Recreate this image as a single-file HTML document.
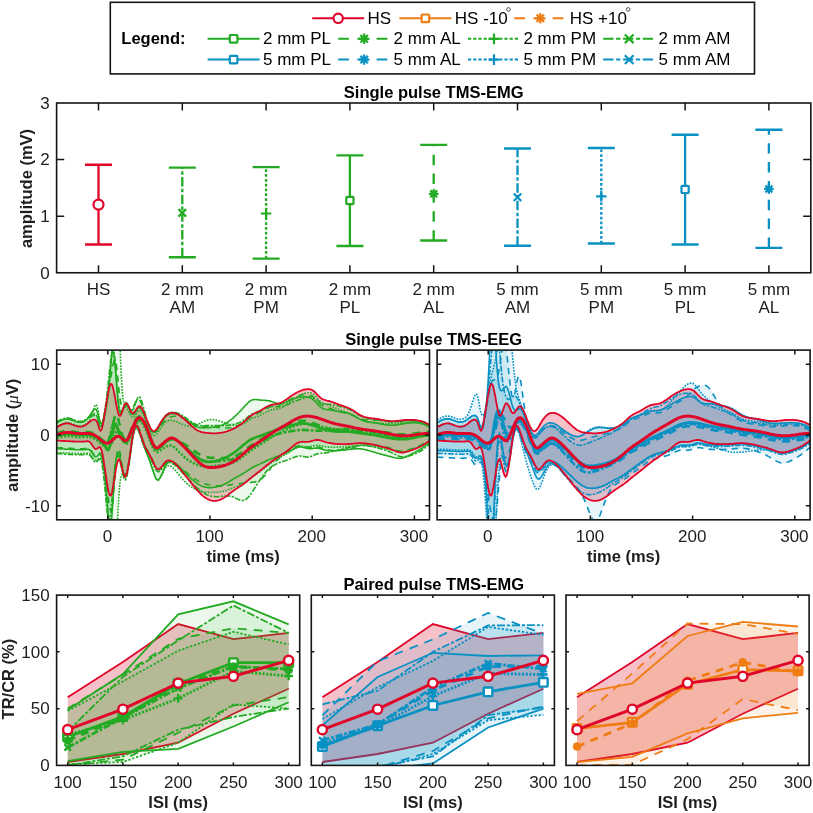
<!DOCTYPE html>
<html><head><meta charset="utf-8"><style>
html,body{margin:0;padding:0;background:#fff;}
svg{display:block;will-change:transform;}
text{font-family:"Liberation Sans",sans-serif;}
</style></head><body>
<svg width="813" height="813" viewBox="0 0 813 813">
<rect width="813" height="813" fill="#fff"/>
<rect x="110.3" y="2.3" width="644.2" height="71.6" fill="#fff" stroke="#151515" stroke-width="1.6"/>
<text x="121.3" y="43.8" font-size="16.5" font-weight="bold" fill="#000">Legend:</text>
<line x1="312.2" y1="18.3" x2="364.2" y2="18.3" stroke="rgb(224,6,42)" stroke-width="2"/>
<circle cx="338.2" cy="18.3" r="4.7" fill="#fff" stroke="rgb(224,6,42)" stroke-width="2.2"/>
<text x="367.6" y="23.9" font-size="17" fill="#000">HS</text>
<line x1="399.4" y1="18.3" x2="451.4" y2="18.3" stroke="rgb(240,125,20)" stroke-width="2"/>
<rect x="421.6" y="14.5" width="7.6" height="7.6" rx="0.8" fill="#fff" stroke="rgb(240,125,20)" stroke-width="2.2" stroke-linejoin="round"/>
<text x="454.8" y="23.9" font-size="17" fill="#000">HS -10</text>
<circle cx="508.4" cy="9.4" r="1.8" fill="none" stroke="#333" stroke-width="0.85"/>
<line x1="514.3" y1="18.3" x2="566.3" y2="18.3" stroke="rgb(240,125,20)" stroke-width="2" stroke-dasharray="10.7 8.5"/>
<path d="M535.1 18.3H545.5M540.3 13.1V23.5M536.56 14.56L544.04 22.04M536.56 22.04L544.04 14.56" stroke="rgb(240,125,20)" stroke-width="2.2" fill="none"/>
<text x="569.7" y="23.9" font-size="17" fill="#000">HS +10</text>
<circle cx="628.2" cy="9.4" r="1.8" fill="none" stroke="#333" stroke-width="0.85"/>
<line x1="207.6" y1="38.8" x2="259.6" y2="38.8" stroke="rgb(35,170,35)" stroke-width="2"/>
<rect x="229.8" y="35" width="7.6" height="7.6" rx="0.8" fill="#fff" stroke="rgb(35,170,35)" stroke-width="2.2" stroke-linejoin="round"/>
<text x="263" y="44.4" font-size="17" fill="#000">2 mm PL</text>
<line x1="338.2" y1="38.8" x2="390.2" y2="38.8" stroke="rgb(35,170,35)" stroke-width="2" stroke-dasharray="10.7 8.5"/>
<path d="M359 38.8H369.4M364.2 33.6V44M360.46 35.06L367.94 42.54M360.46 42.54L367.94 35.06" stroke="rgb(35,170,35)" stroke-width="2.2" fill="none"/>
<text x="393.6" y="44.4" font-size="17" fill="#000">2 mm AL</text>
<line x1="468" y1="38.8" x2="520" y2="38.8" stroke="rgb(35,170,35)" stroke-width="2" stroke-dasharray="3.2 2"/>
<path d="M488.6 38.8H499.4M494 33.4V44.2" stroke="rgb(35,170,35)" stroke-width="2.2" fill="none"/>
<text x="523.4" y="44.4" font-size="17" fill="#000">2 mm PM</text>
<line x1="603.2" y1="38.8" x2="655.2" y2="38.8" stroke="rgb(35,170,35)" stroke-width="2" stroke-dasharray="10.3 2.6 4.3 2.6"/>
<path d="M624.85 34.45L633.55 43.15M624.85 43.15L633.55 34.45" stroke="rgb(35,170,35)" stroke-width="2.2" fill="none"/>
<text x="658.6" y="44.4" font-size="17" fill="#000">2 mm AM</text>
<line x1="207.6" y1="59.6" x2="259.6" y2="59.6" stroke="rgb(10,145,195)" stroke-width="2"/>
<rect x="229.8" y="55.8" width="7.6" height="7.6" rx="0.8" fill="#fff" stroke="rgb(10,145,195)" stroke-width="2.2" stroke-linejoin="round"/>
<text x="263" y="65.2" font-size="17" fill="#000">5 mm PL</text>
<line x1="338.2" y1="59.6" x2="390.2" y2="59.6" stroke="rgb(10,145,195)" stroke-width="2" stroke-dasharray="10.7 8.5"/>
<path d="M359 59.6H369.4M364.2 54.4V64.8M360.46 55.86L367.94 63.34M360.46 63.34L367.94 55.86" stroke="rgb(10,145,195)" stroke-width="2.2" fill="none"/>
<text x="393.6" y="65.2" font-size="17" fill="#000">5 mm AL</text>
<line x1="468" y1="59.6" x2="520" y2="59.6" stroke="rgb(10,145,195)" stroke-width="2" stroke-dasharray="3.2 2"/>
<path d="M488.6 59.6H499.4M494 54.2V65" stroke="rgb(10,145,195)" stroke-width="2.2" fill="none"/>
<text x="523.4" y="65.2" font-size="17" fill="#000">5 mm PM</text>
<line x1="603.2" y1="59.6" x2="655.2" y2="59.6" stroke="rgb(10,145,195)" stroke-width="2" stroke-dasharray="10.3 2.6 4.3 2.6"/>
<path d="M624.85 55.25L633.55 63.95M624.85 63.95L633.55 55.25" stroke="rgb(10,145,195)" stroke-width="2.2" fill="none"/>
<text x="658.6" y="65.2" font-size="17" fill="#000">5 mm AM</text>
<rect x="56.6" y="103" width="754.2" height="169.75" fill="none" stroke="#151515" stroke-width="1.6"/>
<path d="M98.5 272.75v-7.6M98.5 103v7.6M182.3 272.75v-7.6M182.3 103v7.6M266.1 272.75v-7.6M266.1 103v7.6M349.9 272.75v-7.6M349.9 103v7.6M433.7 272.75v-7.6M433.7 103v7.6M517.5 272.75v-7.6M517.5 103v7.6M601.3 272.75v-7.6M601.3 103v7.6M685.1 272.75v-7.6M685.1 103v7.6M768.9 272.75v-7.6M768.9 103v7.6" stroke="#151515" stroke-width="1.5" fill="none"/>
<path d="M56.6 216.17h7.6M810.8 216.17h-7.6M56.6 159.58h7.6M810.8 159.58h-7.6" stroke="#151515" stroke-width="1.5" fill="none"/>
<text x="49.6" y="278.55" font-size="17" text-anchor="end" fill="#1e1e1e">0</text>
<text x="49.6" y="221.97" font-size="17" text-anchor="end" fill="#1e1e1e">1</text>
<text x="49.6" y="165.38" font-size="17" text-anchor="end" fill="#1e1e1e">2</text>
<text x="49.6" y="108.8" font-size="17" text-anchor="end" fill="#1e1e1e">3</text>
<text x="98.5" y="294.8" font-size="17" text-anchor="middle" fill="#1e1e1e">HS</text>
<text x="182.3" y="294.8" font-size="17" text-anchor="middle" fill="#1e1e1e">2 mm</text>
<text x="182.3" y="313.2" font-size="17" text-anchor="middle" fill="#1e1e1e">AM</text>
<text x="266.1" y="294.8" font-size="17" text-anchor="middle" fill="#1e1e1e">2 mm</text>
<text x="266.1" y="313.2" font-size="17" text-anchor="middle" fill="#1e1e1e">PM</text>
<text x="349.9" y="294.8" font-size="17" text-anchor="middle" fill="#1e1e1e">2 mm</text>
<text x="349.9" y="313.2" font-size="17" text-anchor="middle" fill="#1e1e1e">PL</text>
<text x="433.7" y="294.8" font-size="17" text-anchor="middle" fill="#1e1e1e">2 mm</text>
<text x="433.7" y="313.2" font-size="17" text-anchor="middle" fill="#1e1e1e">AL</text>
<text x="517.5" y="294.8" font-size="17" text-anchor="middle" fill="#1e1e1e">5 mm</text>
<text x="517.5" y="313.2" font-size="17" text-anchor="middle" fill="#1e1e1e">AM</text>
<text x="601.3" y="294.8" font-size="17" text-anchor="middle" fill="#1e1e1e">5 mm</text>
<text x="601.3" y="313.2" font-size="17" text-anchor="middle" fill="#1e1e1e">PM</text>
<text x="685.1" y="294.8" font-size="17" text-anchor="middle" fill="#1e1e1e">5 mm</text>
<text x="685.1" y="313.2" font-size="17" text-anchor="middle" fill="#1e1e1e">PL</text>
<text x="768.9" y="294.8" font-size="17" text-anchor="middle" fill="#1e1e1e">5 mm</text>
<text x="768.9" y="313.2" font-size="17" text-anchor="middle" fill="#1e1e1e">AL</text>
<text x="433.7" y="98.1" font-size="16.5" text-anchor="middle" font-weight="bold" fill="#000">Single pulse TMS-EMG</text>
<text x="0" y="0" font-size="16.5" text-anchor="middle" font-weight="bold" fill="#1e1e1e" transform="translate(32.4 188.5) rotate(-90)">amplitude (mV)</text>
<line x1="98.5" y1="244.51" x2="98.5" y2="164.79" stroke="rgb(224,6,42)" stroke-width="2.3"/>
<path d="M85 244.51H112M85 164.79H112" stroke="rgb(224,6,42)" stroke-width="2.4" fill="none"/>
<circle cx="98.5" cy="204.62" r="5" fill="#fff" stroke="rgb(224,6,42)" stroke-width="2.2"/>
<line x1="182.3" y1="257.19" x2="182.3" y2="167.67" stroke="rgb(35,170,35)" stroke-width="2.3" stroke-dasharray="9.49 2.34 3.51 2.34"/>
<path d="M168.8 257.19H195.8M168.8 167.67H195.8" stroke="rgb(35,170,35)" stroke-width="2.4" fill="none"/>
<path d="M178.55 209.13L186.05 216.63M178.55 216.63L186.05 209.13" stroke="rgb(35,170,35)" stroke-width="2.2" fill="none"/>
<line x1="266.1" y1="258.6" x2="266.1" y2="167.11" stroke="rgb(35,170,35)" stroke-width="2.3" stroke-dasharray="2.73 2.08"/>
<path d="M252.6 258.6H279.6M252.6 167.11H279.6" stroke="rgb(35,170,35)" stroke-width="2.4" fill="none"/>
<path d="M260.9 213.51H271.3M266.1 208.31V218.71" stroke="rgb(35,170,35)" stroke-width="2.2" fill="none"/>
<line x1="349.9" y1="245.93" x2="349.9" y2="155.4" stroke="rgb(35,170,35)" stroke-width="2.3"/>
<path d="M336.4 245.93H363.4M336.4 155.4H363.4" stroke="rgb(35,170,35)" stroke-width="2.4" fill="none"/>
<rect x="346.3" y="196.89" width="7.2" height="7.2" rx="0.8" fill="#fff" stroke="rgb(35,170,35)" stroke-width="2.2" stroke-linejoin="round"/>
<line x1="433.7" y1="240.55" x2="433.7" y2="144.87" stroke="rgb(35,170,35)" stroke-width="2.3" stroke-dasharray="10.4 8.45"/>
<path d="M420.2 240.55H447.2M420.2 144.87H447.2" stroke="rgb(35,170,35)" stroke-width="2.4" fill="none"/>
<path d="M428.9 193.82H438.5M433.7 189.02V198.62M430.24 190.36L437.16 197.27M430.24 197.27L437.16 190.36" stroke="rgb(35,170,35)" stroke-width="2.2" fill="none"/>
<line x1="517.5" y1="245.7" x2="517.5" y2="148.49" stroke="rgb(10,145,195)" stroke-width="2.3" stroke-dasharray="9.49 2.34 3.51 2.34"/>
<path d="M504 245.7H531M504 148.49H531" stroke="rgb(10,145,195)" stroke-width="2.4" fill="none"/>
<path d="M513.75 193.46L521.25 200.96M513.75 200.96L521.25 193.46" stroke="rgb(10,145,195)" stroke-width="2.2" fill="none"/>
<line x1="601.3" y1="243.5" x2="601.3" y2="147.98" stroke="rgb(10,145,195)" stroke-width="2.3" stroke-dasharray="2.73 2.08"/>
<path d="M587.8 243.5H614.8M587.8 147.98H614.8" stroke="rgb(10,145,195)" stroke-width="2.4" fill="none"/>
<path d="M596.1 196.31H606.5M601.3 191.11V201.51" stroke="rgb(10,145,195)" stroke-width="2.2" fill="none"/>
<line x1="685.1" y1="244.51" x2="685.1" y2="134.8" stroke="rgb(10,145,195)" stroke-width="2.3"/>
<path d="M671.6 244.51H698.6M671.6 134.8H698.6" stroke="rgb(10,145,195)" stroke-width="2.4" fill="none"/>
<rect x="681.5" y="185.8" width="7.2" height="7.2" rx="0.8" fill="#fff" stroke="rgb(10,145,195)" stroke-width="2.2" stroke-linejoin="round"/>
<line x1="768.9" y1="247.85" x2="768.9" y2="129.82" stroke="rgb(10,145,195)" stroke-width="2.3" stroke-dasharray="10.4 8.45"/>
<path d="M755.4 247.85H782.4M755.4 129.82H782.4" stroke="rgb(10,145,195)" stroke-width="2.4" fill="none"/>
<path d="M764.1 188.89H773.7M768.9 184.09V193.69M765.44 185.44L772.36 192.35M765.44 192.35L772.36 185.44" stroke="rgb(10,145,195)" stroke-width="2.2" fill="none"/>
<defs><clipPath id="cl1"><rect x="56.7" y="350.1" width="372.8" height="169.7"/></clipPath><clipPath id="cl2"><rect x="437.1" y="350.1" width="373" height="169.7"/></clipPath></defs>
<g clip-path="url(#cl1)">
<path d="M56.7 427.3 57.7 426.7 58.7 426.1 59.8 425.6 60.8 425.1 61.8 424.6 62.8 424.2 63.9 423.8 64.9 423.6 65.9 423.4 66.9 423.3 67.9 423.4 69.0 423.5 70.0 423.8 71.0 424.1 72.0 424.5 73.1 424.9 74.1 425.3 75.1 425.6 76.1 426.0 77.1 426.3 78.2 426.5 79.2 426.7 80.2 426.7 81.2 426.6 82.2 426.4 83.3 426.1 84.3 425.7 85.3 425.1 86.3 424.5 87.4 423.7 88.4 422.8 89.4 422.0 90.4 421.2 91.4 420.5 92.5 420.0 93.5 419.6 94.5 419.6 95.5 420.0 96.6 421.2 97.6 423.3 98.6 426.5 99.6 429.5 100.6 430.8 101.7 429.2 102.7 425.3 103.7 419.9 104.7 413.6 105.8 406.9 106.8 400.4 107.8 394.3 108.8 389.2 109.8 385.6 110.9 383.8 111.9 384.3 112.9 387.1 113.9 391.6 115.0 397.0 116.0 402.8 117.0 408.2 118.0 412.6 119.0 415.3 120.1 415.8 121.1 414.4 122.1 411.8 123.1 408.6 124.2 405.7 125.2 403.7 126.2 403.2 127.2 404.0 128.2 405.8 129.3 407.9 130.3 410.2 131.3 412.0 132.3 413.1 133.4 413.1 134.4 412.2 135.4 410.8 136.4 409.2 137.4 407.7 138.5 406.6 139.5 406.2 140.5 406.6 141.5 407.8 142.5 409.5 143.6 411.6 144.6 414.1 145.6 416.8 146.6 419.4 147.7 422.0 148.7 424.4 149.7 426.6 150.7 428.4 151.7 429.8 152.8 430.8 153.8 431.1 154.8 430.9 155.8 430.1 156.9 429.0 157.9 427.5 158.9 425.8 159.9 424.0 160.9 422.3 162.0 420.6 163.0 419.1 164.0 417.7 165.0 416.5 166.1 415.4 167.1 414.6 168.1 413.9 169.1 413.4 170.1 413.1 171.2 412.9 172.2 412.8 173.2 412.9 174.2 413.0 175.3 413.3 176.3 413.7 177.3 414.1 178.3 414.7 179.3 415.3 180.4 415.9 181.4 416.7 182.4 417.5 183.4 418.3 184.4 419.2 185.5 420.1 186.5 421.1 187.5 422.0 188.5 423.0 189.6 424.0 190.6 424.9 191.6 425.9 192.6 426.8 193.6 427.6 194.7 428.4 195.7 429.2 196.7 429.9 197.7 430.5 198.8 431.0 199.8 431.4 200.8 431.8 201.8 432.1 202.8 432.3 203.9 432.5 204.9 432.7 205.9 432.8 206.9 432.9 208.0 433.0 209.0 433.1 210.0 433.2 211.0 433.2 212.0 433.3 213.1 433.3 214.1 433.3 215.1 433.3 216.1 433.3 217.2 433.2 218.2 433.1 219.2 433.0 220.2 432.9 221.2 432.7 222.3 432.6 223.3 432.3 224.3 432.1 225.3 431.8 226.4 431.5 227.4 431.2 228.4 430.8 229.4 430.4 230.4 430.0 231.5 429.6 232.5 429.1 233.5 428.6 234.5 428.1 235.6 427.6 236.6 427.0 237.6 426.4 238.6 425.8 239.6 425.1 240.7 424.5 241.7 423.7 242.7 422.9 243.7 422.1 244.7 421.2 245.8 420.2 246.8 419.2 247.8 418.2 248.8 417.3 249.9 416.4 250.9 415.6 251.9 414.9 252.9 414.2 253.9 413.7 255.0 413.2 256.0 412.7 257.0 412.2 258.0 411.8 259.1 411.3 260.1 410.8 261.1 410.2 262.1 409.6 263.1 409.0 264.2 408.3 265.2 407.7 266.2 407.1 267.2 406.5 268.3 406.0 269.3 405.6 270.3 405.2 271.3 404.9 272.3 404.7 273.4 404.5 274.4 404.4 275.4 404.2 276.4 404.1 277.5 403.9 278.5 403.6 279.5 403.3 280.5 402.9 281.5 402.5 282.6 401.9 283.6 401.3 284.6 400.6 285.6 399.9 286.7 399.2 287.7 398.5 288.7 397.7 289.7 397.0 290.7 396.3 291.8 395.6 292.8 395.0 293.8 394.3 294.8 393.7 295.8 393.1 296.9 392.5 297.9 392.0 298.9 391.5 299.9 391.1 301.0 390.6 302.0 390.3 303.0 389.9 304.0 389.7 305.0 389.5 306.1 389.3 307.1 389.2 308.1 389.2 309.1 389.2 310.2 389.4 311.2 389.7 312.2 390.1 313.2 390.7 314.2 391.5 315.3 392.5 316.3 393.5 317.3 394.6 318.3 395.7 319.4 396.7 320.4 397.6 321.4 398.4 322.4 399.0 323.4 399.5 324.5 399.9 325.5 400.2 326.5 400.5 327.5 400.8 328.6 401.0 329.6 401.2 330.6 401.5 331.6 401.8 332.6 402.1 333.7 402.5 334.7 402.9 335.7 403.3 336.7 403.7 337.8 404.1 338.8 404.5 339.8 404.9 340.8 405.2 341.8 405.6 342.9 405.9 343.9 406.3 344.9 406.6 345.9 407.0 346.9 407.4 348.0 407.8 349.0 408.2 350.0 408.7 351.0 409.3 352.1 409.8 353.1 410.5 354.1 411.1 355.1 411.8 356.1 412.5 357.2 413.2 358.2 413.9 359.2 414.5 360.2 415.1 361.3 415.7 362.3 416.1 363.3 416.5 364.3 416.9 365.3 417.2 366.4 417.4 367.4 417.6 368.4 417.8 369.4 418.0 370.5 418.1 371.5 418.3 372.5 418.4 373.5 418.5 374.5 418.6 375.6 418.7 376.6 418.9 377.6 419.0 378.6 419.2 379.7 419.4 380.7 419.6 381.7 419.8 382.7 420.0 383.7 420.2 384.8 420.4 385.8 420.6 386.8 420.7 387.8 420.9 388.9 421.0 389.9 421.1 390.9 421.2 391.9 421.2 392.9 421.2 394.0 421.1 395.0 421.1 396.0 421.0 397.0 420.9 398.0 420.8 399.1 420.7 400.1 420.6 401.1 420.5 402.1 420.3 403.2 420.2 404.2 420.1 405.2 420.0 406.2 420.0 407.2 419.9 408.3 419.9 409.3 419.8 410.3 419.8 411.3 419.8 412.4 419.9 413.4 419.9 414.4 420.0 415.4 420.1 416.4 420.2 417.5 420.4 418.5 420.6 419.5 420.8 420.5 421.0 421.6 421.3 422.6 421.6 423.6 422.0 424.6 422.4 425.6 422.9 426.7 423.4 427.7 423.9 428.7 424.5 429.7 425.0 L429.7 440.5 428.7 441.2 427.7 442.0 426.7 442.7 425.6 443.4 424.6 444.1 423.6 444.7 422.6 445.4 421.6 446.0 420.5 446.5 419.5 447.0 418.5 447.5 417.5 447.9 416.4 448.4 415.4 448.8 414.4 449.1 413.4 449.5 412.4 449.9 411.3 450.3 410.3 450.6 409.3 451.0 408.3 451.3 407.2 451.7 406.2 451.9 405.2 452.2 404.2 452.4 403.2 452.5 402.1 452.5 401.1 452.5 400.1 452.4 399.1 452.2 398.0 452.0 397.0 451.7 396.0 451.3 395.0 450.9 394.0 450.5 392.9 450.1 391.9 449.7 390.9 449.3 389.9 449.0 388.9 448.6 387.8 448.3 386.8 447.9 385.8 447.6 384.8 447.3 383.7 447.1 382.7 446.8 381.7 446.6 380.7 446.3 379.7 446.1 378.6 445.8 377.6 445.6 376.6 445.4 375.6 445.1 374.5 444.9 373.5 444.7 372.5 444.5 371.5 444.3 370.5 444.1 369.4 443.9 368.4 443.8 367.4 443.6 366.4 443.5 365.3 443.4 364.3 443.3 363.3 443.2 362.3 443.2 361.3 443.1 360.2 443.1 359.2 443.2 358.2 443.2 357.2 443.3 356.1 443.4 355.1 443.5 354.1 443.6 353.1 443.7 352.1 443.8 351.0 443.9 350.0 443.9 349.0 444.0 348.0 444.1 346.9 444.1 345.9 444.1 344.9 444.2 343.9 444.2 342.9 444.2 341.8 444.2 340.8 444.1 339.8 444.1 338.8 444.1 337.8 444.0 336.7 443.9 335.7 443.9 334.7 443.8 333.7 443.6 332.6 443.5 331.6 443.4 330.6 443.2 329.6 443.0 328.6 442.8 327.5 442.6 326.5 442.3 325.5 442.1 324.5 441.7 323.4 441.4 322.4 441.1 321.4 440.7 320.4 440.4 319.4 440.2 318.3 440.0 317.3 439.9 316.3 440.0 315.3 440.2 314.2 440.4 313.2 440.7 312.2 441.0 311.2 441.2 310.2 441.5 309.1 441.7 308.1 441.8 307.1 441.8 306.1 441.8 305.0 441.8 304.0 441.8 303.0 441.7 302.0 441.8 301.0 441.9 299.9 442.1 298.9 442.4 297.9 442.9 296.9 443.4 295.8 444.1 294.8 444.8 293.8 445.6 292.8 446.4 291.8 447.3 290.7 448.1 289.7 449.0 288.7 449.8 287.7 450.6 286.7 451.3 285.6 452.0 284.6 452.7 283.6 453.4 282.6 454.1 281.5 454.8 280.5 455.5 279.5 456.1 278.5 456.8 277.5 457.5 276.4 458.2 275.4 458.9 274.4 459.6 273.4 460.3 272.3 461.1 271.3 461.8 270.3 462.6 269.3 463.4 268.3 464.2 267.2 465.0 266.2 465.8 265.2 466.7 264.2 467.5 263.1 468.4 262.1 469.2 261.1 470.0 260.1 470.8 259.1 471.6 258.0 472.4 257.0 473.2 256.0 474.0 255.0 474.8 253.9 475.6 252.9 476.4 251.9 477.2 250.9 478.0 249.9 478.9 248.8 479.7 247.8 480.6 246.8 481.5 245.8 482.3 244.7 483.1 243.7 483.9 242.7 484.6 241.7 485.3 240.7 485.9 239.6 486.6 238.6 487.2 237.6 487.9 236.6 488.5 235.6 489.2 234.5 489.9 233.5 490.7 232.5 491.4 231.5 492.2 230.4 493.0 229.4 493.8 228.4 494.7 227.4 495.5 226.4 496.2 225.3 497.0 224.3 497.6 223.3 498.3 222.3 498.8 221.2 499.3 220.2 499.7 219.2 500.1 218.2 500.4 217.2 500.6 216.1 500.8 215.1 500.8 214.1 500.8 213.1 500.8 212.0 500.6 211.0 500.4 210.0 500.1 209.0 499.7 208.0 499.3 206.9 498.7 205.9 498.1 204.9 497.5 203.9 496.7 202.8 495.9 201.8 495.0 200.8 494.0 199.8 493.0 198.8 491.9 197.7 490.8 196.7 489.6 195.7 488.4 194.7 487.2 193.6 485.9 192.6 484.7 191.6 483.4 190.6 482.1 189.6 480.8 188.5 479.5 187.5 478.2 186.5 476.9 185.5 475.6 184.4 474.3 183.4 473.0 182.4 471.8 181.4 470.5 180.4 469.3 179.3 468.1 178.3 466.9 177.3 465.8 176.3 464.7 175.3 463.8 174.2 462.9 173.2 462.1 172.2 461.5 171.2 461.0 170.1 460.6 169.1 460.5 168.1 460.5 167.1 460.8 166.1 461.4 165.0 462.3 164.0 463.5 163.0 464.9 162.0 466.3 160.9 467.6 159.9 468.6 158.9 469.2 157.9 469.3 156.9 468.7 155.8 467.3 154.8 465.5 153.8 463.3 152.8 461.1 151.7 458.9 150.7 457.0 149.7 455.2 148.7 453.5 147.7 451.8 146.6 450.0 145.6 447.9 144.6 445.6 143.6 443.0 142.5 440.1 141.5 437.1 140.5 434.1 139.5 431.2 138.5 428.6 137.4 426.5 136.4 425.4 135.4 425.7 134.4 428.0 133.4 432.4 132.3 438.3 131.3 445.3 130.3 452.7 129.3 459.9 128.2 466.5 127.2 471.9 126.2 475.5 125.2 476.8 124.2 475.6 123.1 472.6 122.1 468.6 121.1 464.5 120.1 461.1 119.0 459.4 118.0 460.2 117.0 463.6 116.0 468.9 115.0 475.2 113.9 481.9 112.9 488.0 111.9 492.8 110.9 495.5 109.8 495.4 108.8 492.7 107.8 488.0 106.8 481.8 105.8 474.9 104.7 467.7 103.7 461.0 102.7 455.2 101.7 450.8 100.6 448.0 99.6 447.0 98.6 447.3 97.6 448.2 96.6 449.0 95.5 449.1 94.5 448.4 93.5 447.1 92.5 445.5 91.4 443.9 90.4 442.6 89.4 441.8 88.4 441.3 87.4 441.2 86.3 441.3 85.3 441.4 84.3 441.5 83.3 441.6 82.2 441.6 81.2 441.7 80.2 441.7 79.2 441.7 78.2 441.7 77.1 441.6 76.1 441.6 75.1 441.6 74.1 441.5 73.1 441.5 72.0 441.4 71.0 441.4 70.0 441.3 69.0 441.2 67.9 441.2 66.9 441.1 65.9 441.1 64.9 441.0 63.9 441.0 62.8 440.9 61.8 440.9 60.8 440.8 59.8 440.7 58.7 440.7 57.7 440.6 56.7 440.6Z" fill="rgb(224,6,42)" fill-opacity="0.25" stroke="none"/>
<path d="M56.7 423.1 57.7 422.5 58.7 421.9 59.8 421.3 60.8 420.8 61.8 420.3 62.8 419.9 63.9 419.6 64.9 419.3 65.9 419.2 66.9 419.1 67.9 419.1 69.0 419.3 70.0 419.5 71.0 419.9 72.0 420.2 73.1 420.6 74.1 421.0 75.1 421.4 76.1 421.8 77.1 422.1 78.2 422.3 79.2 422.4 80.2 422.5 81.2 422.4 82.2 422.2 83.3 421.9 84.3 421.4 85.3 420.7 86.3 419.9 87.4 418.9 88.4 417.6 89.4 416.2 90.4 414.6 91.4 413.0 92.5 411.5 93.5 410.1 94.5 409.2 95.5 409.0 96.6 410.0 97.6 412.5 98.6 416.5 99.6 420.6 100.6 423.3 101.7 423.4 102.7 421.3 103.7 417.9 104.7 413.7 105.8 409.0 106.8 403.6 107.8 396.7 108.8 387.4 109.8 375.9 110.9 363.8 111.9 354.4 112.9 350.8 113.9 354.4 115.0 364.2 116.0 377.2 117.0 390.5 118.0 401.6 119.0 409.4 120.1 413.2 121.1 413.7 122.1 412.2 123.1 409.6 124.2 407.0 125.2 405.1 126.2 404.6 127.2 405.5 128.2 407.2 129.3 409.4 130.3 411.6 131.3 413.4 132.3 414.5 133.4 414.5 134.4 413.6 135.4 412.2 136.4 410.6 137.4 409.1 138.5 408.0 139.5 407.6 140.5 408.0 141.5 409.2 142.5 410.9 143.6 413.1 144.6 415.5 145.6 418.2 146.6 420.8 147.7 423.4 148.7 425.8 149.7 428.0 150.7 429.8 151.7 431.2 152.8 432.1 153.8 432.5 154.8 432.2 155.8 431.5 156.9 430.3 157.9 428.8 158.9 427.1 159.9 425.3 160.9 423.5 162.0 421.8 163.0 420.3 164.0 418.8 165.0 417.6 166.1 416.5 167.1 415.6 168.1 414.9 169.1 414.4 170.1 414.0 171.2 413.7 172.2 413.6 173.2 413.5 174.2 413.6 175.3 413.8 176.3 414.0 177.3 414.4 178.3 414.8 179.3 415.2 180.4 415.8 181.4 416.4 182.4 417.0 183.4 417.7 184.4 418.4 185.5 419.2 186.5 419.9 187.5 420.7 188.5 421.5 189.6 422.2 190.6 423.0 191.6 423.7 192.6 424.4 193.6 425.1 194.7 425.7 195.7 426.2 196.7 426.7 197.7 427.0 198.8 427.3 199.8 427.6 200.8 427.7 201.8 427.8 202.8 427.9 203.9 427.9 204.9 427.8 205.9 427.8 206.9 427.7 208.0 427.7 209.0 427.6 210.0 427.5 211.0 427.4 212.0 427.3 213.1 427.2 214.1 427.1 215.1 426.9 216.1 426.7 217.2 426.5 218.2 426.2 219.2 426.0 220.2 425.6 221.2 425.3 222.3 424.9 223.3 424.5 224.3 424.0 225.3 423.5 226.4 422.9 227.4 422.3 228.4 421.6 229.4 420.9 230.4 420.1 231.5 419.3 232.5 418.5 233.5 417.6 234.5 416.7 235.6 415.7 236.6 414.7 237.6 413.7 238.6 412.7 239.6 411.7 240.7 410.6 241.7 409.5 242.7 408.5 243.7 407.3 244.7 406.2 245.8 405.1 246.8 404.0 247.8 403.0 248.8 402.0 249.9 401.2 250.9 400.6 251.9 400.1 252.9 399.8 253.9 399.6 255.0 399.5 256.0 399.5 257.0 399.6 258.0 399.7 259.1 399.9 260.1 400.0 261.1 400.1 262.1 400.2 263.1 400.3 264.2 400.3 265.2 400.4 266.2 400.5 267.2 400.6 268.3 400.7 269.3 400.9 270.3 401.1 271.3 401.4 272.3 401.8 273.4 402.1 274.4 402.5 275.4 402.8 276.4 403.1 277.5 403.3 278.5 403.5 279.5 403.6 280.5 403.6 281.5 403.4 282.6 403.2 283.6 402.9 284.6 402.6 285.6 402.2 286.7 401.7 287.7 401.3 288.7 400.8 289.7 400.4 290.7 400.0 291.8 399.5 292.8 399.1 293.8 398.8 294.8 398.4 295.8 398.1 296.9 397.8 297.9 397.5 298.9 397.3 299.9 397.1 301.0 397.0 302.0 396.9 303.0 396.8 304.0 396.8 305.0 396.8 306.1 396.8 307.1 397.0 308.1 397.2 309.1 397.4 310.2 397.8 311.2 398.2 312.2 398.8 313.2 399.6 314.2 400.5 315.3 401.5 316.3 402.7 317.3 403.8 318.3 404.9 319.4 406.0 320.4 406.9 321.4 407.7 322.4 408.3 323.4 408.7 324.5 409.1 325.5 409.3 326.5 409.5 327.5 409.7 328.6 409.8 329.6 409.9 330.6 410.0 331.6 410.1 332.6 410.3 333.7 410.5 334.7 410.7 335.7 410.9 336.7 411.1 337.8 411.3 338.8 411.5 339.8 411.7 340.8 411.9 341.8 412.0 342.9 412.2 343.9 412.3 344.9 412.5 345.9 412.7 346.9 412.9 348.0 413.2 349.0 413.5 350.0 413.8 351.0 414.2 352.1 414.7 353.1 415.2 354.1 415.8 355.1 416.4 356.1 417.0 357.2 417.7 358.2 418.3 359.2 418.9 360.2 419.4 361.3 419.9 362.3 420.3 363.3 420.7 364.3 421.0 365.3 421.3 366.4 421.6 367.4 421.8 368.4 422.0 369.4 422.2 370.5 422.3 371.5 422.5 372.5 422.6 373.5 422.7 374.5 422.9 375.6 423.0 376.6 423.1 377.6 423.3 378.6 423.5 379.7 423.7 380.7 423.9 381.7 424.1 382.7 424.3 383.7 424.5 384.8 424.7 385.8 424.8 386.8 425.0 387.8 425.1 388.9 425.2 389.9 425.3 390.9 425.3 391.9 425.3 392.9 425.3 394.0 425.2 395.0 425.1 396.0 424.9 397.0 424.8 398.0 424.6 399.1 424.5 400.1 424.3 401.1 424.1 402.1 423.9 403.2 423.8 404.2 423.6 405.2 423.4 406.2 423.3 407.2 423.2 408.3 423.1 409.3 423.0 410.3 422.9 411.3 422.8 412.4 422.8 413.4 422.8 414.4 422.8 415.4 422.8 416.4 422.9 417.5 423.0 418.5 423.1 419.5 423.2 420.5 423.4 421.6 423.7 422.6 423.9 423.6 424.3 424.6 424.6 425.6 425.0 426.7 425.5 427.7 426.0 428.7 426.5 429.7 427.0 L429.7 442.5 428.7 443.2 427.7 444.0 426.7 444.8 425.6 445.6 424.6 446.3 423.6 447.1 422.6 447.8 421.6 448.5 420.5 449.2 419.5 449.8 418.5 450.4 417.5 451.0 416.4 451.5 415.4 452.1 414.4 452.6 413.4 453.1 412.4 453.7 411.3 454.2 410.3 454.8 409.3 455.3 408.3 455.8 407.2 456.3 406.2 456.8 405.2 457.2 404.2 457.6 403.2 457.9 402.1 458.1 401.1 458.3 400.1 458.4 399.1 458.3 398.0 458.3 397.0 458.2 396.0 458.0 395.0 457.8 394.0 457.5 392.9 457.3 391.9 457.0 390.9 456.7 389.9 456.4 388.9 456.2 387.8 455.9 386.8 455.6 385.8 455.4 384.8 455.1 383.7 454.9 382.7 454.6 381.7 454.3 380.7 454.1 379.7 453.8 378.6 453.5 377.6 453.2 376.6 452.9 375.6 452.6 374.5 452.3 373.5 452.0 372.5 451.7 371.5 451.4 370.5 451.0 369.4 450.7 368.4 450.5 367.4 450.2 366.4 449.9 365.3 449.7 364.3 449.5 363.3 449.3 362.3 449.1 361.3 449.0 360.2 448.9 359.2 448.8 358.2 448.8 357.2 448.8 356.1 448.8 355.1 448.9 354.1 448.9 353.1 449.0 352.1 449.1 351.0 449.2 350.0 449.3 349.0 449.4 348.0 449.5 346.9 449.6 345.9 449.7 344.9 449.8 343.9 449.9 342.9 450.1 341.8 450.2 340.8 450.3 339.8 450.4 338.8 450.5 337.8 450.6 336.7 450.7 335.7 450.7 334.7 450.8 333.7 450.8 332.6 450.9 331.6 450.8 330.6 450.8 329.6 450.8 328.6 450.7 327.5 450.5 326.5 450.4 325.5 450.2 324.5 449.9 323.4 449.6 322.4 449.3 321.4 449.0 320.4 448.7 319.4 448.4 318.3 448.2 317.3 448.1 316.3 448.1 315.3 448.1 314.2 448.2 313.2 448.3 312.2 448.5 311.2 448.6 310.2 448.6 309.1 448.6 308.1 448.5 307.1 448.3 306.1 448.1 305.0 447.8 304.0 447.6 303.0 447.3 302.0 447.1 301.0 447.0 299.9 446.9 298.9 447.0 297.9 447.2 296.9 447.5 295.8 447.9 294.8 448.3 293.8 448.8 292.8 449.4 291.8 449.9 290.7 450.5 289.7 451.1 288.7 451.6 287.7 452.1 286.7 452.6 285.6 453.0 284.6 453.5 283.6 453.9 282.6 454.3 281.5 454.7 280.5 455.1 279.5 455.5 278.5 455.9 277.5 456.2 276.4 456.6 275.4 457.0 274.4 457.4 273.4 457.9 272.3 458.3 271.3 458.7 270.3 459.1 269.3 459.6 268.3 460.1 267.2 460.5 266.2 461.0 265.2 461.5 264.2 462.0 263.1 462.5 262.1 463.0 261.1 463.4 260.1 463.9 259.1 464.4 258.0 464.9 257.0 465.3 256.0 465.8 255.0 466.3 253.9 466.8 252.9 467.3 251.9 467.9 250.9 468.5 249.9 469.2 248.8 469.8 247.8 470.5 246.8 471.2 245.8 471.9 244.7 472.6 243.7 473.2 242.7 473.8 241.7 474.4 240.7 475.0 239.6 475.5 238.6 476.1 237.6 476.6 236.6 477.2 235.6 477.7 234.5 478.3 233.5 478.9 232.5 479.5 231.5 480.2 230.4 480.8 229.4 481.4 228.4 482.1 227.4 482.7 226.4 483.3 225.3 483.8 224.3 484.3 223.3 484.8 222.3 485.2 221.2 485.6 220.2 486.0 219.2 486.3 218.2 486.5 217.2 486.8 216.1 487.0 215.1 487.2 214.1 487.3 213.1 487.5 212.0 487.6 211.0 487.6 210.0 487.6 209.0 487.6 208.0 487.6 206.9 487.5 205.9 487.3 204.9 487.1 203.9 486.8 202.8 486.5 201.8 486.1 200.8 485.6 199.8 485.1 198.8 484.5 197.7 483.8 196.7 483.1 195.7 482.4 194.7 481.5 193.6 480.7 192.6 479.8 191.6 478.9 190.6 478.0 189.6 477.0 188.5 476.0 187.5 475.0 186.5 474.0 185.5 473.0 184.4 471.9 183.4 470.9 182.4 469.8 181.4 468.8 180.4 467.7 179.3 466.7 178.3 465.7 177.3 464.8 176.3 463.9 175.3 463.1 174.2 462.4 173.2 461.9 172.2 461.5 171.2 461.3 170.1 461.4 169.1 461.7 168.1 462.4 167.1 463.5 166.1 464.9 165.0 466.8 164.0 469.0 163.0 471.5 162.0 473.9 160.9 476.2 159.9 478.1 158.9 479.4 157.9 480.0 156.9 479.6 155.8 478.1 154.8 475.9 153.8 473.1 152.8 470.0 151.7 466.9 150.7 463.9 149.7 461.0 148.7 458.3 147.7 455.6 146.6 452.9 145.6 450.2 144.6 447.3 143.6 444.3 142.5 441.2 141.5 438.0 140.5 435.0 139.5 432.1 138.5 429.6 137.4 427.6 136.4 426.5 135.4 426.9 134.4 429.2 133.4 433.5 132.3 439.3 131.3 446.0 130.3 453.1 129.3 460.1 128.2 466.5 127.2 471.7 126.2 475.1 125.2 476.4 124.2 475.1 123.1 471.9 122.1 467.6 121.1 462.6 120.1 457.9 119.0 454.1 118.0 452.5 117.0 454.2 116.0 459.8 115.0 469.9 113.9 484.3 112.9 500.8 111.9 516.0 110.9 525.6 109.8 526.9 108.8 520.4 107.8 509.1 106.8 496.2 105.8 484.2 104.7 474.3 103.7 466.6 102.7 460.9 101.7 457.1 100.6 454.8 99.6 454.3 98.6 454.8 97.6 455.8 96.6 456.6 95.5 456.8 94.5 456.1 93.5 454.9 92.5 453.4 91.4 451.9 90.4 450.6 89.4 449.8 88.4 449.4 87.4 449.3 86.3 449.4 85.3 449.5 84.3 449.6 83.3 449.7 82.2 449.7 81.2 449.7 80.2 449.8 79.2 449.8 78.2 449.7 77.1 449.7 76.1 449.7 75.1 449.6 74.1 449.6 73.1 449.5 72.0 449.5 71.0 449.4 70.0 449.4 69.0 449.3 67.9 449.2 66.9 449.2 65.9 449.1 64.9 449.1 63.9 449.0 62.8 449.0 61.8 449.0 60.8 448.9 59.8 448.9 58.7 448.8 57.7 448.8 56.7 448.8Z" fill="rgb(35,170,35)" fill-opacity="0.085" stroke="none"/>
<path d="M56.7 422.4 57.7 421.8 58.7 421.3 59.8 420.7 60.8 420.2 61.8 419.8 62.8 419.4 63.9 419.1 64.9 418.8 65.9 418.7 66.9 418.6 67.9 418.6 69.0 418.8 70.0 419.0 71.0 419.3 72.0 419.6 73.1 420.0 74.1 420.4 75.1 420.8 76.1 421.1 77.1 421.4 78.2 421.6 79.2 421.7 80.2 421.7 81.2 421.7 82.2 421.5 83.3 421.2 84.3 420.8 85.3 420.3 86.3 419.7 87.4 419.0 88.4 418.2 89.4 417.5 90.4 416.8 91.4 416.2 92.5 415.8 93.5 415.5 94.5 415.5 95.5 416.0 96.6 417.2 97.6 419.3 98.6 422.3 99.6 425.3 100.6 426.8 101.7 425.9 102.7 422.9 103.7 418.6 104.7 413.4 105.8 407.8 106.8 402.0 107.8 396.1 108.8 390.1 109.8 383.9 110.9 377.5 111.9 371.0 112.9 365.2 113.9 360.9 115.0 359.6 116.0 362.4 117.0 369.5 118.0 379.6 119.0 390.3 120.1 399.1 121.1 404.7 122.1 407.3 123.1 407.5 124.2 406.5 125.2 405.4 126.2 405.0 127.2 405.5 128.2 406.4 129.3 407.5 130.3 408.3 131.3 408.6 132.3 408.0 133.4 406.5 134.4 404.4 135.4 402.3 136.4 400.4 137.4 399.2 138.5 398.8 139.5 399.6 140.5 401.3 141.5 403.6 142.5 406.5 143.6 409.5 144.6 412.7 145.6 415.8 146.6 418.8 147.7 421.6 148.7 424.3 149.7 426.6 150.7 428.7 151.7 430.3 152.8 431.6 153.8 432.2 154.8 432.3 155.8 431.9 156.9 431.1 157.9 429.9 158.9 428.5 159.9 427.0 160.9 425.5 162.0 424.1 163.0 422.8 164.0 421.6 165.0 420.5 166.1 419.6 167.1 418.7 168.1 418.1 169.1 417.5 170.1 417.1 171.2 416.7 172.2 416.5 173.2 416.3 174.2 416.3 175.3 416.3 176.3 416.3 177.3 416.5 178.3 416.7 179.3 416.9 180.4 417.2 181.4 417.5 182.4 417.9 183.4 418.4 184.4 418.9 185.5 419.4 186.5 419.9 187.5 420.5 188.5 421.1 189.6 421.7 190.6 422.3 191.6 422.9 192.6 423.4 193.6 423.9 194.7 424.4 195.7 424.9 196.7 425.3 197.7 425.6 198.8 425.9 199.8 426.1 200.8 426.2 201.8 426.3 202.8 426.4 203.9 426.5 204.9 426.5 205.9 426.5 206.9 426.6 208.0 426.6 209.0 426.7 210.0 426.7 211.0 426.8 212.0 426.9 213.1 427.0 214.1 427.1 215.1 427.2 216.1 427.3 217.2 427.4 218.2 427.5 219.2 427.6 220.2 427.7 221.2 427.8 222.3 427.9 223.3 428.0 224.3 428.0 225.3 428.0 226.4 428.0 227.4 428.0 228.4 427.9 229.4 427.8 230.4 427.7 231.5 427.5 232.5 427.3 233.5 427.1 234.5 426.8 235.6 426.5 236.6 426.2 237.6 425.8 238.6 425.4 239.6 424.9 240.7 424.4 241.7 423.8 242.7 423.2 243.7 422.5 244.7 421.8 245.8 420.9 246.8 420.1 247.8 419.2 248.8 418.3 249.9 417.5 250.9 416.8 251.9 416.1 252.9 415.6 253.9 415.1 255.0 414.6 256.0 414.1 257.0 413.7 258.0 413.3 259.1 412.8 260.1 412.3 261.1 411.7 262.1 411.2 263.1 410.5 264.2 409.9 265.2 409.3 266.2 408.7 267.2 408.2 268.3 407.7 269.3 407.2 270.3 406.8 271.3 406.5 272.3 406.3 273.4 406.1 274.4 406.0 275.4 405.8 276.4 405.7 277.5 405.5 278.5 405.3 279.5 405.0 280.5 404.7 281.5 404.3 282.6 403.8 283.6 403.3 284.6 402.7 285.6 402.1 286.7 401.5 287.7 400.9 288.7 400.3 289.7 399.7 290.7 399.1 291.8 398.6 292.8 398.0 293.8 397.5 294.8 397.1 295.8 396.6 296.9 396.2 297.9 395.9 298.9 395.5 299.9 395.2 301.0 395.0 302.0 394.8 303.0 394.6 304.0 394.5 305.0 394.5 306.1 394.5 307.1 394.6 308.1 394.7 309.1 394.9 310.2 395.2 311.2 395.6 312.2 396.2 313.2 396.9 314.2 397.8 315.3 398.8 316.3 399.9 317.3 401.0 318.3 402.1 319.4 403.1 320.4 404.1 321.4 404.9 322.4 405.6 323.4 406.1 324.5 406.6 325.5 407.0 326.5 407.3 327.5 407.6 328.6 407.9 329.6 408.2 330.6 408.5 331.6 408.8 332.6 409.2 333.7 409.5 334.7 409.9 335.7 410.3 336.7 410.6 337.8 411.0 338.8 411.3 339.8 411.6 340.8 411.9 341.8 412.1 342.9 412.4 343.9 412.6 344.9 412.9 345.9 413.1 346.9 413.4 348.0 413.7 349.0 414.0 350.0 414.3 351.0 414.7 352.1 415.1 353.1 415.5 354.1 416.0 355.1 416.5 356.1 417.0 357.2 417.5 358.2 418.0 359.2 418.4 360.2 418.8 361.3 419.1 362.3 419.4 363.3 419.6 364.3 419.8 365.3 419.9 366.4 420.0 367.4 420.0 368.4 420.1 369.4 420.1 370.5 420.1 371.5 420.1 372.5 420.1 373.5 420.1 374.5 420.1 375.6 420.1 376.6 420.1 377.6 420.1 378.6 420.2 379.7 420.3 380.7 420.4 381.7 420.5 382.7 420.7 383.7 420.8 384.8 420.9 385.8 421.0 386.8 421.2 387.8 421.3 388.9 421.3 389.9 421.4 390.9 421.4 391.9 421.4 392.9 421.4 394.0 421.4 395.0 421.3 396.0 421.2 397.0 421.1 398.0 421.0 399.1 420.9 400.1 420.8 401.1 420.7 402.1 420.6 403.2 420.5 404.2 420.4 405.2 420.3 406.2 420.2 407.2 420.1 408.3 420.1 409.3 420.0 410.3 420.0 411.3 420.0 412.4 420.0 413.4 420.0 414.4 420.1 415.4 420.2 416.4 420.3 417.5 420.4 418.5 420.5 419.5 420.7 420.5 420.9 421.6 421.2 422.6 421.4 423.6 421.8 424.6 422.1 425.6 422.5 426.7 423.0 427.7 423.4 428.7 423.9 429.7 424.4 L429.7 439.1 428.7 439.8 427.7 440.6 426.7 441.3 425.6 442.0 424.6 442.7 423.6 443.3 422.6 444.0 421.6 444.6 420.5 445.1 419.5 445.6 418.5 446.1 417.5 446.5 416.4 447.0 415.4 447.4 414.4 447.7 413.4 448.1 412.4 448.5 411.3 448.9 410.3 449.2 409.3 449.6 408.3 450.0 407.2 450.3 406.2 450.6 405.2 450.8 404.2 451.0 403.2 451.2 402.1 451.2 401.1 451.2 400.1 451.1 399.1 450.9 398.0 450.7 397.0 450.4 396.0 450.1 395.0 449.8 394.0 449.4 392.9 449.0 391.9 448.7 390.9 448.3 389.9 448.0 388.9 447.7 387.8 447.4 386.8 447.1 385.8 446.9 384.8 446.6 383.7 446.4 382.7 446.3 381.7 446.1 380.7 445.9 379.7 445.8 378.6 445.6 377.6 445.5 376.6 445.4 375.6 445.3 374.5 445.2 373.5 445.1 372.5 445.0 371.5 445.0 370.5 444.9 369.4 444.9 368.4 444.9 367.4 444.9 366.4 445.0 365.3 445.0 364.3 445.1 363.3 445.2 362.3 445.4 361.3 445.5 360.2 445.7 359.2 445.9 358.2 446.2 357.2 446.5 356.1 446.8 355.1 447.1 354.1 447.4 353.1 447.7 352.1 448.0 351.0 448.2 350.0 448.5 349.0 448.8 348.0 449.0 346.9 449.2 345.9 449.5 344.9 449.7 343.9 449.9 342.9 450.0 341.8 450.2 340.8 450.3 339.8 450.4 338.8 450.5 337.8 450.6 336.7 450.6 335.7 450.7 334.7 450.7 333.7 450.6 332.6 450.6 331.6 450.5 330.6 450.4 329.6 450.3 328.6 450.1 327.5 449.9 326.5 449.7 325.5 449.4 324.5 449.1 323.4 448.7 322.4 448.3 321.4 447.9 320.4 447.6 319.4 447.2 318.3 447.0 317.3 446.8 316.3 446.8 315.3 446.8 314.2 446.9 313.2 447.0 312.2 447.1 311.2 447.2 310.2 447.3 309.1 447.3 308.1 447.2 307.1 447.0 306.1 446.8 305.0 446.5 304.0 446.3 303.0 446.0 302.0 445.8 301.0 445.7 299.9 445.6 298.9 445.7 297.9 445.9 296.9 446.3 295.8 446.7 294.8 447.2 293.8 447.8 292.8 448.4 291.8 449.1 290.7 449.7 289.7 450.4 288.7 451.1 287.7 451.8 286.7 452.5 285.6 453.1 284.6 453.8 283.6 454.6 282.6 455.3 281.5 456.1 280.5 457.0 279.5 457.9 278.5 458.9 277.5 459.9 276.4 461.0 275.4 462.2 274.4 463.4 273.4 464.6 272.3 465.9 271.3 467.3 270.3 468.6 269.3 470.0 268.3 471.3 267.2 472.7 266.2 474.0 265.2 475.2 264.2 476.3 263.1 477.4 262.1 478.3 261.1 479.2 260.1 479.9 259.1 480.5 258.0 481.0 257.0 481.4 256.0 481.7 255.0 481.9 253.9 482.1 252.9 482.2 251.9 482.3 250.9 482.4 249.9 482.5 248.8 482.6 247.8 482.8 246.8 482.9 245.8 483.1 244.7 483.2 243.7 483.3 242.7 483.4 241.7 483.4 240.7 483.5 239.6 483.6 238.6 483.7 237.6 483.8 236.6 483.9 235.6 484.0 234.5 484.1 233.5 484.3 232.5 484.5 231.5 484.7 230.4 484.9 229.4 485.1 228.4 485.4 227.4 485.5 226.4 485.7 225.3 485.9 224.3 486.0 223.3 486.0 222.3 486.1 221.2 486.1 220.2 486.0 219.2 486.0 218.2 485.9 217.2 485.8 216.1 485.7 215.1 485.6 214.1 485.5 213.1 485.4 212.0 485.3 211.0 485.1 210.0 485.0 209.0 484.8 208.0 484.7 206.9 484.4 205.9 484.2 204.9 483.9 203.9 483.6 202.8 483.3 201.8 482.9 200.8 482.4 199.8 481.9 198.8 481.4 197.7 480.8 196.7 480.2 195.7 479.5 194.7 478.8 193.6 478.1 192.6 477.3 191.6 476.6 190.6 475.8 189.6 475.0 188.5 474.2 187.5 473.4 186.5 472.6 185.5 471.7 184.4 470.9 183.4 470.1 182.4 469.3 181.4 468.5 180.4 467.7 179.3 466.9 178.3 466.2 177.3 465.4 176.3 464.8 175.3 464.1 174.2 463.5 173.2 463.0 172.2 462.6 171.2 462.3 170.1 462.1 169.1 462.0 168.1 462.1 167.1 462.4 166.1 463.0 165.0 463.8 164.0 465.0 163.0 466.2 162.0 467.5 160.9 468.6 159.9 469.4 158.9 469.8 157.9 469.7 156.9 468.9 155.8 467.4 154.8 465.3 153.8 463.0 152.8 460.6 151.7 458.3 150.7 456.2 149.7 454.4 148.7 452.6 147.7 450.7 146.6 448.8 145.6 446.7 144.6 444.4 143.6 441.7 142.5 438.8 141.5 435.7 140.5 432.7 139.5 429.8 138.5 427.3 137.4 425.1 136.4 424.0 135.4 424.3 134.4 426.6 133.4 431.0 132.3 436.9 131.3 443.9 130.3 451.3 129.3 458.5 128.2 465.1 127.2 470.4 126.2 474.0 125.2 475.2 124.2 473.6 123.1 469.9 122.1 464.6 121.1 458.6 120.1 452.9 119.0 449.0 118.0 448.8 117.0 453.7 116.0 463.4 115.0 476.4 113.9 490.3 112.9 502.1 111.9 509.6 110.9 511.7 109.8 508.7 108.8 502.1 107.8 494.0 106.8 485.5 105.8 477.5 104.7 470.3 103.7 464.1 102.7 459.2 101.7 455.6 100.6 453.5 99.6 453.1 98.6 453.7 97.6 454.8 96.6 455.8 95.5 456.0 94.5 455.4 93.5 454.1 92.5 452.6 91.4 451.0 90.4 449.7 89.4 448.8 88.4 448.4 87.4 448.3 86.3 448.4 85.3 448.5 84.3 448.6 83.3 448.7 82.2 448.7 81.2 448.7 80.2 448.8 79.2 448.8 78.2 448.7 77.1 448.7 76.1 448.7 75.1 448.6 74.1 448.6 73.1 448.5 72.0 448.5 71.0 448.4 70.0 448.4 69.0 448.3 67.9 448.3 66.9 448.2 65.9 448.1 64.9 448.1 63.9 448.0 62.8 448.0 61.8 447.9 60.8 447.9 59.8 447.8 58.7 447.8 57.7 447.7 56.7 447.7Z" fill="rgb(35,170,35)" fill-opacity="0.085" stroke="none"/>
<path d="M56.7 426.2 57.7 425.7 58.7 425.1 59.8 424.6 60.8 424.1 61.8 423.6 62.8 423.2 63.9 422.9 64.9 422.6 65.9 422.4 66.9 422.4 67.9 422.4 69.0 422.6 70.0 422.8 71.0 423.1 72.0 423.5 73.1 423.8 74.1 424.2 75.1 424.6 76.1 425.0 77.1 425.3 78.2 425.5 79.2 425.6 80.2 425.6 81.2 425.6 82.2 425.4 83.3 425.1 84.3 424.7 85.3 424.1 86.3 423.4 87.4 422.6 88.4 421.5 89.4 420.1 90.4 418.3 91.4 415.9 92.5 412.9 93.5 409.6 94.5 406.6 95.5 404.8 96.6 405.1 97.6 408.1 98.6 413.6 99.6 419.7 100.6 424.3 101.7 425.8 102.7 424.5 103.7 421.0 104.7 416.2 105.8 410.5 106.8 404.2 107.8 397.3 108.8 389.4 109.8 379.2 110.9 365.7 111.9 347.8 112.9 326.2 113.9 303.2 115.0 283.9 116.0 274.0 117.0 277.6 118.0 294.4 119.0 320.0 120.1 347.5 121.1 371.4 122.1 388.6 123.1 398.9 124.2 404.0 125.2 406.1 126.2 407.5 127.2 409.0 128.2 410.8 129.3 412.8 130.3 414.9 131.3 416.5 132.3 417.4 133.4 417.2 134.4 416.3 135.4 414.9 136.4 413.3 137.4 411.8 138.5 410.7 139.5 410.3 140.5 410.7 141.5 411.8 142.5 413.5 143.6 415.7 144.6 418.1 145.6 420.7 146.6 423.4 147.7 426.0 148.7 428.5 149.7 430.7 150.7 432.5 151.7 434.0 152.8 435.1 153.8 435.6 154.8 435.5 155.8 434.8 156.9 433.8 157.9 432.5 158.9 431.0 159.9 429.3 160.9 427.7 162.0 426.2 163.0 424.9 164.0 423.7 165.0 422.7 166.1 421.8 167.1 421.2 168.1 420.7 169.1 420.4 170.1 420.3 171.2 420.3 172.2 420.4 173.2 420.6 174.2 420.9 175.3 421.2 176.3 421.6 177.3 422.1 178.3 422.5 179.3 423.0 180.4 423.5 181.4 423.9 182.4 424.3 183.4 424.7 184.4 425.1 185.5 425.4 186.5 425.6 187.5 425.8 188.5 426.0 189.6 426.0 190.6 426.0 191.6 426.0 192.6 425.9 193.6 425.7 194.7 425.5 195.7 425.2 196.7 424.8 197.7 424.4 198.8 423.9 199.8 423.4 200.8 422.9 201.8 422.4 202.8 421.9 203.9 421.4 204.9 420.9 205.9 420.5 206.9 420.2 208.0 419.9 209.0 419.7 210.0 419.6 211.0 419.5 212.0 419.5 213.1 419.6 214.1 419.7 215.1 419.9 216.1 420.1 217.2 420.3 218.2 420.6 219.2 420.9 220.2 421.3 221.2 421.6 222.3 422.0 223.3 422.3 224.3 422.7 225.3 423.1 226.4 423.4 227.4 423.7 228.4 424.0 229.4 424.3 230.4 424.5 231.5 424.7 232.5 424.9 233.5 425.0 234.5 425.1 235.6 425.2 236.6 425.2 237.6 425.1 238.6 425.0 239.6 424.9 240.7 424.6 241.7 424.3 242.7 424.0 243.7 423.5 244.7 423.0 245.8 422.4 246.8 421.7 247.8 421.0 248.8 420.3 249.9 419.6 250.9 419.0 251.9 418.5 252.9 418.1 253.9 417.7 255.0 417.3 256.0 417.0 257.0 416.6 258.0 416.2 259.1 415.8 260.1 415.4 261.1 414.9 262.1 414.4 263.1 413.8 264.2 413.2 265.2 412.6 266.2 412.1 267.2 411.5 268.3 411.1 269.3 410.6 270.3 410.3 271.3 410.0 272.3 409.8 273.4 409.6 274.4 409.4 275.4 409.3 276.4 409.1 277.5 408.9 278.5 408.7 279.5 408.4 280.5 408.0 281.5 407.5 282.6 407.0 283.6 406.3 284.6 405.7 285.6 405.0 286.7 404.2 287.7 403.5 288.7 402.7 289.7 401.9 290.7 401.2 291.8 400.4 292.8 399.7 293.8 399.0 294.8 398.3 295.8 397.6 296.9 396.9 297.9 396.3 298.9 395.7 299.9 395.2 301.0 394.7 302.0 394.2 303.0 393.8 304.0 393.5 305.0 393.2 306.1 393.0 307.1 392.8 308.1 392.7 309.1 392.7 310.2 392.9 311.2 393.1 312.2 393.6 313.2 394.2 314.2 395.0 315.3 395.9 316.3 396.9 317.3 398.0 318.3 399.1 319.4 400.2 320.4 401.1 321.4 401.9 322.4 402.6 323.4 403.2 324.5 403.7 325.5 404.2 326.5 404.6 327.5 404.9 328.6 405.2 329.6 405.5 330.6 405.9 331.6 406.3 332.6 406.7 333.7 407.1 334.7 407.5 335.7 408.0 336.7 408.4 337.8 408.8 338.8 409.3 339.8 409.6 340.8 410.0 341.8 410.4 342.9 410.7 343.9 411.0 344.9 411.4 345.9 411.7 346.9 412.1 348.0 412.5 349.0 412.9 350.0 413.4 351.0 413.9 352.1 414.4 353.1 415.0 354.1 415.6 355.1 416.3 356.1 416.9 357.2 417.6 358.2 418.2 359.2 418.8 360.2 419.4 361.3 419.9 362.3 420.3 363.3 420.6 364.3 421.0 365.3 421.2 366.4 421.4 367.4 421.6 368.4 421.8 369.4 421.9 370.5 422.0 371.5 422.1 372.5 422.2 373.5 422.3 374.5 422.4 375.6 422.4 376.6 422.5 377.6 422.6 378.6 422.7 379.7 422.9 380.7 423.0 381.7 423.1 382.7 423.3 383.7 423.4 384.8 423.6 385.8 423.7 386.8 423.8 387.8 423.8 388.9 423.9 389.9 423.9 390.9 423.9 391.9 423.8 392.9 423.8 394.0 423.6 395.0 423.5 396.0 423.4 397.0 423.2 398.0 423.0 399.1 422.8 400.1 422.6 401.1 422.5 402.1 422.3 403.2 422.1 404.2 421.9 405.2 421.8 406.2 421.7 407.2 421.6 408.3 421.5 409.3 421.4 410.3 421.4 411.3 421.4 412.4 421.4 413.4 421.4 414.4 421.5 415.4 421.5 416.4 421.7 417.5 421.8 418.5 422.0 419.5 422.2 420.5 422.5 421.6 422.8 422.6 423.2 423.6 423.6 424.6 424.0 425.6 424.5 426.7 425.1 427.7 425.6 428.7 426.2 429.7 426.8 L429.7 441.2 428.7 441.8 427.7 442.4 426.7 442.9 425.6 443.5 424.6 444.1 423.6 444.6 422.6 445.1 421.6 445.6 420.5 446.1 419.5 446.5 418.5 446.9 417.5 447.3 416.4 447.7 415.4 448.1 414.4 448.4 413.4 448.8 412.4 449.1 411.3 449.5 410.3 449.9 409.3 450.2 408.3 450.6 407.2 450.9 406.2 451.3 405.2 451.5 404.2 451.8 403.2 451.9 402.1 452.0 401.1 452.1 400.1 452.0 399.1 451.9 398.0 451.8 397.0 451.6 396.0 451.3 395.0 451.1 394.0 450.8 392.9 450.5 391.9 450.2 390.9 449.9 389.9 449.6 388.9 449.3 387.8 449.1 386.8 448.9 385.8 448.6 384.8 448.4 383.7 448.2 382.7 448.1 381.7 447.9 380.7 447.7 379.7 447.5 378.6 447.3 377.6 447.2 376.6 447.0 375.6 446.8 374.5 446.6 373.5 446.5 372.5 446.3 371.5 446.2 370.5 446.0 369.4 445.9 368.4 445.7 367.4 445.6 366.4 445.5 365.3 445.4 364.3 445.4 363.3 445.3 362.3 445.3 361.3 445.3 360.2 445.3 359.2 445.3 358.2 445.4 357.2 445.5 356.1 445.6 355.1 445.7 354.1 445.8 353.1 445.9 352.1 446.0 351.0 446.1 350.0 446.2 349.0 446.3 348.0 446.4 346.9 446.5 345.9 446.6 344.9 446.7 343.9 446.8 342.9 446.9 341.8 447.0 340.8 447.0 339.8 447.1 338.8 447.1 337.8 447.2 336.7 447.2 335.7 447.3 334.7 447.3 333.7 447.3 332.6 447.3 331.6 447.3 330.6 447.2 329.6 447.2 328.6 447.1 327.5 447.0 326.5 446.9 325.5 446.7 324.5 446.5 323.4 446.3 322.4 446.1 321.4 445.8 320.4 445.6 319.4 445.5 318.3 445.4 317.3 445.4 316.3 445.4 315.3 445.6 314.2 445.8 313.2 446.1 312.2 446.3 311.2 446.5 310.2 446.7 309.1 446.9 308.1 446.9 307.1 446.9 306.1 446.8 305.0 446.7 304.0 446.6 303.0 446.5 302.0 446.4 301.0 446.5 299.9 446.6 298.9 446.8 297.9 447.1 296.9 447.5 295.8 448.0 294.8 448.6 293.8 449.2 292.8 449.8 291.8 450.5 290.7 451.2 289.7 451.9 288.7 452.5 287.7 453.2 286.7 453.8 285.6 454.4 284.6 454.9 283.6 455.5 282.6 456.1 281.5 456.6 280.5 457.2 279.5 457.8 278.5 458.4 277.5 459.0 276.4 459.6 275.4 460.2 274.4 460.8 273.4 461.5 272.3 462.2 271.3 462.9 270.3 463.6 269.3 464.3 268.3 465.1 267.2 465.8 266.2 466.6 265.2 467.4 264.2 468.2 263.1 469.0 262.1 469.8 261.1 470.6 260.1 471.3 259.1 472.1 258.0 472.8 257.0 473.6 256.0 474.3 255.0 475.0 253.9 475.8 252.9 476.5 251.9 477.2 250.9 478.0 249.9 478.7 248.8 479.5 247.8 480.3 246.8 481.1 245.8 481.8 244.7 482.5 243.7 483.1 242.7 483.7 241.7 484.2 240.7 484.7 239.6 485.1 238.6 485.6 237.6 486.0 236.6 486.4 235.6 486.8 234.5 487.2 233.5 487.6 232.5 488.0 231.5 488.5 230.4 488.9 229.4 489.3 228.4 489.7 227.4 490.1 226.4 490.5 225.3 490.8 224.3 491.2 223.3 491.4 222.3 491.6 221.2 491.8 220.2 492.0 219.2 492.1 218.2 492.2 217.2 492.3 216.1 492.4 215.1 492.4 214.1 492.4 213.1 492.5 212.0 492.5 211.0 492.5 210.0 492.4 209.0 492.4 208.0 492.3 206.9 492.3 205.9 492.2 204.9 492.1 203.9 491.9 202.8 491.7 201.8 491.5 200.8 491.2 199.8 490.9 198.8 490.6 197.7 490.3 196.7 489.9 195.7 489.4 194.7 488.9 193.6 488.4 192.6 487.8 191.6 487.2 190.6 486.5 189.6 485.8 188.5 485.0 187.5 484.2 186.5 483.3 185.5 482.3 184.4 481.3 183.4 480.2 182.4 479.1 181.4 477.9 180.4 476.6 179.3 475.4 178.3 474.1 177.3 472.8 176.3 471.5 175.3 470.3 174.2 469.2 173.2 468.1 172.2 467.2 171.2 466.5 170.1 466.0 169.1 465.7 168.1 465.8 167.1 466.2 166.1 467.1 165.0 468.5 164.0 470.3 163.0 472.4 162.0 474.6 160.9 476.8 159.9 478.6 158.9 479.9 157.9 480.4 156.9 479.9 155.8 478.4 154.8 476.0 153.8 473.1 152.8 469.8 151.7 466.5 150.7 463.3 149.7 460.4 148.7 457.7 147.7 455.1 146.6 452.6 145.6 450.1 144.6 447.4 143.6 444.7 142.5 441.8 141.5 438.9 140.5 436.1 139.5 433.4 138.5 431.1 137.4 429.3 136.4 428.4 135.4 428.8 134.4 431.1 133.4 435.3 132.3 440.9 131.3 447.4 130.3 454.3 129.3 461.1 128.2 467.2 127.2 472.2 126.2 475.7 125.2 477.1 124.2 476.6 123.1 475.1 122.1 474.3 121.1 476.0 120.1 482.0 119.0 493.7 118.0 511.7 117.0 534.3 116.0 557.7 115.0 577.5 113.9 589.9 112.9 593.0 111.9 586.8 110.9 573.2 109.8 554.8 108.8 534.9 107.8 516.3 106.8 500.2 105.8 487.3 104.7 477.2 103.7 469.6 102.7 464.2 101.7 460.5 100.6 458.4 99.6 457.9 98.6 458.4 97.6 459.4 96.6 460.2 95.5 460.3 94.5 459.7 93.5 458.5 92.5 457.1 91.4 455.6 90.4 454.4 89.4 453.7 88.4 453.3 87.4 453.2 86.3 453.2 85.3 453.3 84.3 453.4 83.3 453.5 82.2 453.5 81.2 453.6 80.2 453.6 79.2 453.6 78.2 453.6 77.1 453.6 76.1 453.5 75.1 453.5 74.1 453.4 73.1 453.3 72.0 453.3 71.0 453.2 70.0 453.2 69.0 453.1 67.9 453.0 66.9 453.0 65.9 453.0 64.9 452.9 63.9 452.9 62.8 452.8 61.8 452.8 60.8 452.8 59.8 452.8 58.7 452.7 57.7 452.7 56.7 452.7Z" fill="rgb(35,170,35)" fill-opacity="0.085" stroke="none"/>
<path d="M56.7 422.0 57.7 421.4 58.7 420.8 59.8 420.2 60.8 419.7 61.8 419.2 62.8 418.8 63.9 418.4 64.9 418.2 65.9 418.0 66.9 417.9 67.9 418.0 69.0 418.1 70.0 418.4 71.0 418.7 72.0 419.1 73.1 419.5 74.1 419.9 75.1 420.3 76.1 420.7 77.1 421.0 78.2 421.2 79.2 421.4 80.2 421.4 81.2 421.3 82.2 421.1 83.3 420.8 84.3 420.4 85.3 419.8 86.3 419.1 87.4 418.2 88.4 417.3 89.4 416.4 90.4 415.6 91.4 414.9 92.5 414.3 93.5 414.0 94.5 413.9 95.5 414.4 96.6 415.6 97.6 418.0 98.6 421.5 99.6 424.8 100.6 426.5 101.7 425.4 102.7 421.9 103.7 416.9 104.7 410.7 105.8 403.7 106.8 395.9 107.8 387.3 108.8 377.8 109.8 367.9 110.9 358.5 111.9 351.7 112.9 349.1 113.9 351.7 115.0 359.6 116.0 371.4 117.0 384.6 118.0 396.9 119.0 406.0 120.1 410.9 121.1 412.1 122.1 410.7 123.1 408.1 124.2 405.2 125.2 403.2 126.2 402.6 127.2 403.4 128.2 405.1 129.3 407.1 130.3 409.0 131.3 410.2 132.3 410.3 133.4 409.0 134.4 406.6 135.4 403.7 136.4 400.7 137.4 398.3 138.5 396.8 139.5 396.7 140.5 398.1 141.5 400.6 142.5 403.9 143.6 407.7 144.6 411.6 145.6 415.4 146.6 419.0 147.7 422.2 148.7 424.9 149.7 427.3 150.7 429.2 151.7 430.6 152.8 431.5 153.8 431.8 154.8 431.4 155.8 430.6 156.9 429.3 157.9 427.8 158.9 426.0 159.9 424.2 160.9 422.4 162.0 420.6 163.0 419.0 164.0 417.6 165.0 416.3 166.1 415.2 167.1 414.4 168.1 413.6 169.1 413.1 170.1 412.7 171.2 412.4 172.2 412.3 173.2 412.2 174.2 412.3 175.3 412.5 176.3 412.7 177.3 413.0 178.3 413.4 179.3 413.8 180.4 414.4 181.4 414.9 182.4 415.6 183.4 416.2 184.4 416.9 185.5 417.6 186.5 418.4 187.5 419.1 188.5 419.9 189.6 420.6 190.6 421.3 191.6 422.0 192.6 422.7 193.6 423.3 194.7 423.8 195.7 424.3 196.7 424.7 197.7 425.1 198.8 425.3 199.8 425.5 200.8 425.6 201.8 425.7 202.8 425.7 203.9 425.7 204.9 425.7 205.9 425.6 206.9 425.6 208.0 425.6 209.0 425.5 210.0 425.5 211.0 425.5 212.0 425.5 213.1 425.5 214.1 425.5 215.1 425.6 216.1 425.6 217.2 425.6 218.2 425.6 219.2 425.6 220.2 425.7 221.2 425.7 222.3 425.7 223.3 425.6 224.3 425.6 225.3 425.6 226.4 425.5 227.4 425.4 228.4 425.3 229.4 425.2 230.4 425.0 231.5 424.9 232.5 424.7 233.5 424.4 234.5 424.2 235.6 423.9 236.6 423.6 237.6 423.3 238.6 422.9 239.6 422.5 240.7 422.0 241.7 421.5 242.7 420.9 243.7 420.2 244.7 419.5 245.8 418.7 246.8 417.9 247.8 417.0 248.8 416.2 249.9 415.4 250.9 414.7 251.9 414.1 252.9 413.6 253.9 413.2 255.0 412.8 256.0 412.4 257.0 412.0 258.0 411.6 259.1 411.3 260.1 410.8 261.1 410.4 262.1 409.9 263.1 409.3 264.2 408.8 265.2 408.3 266.2 407.8 267.2 407.4 268.3 407.0 269.3 406.7 270.3 406.6 271.3 406.4 272.3 406.4 273.4 406.5 274.4 406.5 275.4 406.6 276.4 406.7 277.5 406.8 278.5 406.9 279.5 406.8 280.5 406.7 281.5 406.6 282.6 406.3 283.6 406.0 284.6 405.6 285.6 405.2 286.7 404.8 287.7 404.4 288.7 403.9 289.7 403.5 290.7 403.0 291.8 402.6 292.8 402.2 293.8 401.8 294.8 401.4 295.8 401.0 296.9 400.6 297.9 400.2 298.9 399.8 299.9 399.4 301.0 399.1 302.0 398.7 303.0 398.4 304.0 398.1 305.0 397.8 306.1 397.5 307.1 397.3 308.1 397.1 309.1 397.0 310.2 397.0 311.2 397.0 312.2 397.3 313.2 397.7 314.2 398.2 315.3 398.9 316.3 399.7 317.3 400.5 318.3 401.4 319.4 402.1 320.4 402.8 321.4 403.3 322.4 403.6 323.4 403.9 324.5 404.1 325.5 404.1 326.5 404.2 327.5 404.2 328.6 404.2 329.6 404.2 330.6 404.3 331.6 404.4 332.6 404.6 333.7 404.8 334.7 405.1 335.7 405.3 336.7 405.6 337.8 405.9 338.8 406.2 339.8 406.5 340.8 406.7 341.8 407.0 342.9 407.3 343.9 407.6 344.9 407.9 345.9 408.2 346.9 408.5 348.0 408.9 349.0 409.3 350.0 409.7 351.0 410.2 352.1 410.8 353.1 411.4 354.1 412.0 355.1 412.7 356.1 413.4 357.2 414.1 358.2 414.8 359.2 415.4 360.2 416.0 361.3 416.5 362.3 417.0 363.3 417.4 364.3 417.7 365.3 418.0 366.4 418.3 367.4 418.5 368.4 418.7 369.4 418.8 370.5 419.0 371.5 419.1 372.5 419.2 373.5 419.3 374.5 419.4 375.6 419.6 376.6 419.7 377.6 419.8 378.6 420.0 379.7 420.2 380.7 420.4 381.7 420.6 382.7 420.8 383.7 421.0 384.8 421.2 385.8 421.4 386.8 421.5 387.8 421.7 388.9 421.8 389.9 421.9 390.9 421.9 391.9 421.9 392.9 421.9 394.0 421.9 395.0 421.8 396.0 421.7 397.0 421.6 398.0 421.5 399.1 421.4 400.1 421.2 401.1 421.1 402.1 421.0 403.2 420.9 404.2 420.8 405.2 420.7 406.2 420.6 407.2 420.5 408.3 420.5 409.3 420.5 410.3 420.5 411.3 420.5 412.4 420.5 413.4 420.6 414.4 420.7 415.4 420.8 416.4 420.9 417.5 421.1 418.5 421.3 419.5 421.5 420.5 421.8 421.6 422.1 422.6 422.4 423.6 422.8 424.6 423.3 425.6 423.8 426.7 424.3 427.7 424.9 428.7 425.4 429.7 426.0 L429.7 444.0 428.7 444.9 427.7 445.8 426.7 446.6 425.6 447.5 424.6 448.3 423.6 449.1 422.6 449.8 421.6 450.5 420.5 451.2 419.5 451.8 418.5 452.3 417.5 452.8 416.4 453.3 415.4 453.7 414.4 454.1 413.4 454.5 412.4 454.8 411.3 455.2 410.3 455.5 409.3 455.9 408.3 456.1 407.2 456.4 406.2 456.6 405.2 456.8 404.2 456.9 403.2 456.9 402.1 456.8 401.1 456.7 400.1 456.5 399.1 456.2 398.0 455.8 397.0 455.4 396.0 454.9 395.0 454.4 394.0 453.9 392.9 453.4 391.9 452.9 390.9 452.4 389.9 451.9 388.9 451.5 387.8 451.0 386.8 450.6 385.8 450.3 384.8 449.9 383.7 449.6 382.7 449.3 381.7 449.0 380.7 448.7 379.7 448.4 378.6 448.2 377.6 447.9 376.6 447.6 375.6 447.4 374.5 447.2 373.5 446.9 372.5 446.7 371.5 446.5 370.5 446.3 369.4 446.1 368.4 446.0 367.4 445.8 366.4 445.7 365.3 445.6 364.3 445.5 363.3 445.5 362.3 445.5 361.3 445.5 360.2 445.5 359.2 445.6 358.2 445.7 357.2 445.9 356.1 446.0 355.1 446.2 354.1 446.4 353.1 446.6 352.1 446.8 351.0 447.1 350.0 447.3 349.0 447.5 348.0 447.7 346.9 447.9 345.9 448.2 344.9 448.4 343.9 448.6 342.9 448.9 341.8 449.1 340.8 449.4 339.8 449.6 338.8 449.9 337.8 450.1 336.7 450.4 335.7 450.7 334.7 450.9 333.7 451.2 332.6 451.5 331.6 451.7 330.6 452.0 329.6 452.2 328.6 452.5 327.5 452.7 326.5 452.8 325.5 453.0 324.5 453.1 323.4 453.1 322.4 453.2 321.4 453.2 320.4 453.3 319.4 453.4 318.3 453.6 317.3 453.8 316.3 454.2 315.3 454.6 314.2 455.1 313.2 455.5 312.2 456.0 311.2 456.4 310.2 456.8 309.1 457.0 308.1 457.1 307.1 457.1 306.1 457.0 305.0 456.8 304.0 456.6 303.0 456.4 302.0 456.2 301.0 456.1 299.9 456.0 298.9 456.0 297.9 456.2 296.9 456.4 295.8 456.7 294.8 457.0 293.8 457.4 292.8 457.8 291.8 458.3 290.7 458.7 289.7 459.1 288.7 459.5 287.7 459.9 286.7 460.3 285.6 460.6 284.6 460.9 283.6 461.2 282.6 461.6 281.5 461.9 280.5 462.2 279.5 462.6 278.5 463.0 277.5 463.5 276.4 463.9 275.4 464.4 274.4 465.0 273.4 465.6 272.3 466.2 271.3 467.0 270.3 467.7 269.3 468.6 268.3 469.5 267.2 470.5 266.2 471.6 265.2 472.8 264.2 474.1 263.1 475.4 262.1 476.8 261.1 478.2 260.1 479.8 259.1 481.3 258.0 482.9 257.0 484.5 256.0 486.2 255.0 487.8 253.9 489.4 252.9 491.0 251.9 492.6 250.9 494.0 249.9 495.4 248.8 496.6 247.8 497.8 246.8 498.7 245.8 499.5 244.7 500.0 243.7 500.4 242.7 500.5 241.7 500.5 240.7 500.3 239.6 500.0 238.6 499.6 237.6 499.1 236.6 498.6 235.6 498.1 234.5 497.6 233.5 497.1 232.5 496.8 231.5 496.5 230.4 496.2 229.4 496.1 228.4 496.0 227.4 496.0 226.4 496.0 225.3 496.1 224.3 496.1 223.3 496.3 222.3 496.4 221.2 496.4 220.2 496.5 219.2 496.6 218.2 496.7 217.2 496.7 216.1 496.7 215.1 496.6 214.1 496.6 213.1 496.4 212.0 496.3 211.0 496.1 210.0 495.8 209.0 495.5 208.0 495.1 206.9 494.7 205.9 494.2 204.9 493.7 203.9 493.1 202.8 492.5 201.8 491.8 200.8 491.0 199.8 490.2 198.8 489.3 197.7 488.4 196.7 487.5 195.7 486.5 194.7 485.5 193.6 484.5 192.6 483.5 191.6 482.4 190.6 481.3 189.6 480.3 188.5 479.2 187.5 478.1 186.5 477.0 185.5 475.9 184.4 474.8 183.4 473.7 182.4 472.6 181.4 471.5 180.4 470.4 179.3 469.3 178.3 468.3 177.3 467.3 176.3 466.3 175.3 465.4 174.2 464.6 173.2 464.0 172.2 463.4 171.2 462.9 170.1 462.6 169.1 462.5 168.1 462.6 167.1 462.9 166.1 463.5 165.0 464.5 164.0 465.7 163.0 467.2 162.0 468.6 160.9 470.0 159.9 471.0 158.9 471.6 157.9 471.7 156.9 471.0 155.8 469.7 154.8 467.8 153.8 465.6 152.8 463.3 151.7 461.2 150.7 459.3 149.7 457.6 148.7 455.9 147.7 454.3 146.6 452.5 145.6 450.5 144.6 448.1 143.6 445.4 142.5 442.5 141.5 439.4 140.5 436.3 139.5 433.3 138.5 430.6 137.4 428.3 136.4 427.0 135.4 427.3 134.4 429.6 133.4 434.1 132.3 440.3 131.3 447.4 130.3 455.1 129.3 462.5 128.2 469.3 127.2 474.9 126.2 478.6 125.2 480.0 124.2 478.7 123.1 475.4 122.1 471.0 121.1 466.1 120.1 461.4 119.0 457.7 118.0 455.9 117.0 456.5 116.0 459.6 115.0 465.7 113.9 474.9 112.9 486.9 111.9 500.0 110.9 511.9 109.8 519.5 108.8 521.3 107.8 517.3 106.8 508.7 105.8 497.6 104.7 486.1 103.7 476.0 102.7 468.2 101.7 462.8 100.6 459.9 99.6 459.1 98.6 459.7 97.6 460.9 96.6 462.0 95.5 462.3 94.5 461.6 93.5 460.4 92.5 458.8 91.4 457.1 90.4 455.8 89.4 454.9 88.4 454.5 87.4 454.3 86.3 454.4 85.3 454.5 84.3 454.6 83.3 454.7 82.2 454.8 81.2 454.8 80.2 454.8 79.2 454.8 78.2 454.8 77.1 454.8 76.1 454.7 75.1 454.7 74.1 454.7 73.1 454.6 72.0 454.6 71.0 454.5 70.0 454.5 69.0 454.4 67.9 454.3 66.9 454.3 65.9 454.2 64.9 454.2 63.9 454.1 62.8 454.0 61.8 454.0 60.8 453.9 59.8 453.8 58.7 453.8 57.7 453.7 56.7 453.6Z" fill="rgb(35,170,35)" fill-opacity="0.085" stroke="none"/>
<path d="M56.7 423.1 57.7 422.5 58.7 421.9 59.8 421.3 60.8 420.8 61.8 420.3 62.8 419.9 63.9 419.6 64.9 419.3 65.9 419.2 66.9 419.1 67.9 419.1 69.0 419.3 70.0 419.5 71.0 419.9 72.0 420.2 73.1 420.6 74.1 421.0 75.1 421.4 76.1 421.8 77.1 422.1 78.2 422.3 79.2 422.4 80.2 422.5 81.2 422.4 82.2 422.2 83.3 421.9 84.3 421.4 85.3 420.7 86.3 419.9 87.4 418.9 88.4 417.6 89.4 416.2 90.4 414.6 91.4 413.0 92.5 411.5 93.5 410.1 94.5 409.2 95.5 409.0 96.6 410.0 97.6 412.5 98.6 416.5 99.6 420.6 100.6 423.3 101.7 423.4 102.7 421.3 103.7 417.9 104.7 413.7 105.8 409.0 106.8 403.6 107.8 396.7 108.8 387.4 109.8 375.9 110.9 363.8 111.9 354.4 112.9 350.8 113.9 354.4 115.0 364.2 116.0 377.2 117.0 390.5 118.0 401.6 119.0 409.4 120.1 413.2 121.1 413.7 122.1 412.2 123.1 409.6 124.2 407.0 125.2 405.1 126.2 404.6 127.2 405.5 128.2 407.2 129.3 409.4 130.3 411.6 131.3 413.4 132.3 414.5 133.4 414.5 134.4 413.6 135.4 412.2 136.4 410.6 137.4 409.1 138.5 408.0 139.5 407.6 140.5 408.0 141.5 409.2 142.5 410.9 143.6 413.1 144.6 415.5 145.6 418.2 146.6 420.8 147.7 423.4 148.7 425.8 149.7 428.0 150.7 429.8 151.7 431.2 152.8 432.1 153.8 432.5 154.8 432.2 155.8 431.5 156.9 430.3 157.9 428.8 158.9 427.1 159.9 425.3 160.9 423.5 162.0 421.8 163.0 420.3 164.0 418.8 165.0 417.6 166.1 416.5 167.1 415.6 168.1 414.9 169.1 414.4 170.1 414.0 171.2 413.7 172.2 413.6 173.2 413.5 174.2 413.6 175.3 413.8 176.3 414.0 177.3 414.4 178.3 414.8 179.3 415.2 180.4 415.8 181.4 416.4 182.4 417.0 183.4 417.7 184.4 418.4 185.5 419.2 186.5 419.9 187.5 420.7 188.5 421.5 189.6 422.2 190.6 423.0 191.6 423.7 192.6 424.4 193.6 425.1 194.7 425.7 195.7 426.2 196.7 426.7 197.7 427.0 198.8 427.3 199.8 427.6 200.8 427.7 201.8 427.8 202.8 427.9 203.9 427.9 204.9 427.8 205.9 427.8 206.9 427.7 208.0 427.7 209.0 427.6 210.0 427.5 211.0 427.4 212.0 427.3 213.1 427.2 214.1 427.1 215.1 426.9 216.1 426.7 217.2 426.5 218.2 426.2 219.2 426.0 220.2 425.6 221.2 425.3 222.3 424.9 223.3 424.5 224.3 424.0 225.3 423.5 226.4 422.9 227.4 422.3 228.4 421.6 229.4 420.9 230.4 420.1 231.5 419.3 232.5 418.5 233.5 417.6 234.5 416.7 235.6 415.7 236.6 414.7 237.6 413.7 238.6 412.7 239.6 411.7 240.7 410.6 241.7 409.5 242.7 408.5 243.7 407.3 244.7 406.2 245.8 405.1 246.8 404.0 247.8 403.0 248.8 402.0 249.9 401.2 250.9 400.6 251.9 400.1 252.9 399.8 253.9 399.6 255.0 399.5 256.0 399.5 257.0 399.6 258.0 399.7 259.1 399.9 260.1 400.0 261.1 400.1 262.1 400.2 263.1 400.3 264.2 400.3 265.2 400.4 266.2 400.5 267.2 400.6 268.3 400.7 269.3 400.9 270.3 401.1 271.3 401.4 272.3 401.8 273.4 402.1 274.4 402.5 275.4 402.8 276.4 403.1 277.5 403.3 278.5 403.5 279.5 403.6 280.5 403.6 281.5 403.4 282.6 403.2 283.6 402.9 284.6 402.6 285.6 402.2 286.7 401.7 287.7 401.3 288.7 400.8 289.7 400.4 290.7 400.0 291.8 399.5 292.8 399.1 293.8 398.8 294.8 398.4 295.8 398.1 296.9 397.8 297.9 397.5 298.9 397.3 299.9 397.1 301.0 397.0 302.0 396.9 303.0 396.8 304.0 396.8 305.0 396.8 306.1 396.8 307.1 397.0 308.1 397.2 309.1 397.4 310.2 397.8 311.2 398.2 312.2 398.8 313.2 399.6 314.2 400.5 315.3 401.5 316.3 402.7 317.3 403.8 318.3 404.9 319.4 406.0 320.4 406.9 321.4 407.7 322.4 408.3 323.4 408.7 324.5 409.1 325.5 409.3 326.5 409.5 327.5 409.7 328.6 409.8 329.6 409.9 330.6 410.0 331.6 410.1 332.6 410.3 333.7 410.5 334.7 410.7 335.7 410.9 336.7 411.1 337.8 411.3 338.8 411.5 339.8 411.7 340.8 411.9 341.8 412.0 342.9 412.2 343.9 412.3 344.9 412.5 345.9 412.7 346.9 412.9 348.0 413.2 349.0 413.5 350.0 413.8 351.0 414.2 352.1 414.7 353.1 415.2 354.1 415.8 355.1 416.4 356.1 417.0 357.2 417.7 358.2 418.3 359.2 418.9 360.2 419.4 361.3 419.9 362.3 420.3 363.3 420.7 364.3 421.0 365.3 421.3 366.4 421.6 367.4 421.8 368.4 422.0 369.4 422.2 370.5 422.3 371.5 422.5 372.5 422.6 373.5 422.7 374.5 422.9 375.6 423.0 376.6 423.1 377.6 423.3 378.6 423.5 379.7 423.7 380.7 423.9 381.7 424.1 382.7 424.3 383.7 424.5 384.8 424.7 385.8 424.8 386.8 425.0 387.8 425.1 388.9 425.2 389.9 425.3 390.9 425.3 391.9 425.3 392.9 425.3 394.0 425.2 395.0 425.1 396.0 424.9 397.0 424.8 398.0 424.6 399.1 424.5 400.1 424.3 401.1 424.1 402.1 423.9 403.2 423.8 404.2 423.6 405.2 423.4 406.2 423.3 407.2 423.2 408.3 423.1 409.3 423.0 410.3 422.9 411.3 422.8 412.4 422.8 413.4 422.8 414.4 422.8 415.4 422.8 416.4 422.9 417.5 423.0 418.5 423.1 419.5 423.2 420.5 423.4 421.6 423.7 422.6 423.9 423.6 424.3 424.6 424.6 425.6 425.0 426.7 425.5 427.7 426.0 428.7 426.5 429.7 427.0" fill="none" stroke="rgb(35,170,35)" stroke-width="1.6"/>
<path d="M56.7 448.8 57.7 448.8 58.7 448.8 59.8 448.9 60.8 448.9 61.8 449.0 62.8 449.0 63.9 449.0 64.9 449.1 65.9 449.1 66.9 449.2 67.9 449.2 69.0 449.3 70.0 449.4 71.0 449.4 72.0 449.5 73.1 449.5 74.1 449.6 75.1 449.6 76.1 449.7 77.1 449.7 78.2 449.7 79.2 449.8 80.2 449.8 81.2 449.7 82.2 449.7 83.3 449.7 84.3 449.6 85.3 449.5 86.3 449.4 87.4 449.3 88.4 449.4 89.4 449.8 90.4 450.6 91.4 451.9 92.5 453.4 93.5 454.9 94.5 456.1 95.5 456.8 96.6 456.6 97.6 455.8 98.6 454.8 99.6 454.3 100.6 454.8 101.7 457.1 102.7 460.9 103.7 466.6 104.7 474.3 105.8 484.2 106.8 496.2 107.8 509.1 108.8 520.4 109.8 526.9 110.9 525.6 111.9 516.0 112.9 500.8 113.9 484.3 115.0 469.9 116.0 459.8 117.0 454.2 118.0 452.5 119.0 454.1 120.1 457.9 121.1 462.6 122.1 467.6 123.1 471.9 124.2 475.1 125.2 476.4 126.2 475.1 127.2 471.7 128.2 466.5 129.3 460.1 130.3 453.1 131.3 446.0 132.3 439.3 133.4 433.5 134.4 429.2 135.4 426.9 136.4 426.5 137.4 427.6 138.5 429.6 139.5 432.1 140.5 435.0 141.5 438.0 142.5 441.2 143.6 444.3 144.6 447.3 145.6 450.2 146.6 452.9 147.7 455.6 148.7 458.3 149.7 461.0 150.7 463.9 151.7 466.9 152.8 470.0 153.8 473.1 154.8 475.9 155.8 478.1 156.9 479.6 157.9 480.0 158.9 479.4 159.9 478.1 160.9 476.2 162.0 473.9 163.0 471.5 164.0 469.0 165.0 466.8 166.1 464.9 167.1 463.5 168.1 462.4 169.1 461.7 170.1 461.4 171.2 461.3 172.2 461.5 173.2 461.9 174.2 462.4 175.3 463.1 176.3 463.9 177.3 464.8 178.3 465.7 179.3 466.7 180.4 467.7 181.4 468.8 182.4 469.8 183.4 470.9 184.4 471.9 185.5 473.0 186.5 474.0 187.5 475.0 188.5 476.0 189.6 477.0 190.6 478.0 191.6 478.9 192.6 479.8 193.6 480.7 194.7 481.5 195.7 482.4 196.7 483.1 197.7 483.8 198.8 484.5 199.8 485.1 200.8 485.6 201.8 486.1 202.8 486.5 203.9 486.8 204.9 487.1 205.9 487.3 206.9 487.5 208.0 487.6 209.0 487.6 210.0 487.6 211.0 487.6 212.0 487.6 213.1 487.5 214.1 487.3 215.1 487.2 216.1 487.0 217.2 486.8 218.2 486.5 219.2 486.3 220.2 486.0 221.2 485.6 222.3 485.2 223.3 484.8 224.3 484.3 225.3 483.8 226.4 483.3 227.4 482.7 228.4 482.1 229.4 481.4 230.4 480.8 231.5 480.2 232.5 479.5 233.5 478.9 234.5 478.3 235.6 477.7 236.6 477.2 237.6 476.6 238.6 476.1 239.6 475.5 240.7 475.0 241.7 474.4 242.7 473.8 243.7 473.2 244.7 472.6 245.8 471.9 246.8 471.2 247.8 470.5 248.8 469.8 249.9 469.2 250.9 468.5 251.9 467.9 252.9 467.3 253.9 466.8 255.0 466.3 256.0 465.8 257.0 465.3 258.0 464.9 259.1 464.4 260.1 463.9 261.1 463.4 262.1 463.0 263.1 462.5 264.2 462.0 265.2 461.5 266.2 461.0 267.2 460.5 268.3 460.1 269.3 459.6 270.3 459.1 271.3 458.7 272.3 458.3 273.4 457.9 274.4 457.4 275.4 457.0 276.4 456.6 277.5 456.2 278.5 455.9 279.5 455.5 280.5 455.1 281.5 454.7 282.6 454.3 283.6 453.9 284.6 453.5 285.6 453.0 286.7 452.6 287.7 452.1 288.7 451.6 289.7 451.1 290.7 450.5 291.8 449.9 292.8 449.4 293.8 448.8 294.8 448.3 295.8 447.9 296.9 447.5 297.9 447.2 298.9 447.0 299.9 446.9 301.0 447.0 302.0 447.1 303.0 447.3 304.0 447.6 305.0 447.8 306.1 448.1 307.1 448.3 308.1 448.5 309.1 448.6 310.2 448.6 311.2 448.6 312.2 448.5 313.2 448.3 314.2 448.2 315.3 448.1 316.3 448.1 317.3 448.1 318.3 448.2 319.4 448.4 320.4 448.7 321.4 449.0 322.4 449.3 323.4 449.6 324.5 449.9 325.5 450.2 326.5 450.4 327.5 450.5 328.6 450.7 329.6 450.8 330.6 450.8 331.6 450.8 332.6 450.9 333.7 450.8 334.7 450.8 335.7 450.7 336.7 450.7 337.8 450.6 338.8 450.5 339.8 450.4 340.8 450.3 341.8 450.2 342.9 450.1 343.9 449.9 344.9 449.8 345.9 449.7 346.9 449.6 348.0 449.5 349.0 449.4 350.0 449.3 351.0 449.2 352.1 449.1 353.1 449.0 354.1 448.9 355.1 448.9 356.1 448.8 357.2 448.8 358.2 448.8 359.2 448.8 360.2 448.9 361.3 449.0 362.3 449.1 363.3 449.3 364.3 449.5 365.3 449.7 366.4 449.9 367.4 450.2 368.4 450.5 369.4 450.7 370.5 451.0 371.5 451.4 372.5 451.7 373.5 452.0 374.5 452.3 375.6 452.6 376.6 452.9 377.6 453.2 378.6 453.5 379.7 453.8 380.7 454.1 381.7 454.3 382.7 454.6 383.7 454.9 384.8 455.1 385.8 455.4 386.8 455.6 387.8 455.9 388.9 456.2 389.9 456.4 390.9 456.7 391.9 457.0 392.9 457.3 394.0 457.5 395.0 457.8 396.0 458.0 397.0 458.2 398.0 458.3 399.1 458.3 400.1 458.4 401.1 458.3 402.1 458.1 403.2 457.9 404.2 457.6 405.2 457.2 406.2 456.8 407.2 456.3 408.3 455.8 409.3 455.3 410.3 454.8 411.3 454.2 412.4 453.7 413.4 453.1 414.4 452.6 415.4 452.1 416.4 451.5 417.5 451.0 418.5 450.4 419.5 449.8 420.5 449.2 421.6 448.5 422.6 447.8 423.6 447.1 424.6 446.3 425.6 445.6 426.7 444.8 427.7 444.0 428.7 443.2 429.7 442.5" fill="none" stroke="rgb(35,170,35)" stroke-width="1.6"/>
<path d="M56.7 422.4 57.7 421.8 58.7 421.3 59.8 420.7 60.8 420.2 61.8 419.8 62.8 419.4 63.9 419.1 64.9 418.8 65.9 418.7 66.9 418.6 67.9 418.6 69.0 418.8 70.0 419.0 71.0 419.3 72.0 419.6 73.1 420.0 74.1 420.4 75.1 420.8 76.1 421.1 77.1 421.4 78.2 421.6 79.2 421.7 80.2 421.7 81.2 421.7 82.2 421.5 83.3 421.2 84.3 420.8 85.3 420.3 86.3 419.7 87.4 419.0 88.4 418.2 89.4 417.5 90.4 416.8 91.4 416.2 92.5 415.8 93.5 415.5 94.5 415.5 95.5 416.0 96.6 417.2 97.6 419.3 98.6 422.3 99.6 425.3 100.6 426.8 101.7 425.9 102.7 422.9 103.7 418.6 104.7 413.4 105.8 407.8 106.8 402.0 107.8 396.1 108.8 390.1 109.8 383.9 110.9 377.5 111.9 371.0 112.9 365.2 113.9 360.9 115.0 359.6 116.0 362.4 117.0 369.5 118.0 379.6 119.0 390.3 120.1 399.1 121.1 404.7 122.1 407.3 123.1 407.5 124.2 406.5 125.2 405.4 126.2 405.0 127.2 405.5 128.2 406.4 129.3 407.5 130.3 408.3 131.3 408.6 132.3 408.0 133.4 406.5 134.4 404.4 135.4 402.3 136.4 400.4 137.4 399.2 138.5 398.8 139.5 399.6 140.5 401.3 141.5 403.6 142.5 406.5 143.6 409.5 144.6 412.7 145.6 415.8 146.6 418.8 147.7 421.6 148.7 424.3 149.7 426.6 150.7 428.7 151.7 430.3 152.8 431.6 153.8 432.2 154.8 432.3 155.8 431.9 156.9 431.1 157.9 429.9 158.9 428.5 159.9 427.0 160.9 425.5 162.0 424.1 163.0 422.8 164.0 421.6 165.0 420.5 166.1 419.6 167.1 418.7 168.1 418.1 169.1 417.5 170.1 417.1 171.2 416.7 172.2 416.5 173.2 416.3 174.2 416.3 175.3 416.3 176.3 416.3 177.3 416.5 178.3 416.7 179.3 416.9 180.4 417.2 181.4 417.5 182.4 417.9 183.4 418.4 184.4 418.9 185.5 419.4 186.5 419.9 187.5 420.5 188.5 421.1 189.6 421.7 190.6 422.3 191.6 422.9 192.6 423.4 193.6 423.9 194.7 424.4 195.7 424.9 196.7 425.3 197.7 425.6 198.8 425.9 199.8 426.1 200.8 426.2 201.8 426.3 202.8 426.4 203.9 426.5 204.9 426.5 205.9 426.5 206.9 426.6 208.0 426.6 209.0 426.7 210.0 426.7 211.0 426.8 212.0 426.9 213.1 427.0 214.1 427.1 215.1 427.2 216.1 427.3 217.2 427.4 218.2 427.5 219.2 427.6 220.2 427.7 221.2 427.8 222.3 427.9 223.3 428.0 224.3 428.0 225.3 428.0 226.4 428.0 227.4 428.0 228.4 427.9 229.4 427.8 230.4 427.7 231.5 427.5 232.5 427.3 233.5 427.1 234.5 426.8 235.6 426.5 236.6 426.2 237.6 425.8 238.6 425.4 239.6 424.9 240.7 424.4 241.7 423.8 242.7 423.2 243.7 422.5 244.7 421.8 245.8 420.9 246.8 420.1 247.8 419.2 248.8 418.3 249.9 417.5 250.9 416.8 251.9 416.1 252.9 415.6 253.9 415.1 255.0 414.6 256.0 414.1 257.0 413.7 258.0 413.3 259.1 412.8 260.1 412.3 261.1 411.7 262.1 411.2 263.1 410.5 264.2 409.9 265.2 409.3 266.2 408.7 267.2 408.2 268.3 407.7 269.3 407.2 270.3 406.8 271.3 406.5 272.3 406.3 273.4 406.1 274.4 406.0 275.4 405.8 276.4 405.7 277.5 405.5 278.5 405.3 279.5 405.0 280.5 404.7 281.5 404.3 282.6 403.8 283.6 403.3 284.6 402.7 285.6 402.1 286.7 401.5 287.7 400.9 288.7 400.3 289.7 399.7 290.7 399.1 291.8 398.6 292.8 398.0 293.8 397.5 294.8 397.1 295.8 396.6 296.9 396.2 297.9 395.9 298.9 395.5 299.9 395.2 301.0 395.0 302.0 394.8 303.0 394.6 304.0 394.5 305.0 394.5 306.1 394.5 307.1 394.6 308.1 394.7 309.1 394.9 310.2 395.2 311.2 395.6 312.2 396.2 313.2 396.9 314.2 397.8 315.3 398.8 316.3 399.9 317.3 401.0 318.3 402.1 319.4 403.1 320.4 404.1 321.4 404.9 322.4 405.6 323.4 406.1 324.5 406.6 325.5 407.0 326.5 407.3 327.5 407.6 328.6 407.9 329.6 408.2 330.6 408.5 331.6 408.8 332.6 409.2 333.7 409.5 334.7 409.9 335.7 410.3 336.7 410.6 337.8 411.0 338.8 411.3 339.8 411.6 340.8 411.9 341.8 412.1 342.9 412.4 343.9 412.6 344.9 412.9 345.9 413.1 346.9 413.4 348.0 413.7 349.0 414.0 350.0 414.3 351.0 414.7 352.1 415.1 353.1 415.5 354.1 416.0 355.1 416.5 356.1 417.0 357.2 417.5 358.2 418.0 359.2 418.4 360.2 418.8 361.3 419.1 362.3 419.4 363.3 419.6 364.3 419.8 365.3 419.9 366.4 420.0 367.4 420.0 368.4 420.1 369.4 420.1 370.5 420.1 371.5 420.1 372.5 420.1 373.5 420.1 374.5 420.1 375.6 420.1 376.6 420.1 377.6 420.1 378.6 420.2 379.7 420.3 380.7 420.4 381.7 420.5 382.7 420.7 383.7 420.8 384.8 420.9 385.8 421.0 386.8 421.2 387.8 421.3 388.9 421.3 389.9 421.4 390.9 421.4 391.9 421.4 392.9 421.4 394.0 421.4 395.0 421.3 396.0 421.2 397.0 421.1 398.0 421.0 399.1 420.9 400.1 420.8 401.1 420.7 402.1 420.6 403.2 420.5 404.2 420.4 405.2 420.3 406.2 420.2 407.2 420.1 408.3 420.1 409.3 420.0 410.3 420.0 411.3 420.0 412.4 420.0 413.4 420.0 414.4 420.1 415.4 420.2 416.4 420.3 417.5 420.4 418.5 420.5 419.5 420.7 420.5 420.9 421.6 421.2 422.6 421.4 423.6 421.8 424.6 422.1 425.6 422.5 426.7 423.0 427.7 423.4 428.7 423.9 429.7 424.4" fill="none" stroke="rgb(35,170,35)" stroke-width="1.6" stroke-dasharray="6.4 5.2"/>
<path d="M56.7 447.7 57.7 447.7 58.7 447.8 59.8 447.8 60.8 447.9 61.8 447.9 62.8 448.0 63.9 448.0 64.9 448.1 65.9 448.1 66.9 448.2 67.9 448.3 69.0 448.3 70.0 448.4 71.0 448.4 72.0 448.5 73.1 448.5 74.1 448.6 75.1 448.6 76.1 448.7 77.1 448.7 78.2 448.7 79.2 448.8 80.2 448.8 81.2 448.7 82.2 448.7 83.3 448.7 84.3 448.6 85.3 448.5 86.3 448.4 87.4 448.3 88.4 448.4 89.4 448.8 90.4 449.7 91.4 451.0 92.5 452.6 93.5 454.1 94.5 455.4 95.5 456.0 96.6 455.8 97.6 454.8 98.6 453.7 99.6 453.1 100.6 453.5 101.7 455.6 102.7 459.2 103.7 464.1 104.7 470.3 105.8 477.5 106.8 485.5 107.8 494.0 108.8 502.1 109.8 508.7 110.9 511.7 111.9 509.6 112.9 502.1 113.9 490.3 115.0 476.4 116.0 463.4 117.0 453.7 118.0 448.8 119.0 449.0 120.1 452.9 121.1 458.6 122.1 464.6 123.1 469.9 124.2 473.6 125.2 475.2 126.2 474.0 127.2 470.4 128.2 465.1 129.3 458.5 130.3 451.3 131.3 443.9 132.3 436.9 133.4 431.0 134.4 426.6 135.4 424.3 136.4 424.0 137.4 425.1 138.5 427.3 139.5 429.8 140.5 432.7 141.5 435.7 142.5 438.8 143.6 441.7 144.6 444.4 145.6 446.7 146.6 448.8 147.7 450.7 148.7 452.6 149.7 454.4 150.7 456.2 151.7 458.3 152.8 460.6 153.8 463.0 154.8 465.3 155.8 467.4 156.9 468.9 157.9 469.7 158.9 469.8 159.9 469.4 160.9 468.6 162.0 467.5 163.0 466.2 164.0 465.0 165.0 463.8 166.1 463.0 167.1 462.4 168.1 462.1 169.1 462.0 170.1 462.1 171.2 462.3 172.2 462.6 173.2 463.0 174.2 463.5 175.3 464.1 176.3 464.8 177.3 465.4 178.3 466.2 179.3 466.9 180.4 467.7 181.4 468.5 182.4 469.3 183.4 470.1 184.4 470.9 185.5 471.7 186.5 472.6 187.5 473.4 188.5 474.2 189.6 475.0 190.6 475.8 191.6 476.6 192.6 477.3 193.6 478.1 194.7 478.8 195.7 479.5 196.7 480.2 197.7 480.8 198.8 481.4 199.8 481.9 200.8 482.4 201.8 482.9 202.8 483.3 203.9 483.6 204.9 483.9 205.9 484.2 206.9 484.4 208.0 484.7 209.0 484.8 210.0 485.0 211.0 485.1 212.0 485.3 213.1 485.4 214.1 485.5 215.1 485.6 216.1 485.7 217.2 485.8 218.2 485.9 219.2 486.0 220.2 486.0 221.2 486.1 222.3 486.1 223.3 486.0 224.3 486.0 225.3 485.9 226.4 485.7 227.4 485.5 228.4 485.4 229.4 485.1 230.4 484.9 231.5 484.7 232.5 484.5 233.5 484.3 234.5 484.1 235.6 484.0 236.6 483.9 237.6 483.8 238.6 483.7 239.6 483.6 240.7 483.5 241.7 483.4 242.7 483.4 243.7 483.3 244.7 483.2 245.8 483.1 246.8 482.9 247.8 482.8 248.8 482.6 249.9 482.5 250.9 482.4 251.9 482.3 252.9 482.2 253.9 482.1 255.0 481.9 256.0 481.7 257.0 481.4 258.0 481.0 259.1 480.5 260.1 479.9 261.1 479.2 262.1 478.3 263.1 477.4 264.2 476.3 265.2 475.2 266.2 474.0 267.2 472.7 268.3 471.3 269.3 470.0 270.3 468.6 271.3 467.3 272.3 465.9 273.4 464.6 274.4 463.4 275.4 462.2 276.4 461.0 277.5 459.9 278.5 458.9 279.5 457.9 280.5 457.0 281.5 456.1 282.6 455.3 283.6 454.6 284.6 453.8 285.6 453.1 286.7 452.5 287.7 451.8 288.7 451.1 289.7 450.4 290.7 449.7 291.8 449.1 292.8 448.4 293.8 447.8 294.8 447.2 295.8 446.7 296.9 446.3 297.9 445.9 298.9 445.7 299.9 445.6 301.0 445.7 302.0 445.8 303.0 446.0 304.0 446.3 305.0 446.5 306.1 446.8 307.1 447.0 308.1 447.2 309.1 447.3 310.2 447.3 311.2 447.2 312.2 447.1 313.2 447.0 314.2 446.9 315.3 446.8 316.3 446.8 317.3 446.8 318.3 447.0 319.4 447.2 320.4 447.6 321.4 447.9 322.4 448.3 323.4 448.7 324.5 449.1 325.5 449.4 326.5 449.7 327.5 449.9 328.6 450.1 329.6 450.3 330.6 450.4 331.6 450.5 332.6 450.6 333.7 450.6 334.7 450.7 335.7 450.7 336.7 450.6 337.8 450.6 338.8 450.5 339.8 450.4 340.8 450.3 341.8 450.2 342.9 450.0 343.9 449.9 344.9 449.7 345.9 449.5 346.9 449.2 348.0 449.0 349.0 448.8 350.0 448.5 351.0 448.2 352.1 448.0 353.1 447.7 354.1 447.4 355.1 447.1 356.1 446.8 357.2 446.5 358.2 446.2 359.2 445.9 360.2 445.7 361.3 445.5 362.3 445.4 363.3 445.2 364.3 445.1 365.3 445.0 366.4 445.0 367.4 444.9 368.4 444.9 369.4 444.9 370.5 444.9 371.5 445.0 372.5 445.0 373.5 445.1 374.5 445.2 375.6 445.3 376.6 445.4 377.6 445.5 378.6 445.6 379.7 445.8 380.7 445.9 381.7 446.1 382.7 446.3 383.7 446.4 384.8 446.6 385.8 446.9 386.8 447.1 387.8 447.4 388.9 447.7 389.9 448.0 390.9 448.3 391.9 448.7 392.9 449.0 394.0 449.4 395.0 449.8 396.0 450.1 397.0 450.4 398.0 450.7 399.1 450.9 400.1 451.1 401.1 451.2 402.1 451.2 403.2 451.2 404.2 451.0 405.2 450.8 406.2 450.6 407.2 450.3 408.3 450.0 409.3 449.6 410.3 449.2 411.3 448.9 412.4 448.5 413.4 448.1 414.4 447.7 415.4 447.4 416.4 447.0 417.5 446.5 418.5 446.1 419.5 445.6 420.5 445.1 421.6 444.6 422.6 444.0 423.6 443.3 424.6 442.7 425.6 442.0 426.7 441.3 427.7 440.6 428.7 439.8 429.7 439.1" fill="none" stroke="rgb(35,170,35)" stroke-width="1.6" stroke-dasharray="6.4 5.2"/>
<path d="M56.7 426.2 57.7 425.7 58.7 425.1 59.8 424.6 60.8 424.1 61.8 423.6 62.8 423.2 63.9 422.9 64.9 422.6 65.9 422.4 66.9 422.4 67.9 422.4 69.0 422.6 70.0 422.8 71.0 423.1 72.0 423.5 73.1 423.8 74.1 424.2 75.1 424.6 76.1 425.0 77.1 425.3 78.2 425.5 79.2 425.6 80.2 425.6 81.2 425.6 82.2 425.4 83.3 425.1 84.3 424.7 85.3 424.1 86.3 423.4 87.4 422.6 88.4 421.5 89.4 420.1 90.4 418.3 91.4 415.9 92.5 412.9 93.5 409.6 94.5 406.6 95.5 404.8 96.6 405.1 97.6 408.1 98.6 413.6 99.6 419.7 100.6 424.3 101.7 425.8 102.7 424.5 103.7 421.0 104.7 416.2 105.8 410.5 106.8 404.2 107.8 397.3 108.8 389.4 109.8 379.2 110.9 365.7 111.9 347.8 112.9 326.2 113.9 303.2 115.0 283.9 116.0 274.0 117.0 277.6 118.0 294.4 119.0 320.0 120.1 347.5 121.1 371.4 122.1 388.6 123.1 398.9 124.2 404.0 125.2 406.1 126.2 407.5 127.2 409.0 128.2 410.8 129.3 412.8 130.3 414.9 131.3 416.5 132.3 417.4 133.4 417.2 134.4 416.3 135.4 414.9 136.4 413.3 137.4 411.8 138.5 410.7 139.5 410.3 140.5 410.7 141.5 411.8 142.5 413.5 143.6 415.7 144.6 418.1 145.6 420.7 146.6 423.4 147.7 426.0 148.7 428.5 149.7 430.7 150.7 432.5 151.7 434.0 152.8 435.1 153.8 435.6 154.8 435.5 155.8 434.8 156.9 433.8 157.9 432.5 158.9 431.0 159.9 429.3 160.9 427.7 162.0 426.2 163.0 424.9 164.0 423.7 165.0 422.7 166.1 421.8 167.1 421.2 168.1 420.7 169.1 420.4 170.1 420.3 171.2 420.3 172.2 420.4 173.2 420.6 174.2 420.9 175.3 421.2 176.3 421.6 177.3 422.1 178.3 422.5 179.3 423.0 180.4 423.5 181.4 423.9 182.4 424.3 183.4 424.7 184.4 425.1 185.5 425.4 186.5 425.6 187.5 425.8 188.5 426.0 189.6 426.0 190.6 426.0 191.6 426.0 192.6 425.9 193.6 425.7 194.7 425.5 195.7 425.2 196.7 424.8 197.7 424.4 198.8 423.9 199.8 423.4 200.8 422.9 201.8 422.4 202.8 421.9 203.9 421.4 204.9 420.9 205.9 420.5 206.9 420.2 208.0 419.9 209.0 419.7 210.0 419.6 211.0 419.5 212.0 419.5 213.1 419.6 214.1 419.7 215.1 419.9 216.1 420.1 217.2 420.3 218.2 420.6 219.2 420.9 220.2 421.3 221.2 421.6 222.3 422.0 223.3 422.3 224.3 422.7 225.3 423.1 226.4 423.4 227.4 423.7 228.4 424.0 229.4 424.3 230.4 424.5 231.5 424.7 232.5 424.9 233.5 425.0 234.5 425.1 235.6 425.2 236.6 425.2 237.6 425.1 238.6 425.0 239.6 424.9 240.7 424.6 241.7 424.3 242.7 424.0 243.7 423.5 244.7 423.0 245.8 422.4 246.8 421.7 247.8 421.0 248.8 420.3 249.9 419.6 250.9 419.0 251.9 418.5 252.9 418.1 253.9 417.7 255.0 417.3 256.0 417.0 257.0 416.6 258.0 416.2 259.1 415.8 260.1 415.4 261.1 414.9 262.1 414.4 263.1 413.8 264.2 413.2 265.2 412.6 266.2 412.1 267.2 411.5 268.3 411.1 269.3 410.6 270.3 410.3 271.3 410.0 272.3 409.8 273.4 409.6 274.4 409.4 275.4 409.3 276.4 409.1 277.5 408.9 278.5 408.7 279.5 408.4 280.5 408.0 281.5 407.5 282.6 407.0 283.6 406.3 284.6 405.7 285.6 405.0 286.7 404.2 287.7 403.5 288.7 402.7 289.7 401.9 290.7 401.2 291.8 400.4 292.8 399.7 293.8 399.0 294.8 398.3 295.8 397.6 296.9 396.9 297.9 396.3 298.9 395.7 299.9 395.2 301.0 394.7 302.0 394.2 303.0 393.8 304.0 393.5 305.0 393.2 306.1 393.0 307.1 392.8 308.1 392.7 309.1 392.7 310.2 392.9 311.2 393.1 312.2 393.6 313.2 394.2 314.2 395.0 315.3 395.9 316.3 396.9 317.3 398.0 318.3 399.1 319.4 400.2 320.4 401.1 321.4 401.9 322.4 402.6 323.4 403.2 324.5 403.7 325.5 404.2 326.5 404.6 327.5 404.9 328.6 405.2 329.6 405.5 330.6 405.9 331.6 406.3 332.6 406.7 333.7 407.1 334.7 407.5 335.7 408.0 336.7 408.4 337.8 408.8 338.8 409.3 339.8 409.6 340.8 410.0 341.8 410.4 342.9 410.7 343.9 411.0 344.9 411.4 345.9 411.7 346.9 412.1 348.0 412.5 349.0 412.9 350.0 413.4 351.0 413.9 352.1 414.4 353.1 415.0 354.1 415.6 355.1 416.3 356.1 416.9 357.2 417.6 358.2 418.2 359.2 418.8 360.2 419.4 361.3 419.9 362.3 420.3 363.3 420.6 364.3 421.0 365.3 421.2 366.4 421.4 367.4 421.6 368.4 421.8 369.4 421.9 370.5 422.0 371.5 422.1 372.5 422.2 373.5 422.3 374.5 422.4 375.6 422.4 376.6 422.5 377.6 422.6 378.6 422.7 379.7 422.9 380.7 423.0 381.7 423.1 382.7 423.3 383.7 423.4 384.8 423.6 385.8 423.7 386.8 423.8 387.8 423.8 388.9 423.9 389.9 423.9 390.9 423.9 391.9 423.8 392.9 423.8 394.0 423.6 395.0 423.5 396.0 423.4 397.0 423.2 398.0 423.0 399.1 422.8 400.1 422.6 401.1 422.5 402.1 422.3 403.2 422.1 404.2 421.9 405.2 421.8 406.2 421.7 407.2 421.6 408.3 421.5 409.3 421.4 410.3 421.4 411.3 421.4 412.4 421.4 413.4 421.4 414.4 421.5 415.4 421.5 416.4 421.7 417.5 421.8 418.5 422.0 419.5 422.2 420.5 422.5 421.6 422.8 422.6 423.2 423.6 423.6 424.6 424.0 425.6 424.5 426.7 425.1 427.7 425.6 428.7 426.2 429.7 426.8" fill="none" stroke="rgb(35,170,35)" stroke-width="1.6" stroke-dasharray="1.68 1.28"/>
<path d="M56.7 452.7 57.7 452.7 58.7 452.7 59.8 452.8 60.8 452.8 61.8 452.8 62.8 452.8 63.9 452.9 64.9 452.9 65.9 453.0 66.9 453.0 67.9 453.0 69.0 453.1 70.0 453.2 71.0 453.2 72.0 453.3 73.1 453.3 74.1 453.4 75.1 453.5 76.1 453.5 77.1 453.6 78.2 453.6 79.2 453.6 80.2 453.6 81.2 453.6 82.2 453.5 83.3 453.5 84.3 453.4 85.3 453.3 86.3 453.2 87.4 453.2 88.4 453.3 89.4 453.7 90.4 454.4 91.4 455.6 92.5 457.1 93.5 458.5 94.5 459.7 95.5 460.3 96.6 460.2 97.6 459.4 98.6 458.4 99.6 457.9 100.6 458.4 101.7 460.5 102.7 464.2 103.7 469.6 104.7 477.2 105.8 487.3 106.8 500.2 107.8 516.3 108.8 534.9 109.8 554.8 110.9 573.2 111.9 586.8 112.9 593.0 113.9 589.9 115.0 577.5 116.0 557.7 117.0 534.3 118.0 511.7 119.0 493.7 120.1 482.0 121.1 476.0 122.1 474.3 123.1 475.1 124.2 476.6 125.2 477.1 126.2 475.7 127.2 472.2 128.2 467.2 129.3 461.1 130.3 454.3 131.3 447.4 132.3 440.9 133.4 435.3 134.4 431.1 135.4 428.8 136.4 428.4 137.4 429.3 138.5 431.1 139.5 433.4 140.5 436.1 141.5 438.9 142.5 441.8 143.6 444.7 144.6 447.4 145.6 450.1 146.6 452.6 147.7 455.1 148.7 457.7 149.7 460.4 150.7 463.3 151.7 466.5 152.8 469.8 153.8 473.1 154.8 476.0 155.8 478.4 156.9 479.9 157.9 480.4 158.9 479.9 159.9 478.6 160.9 476.8 162.0 474.6 163.0 472.4 164.0 470.3 165.0 468.5 166.1 467.1 167.1 466.2 168.1 465.8 169.1 465.7 170.1 466.0 171.2 466.5 172.2 467.2 173.2 468.1 174.2 469.2 175.3 470.3 176.3 471.5 177.3 472.8 178.3 474.1 179.3 475.4 180.4 476.6 181.4 477.9 182.4 479.1 183.4 480.2 184.4 481.3 185.5 482.3 186.5 483.3 187.5 484.2 188.5 485.0 189.6 485.8 190.6 486.5 191.6 487.2 192.6 487.8 193.6 488.4 194.7 488.9 195.7 489.4 196.7 489.9 197.7 490.3 198.8 490.6 199.8 490.9 200.8 491.2 201.8 491.5 202.8 491.7 203.9 491.9 204.9 492.1 205.9 492.2 206.9 492.3 208.0 492.3 209.0 492.4 210.0 492.4 211.0 492.5 212.0 492.5 213.1 492.5 214.1 492.4 215.1 492.4 216.1 492.4 217.2 492.3 218.2 492.2 219.2 492.1 220.2 492.0 221.2 491.8 222.3 491.6 223.3 491.4 224.3 491.2 225.3 490.8 226.4 490.5 227.4 490.1 228.4 489.7 229.4 489.3 230.4 488.9 231.5 488.5 232.5 488.0 233.5 487.6 234.5 487.2 235.6 486.8 236.6 486.4 237.6 486.0 238.6 485.6 239.6 485.1 240.7 484.7 241.7 484.2 242.7 483.7 243.7 483.1 244.7 482.5 245.8 481.8 246.8 481.1 247.8 480.3 248.8 479.5 249.9 478.7 250.9 478.0 251.9 477.2 252.9 476.5 253.9 475.8 255.0 475.0 256.0 474.3 257.0 473.6 258.0 472.8 259.1 472.1 260.1 471.3 261.1 470.6 262.1 469.8 263.1 469.0 264.2 468.2 265.2 467.4 266.2 466.6 267.2 465.8 268.3 465.1 269.3 464.3 270.3 463.6 271.3 462.9 272.3 462.2 273.4 461.5 274.4 460.8 275.4 460.2 276.4 459.6 277.5 459.0 278.5 458.4 279.5 457.8 280.5 457.2 281.5 456.6 282.6 456.1 283.6 455.5 284.6 454.9 285.6 454.4 286.7 453.8 287.7 453.2 288.7 452.5 289.7 451.9 290.7 451.2 291.8 450.5 292.8 449.8 293.8 449.2 294.8 448.6 295.8 448.0 296.9 447.5 297.9 447.1 298.9 446.8 299.9 446.6 301.0 446.5 302.0 446.4 303.0 446.5 304.0 446.6 305.0 446.7 306.1 446.8 307.1 446.9 308.1 446.9 309.1 446.9 310.2 446.7 311.2 446.5 312.2 446.3 313.2 446.1 314.2 445.8 315.3 445.6 316.3 445.4 317.3 445.4 318.3 445.4 319.4 445.5 320.4 445.6 321.4 445.8 322.4 446.1 323.4 446.3 324.5 446.5 325.5 446.7 326.5 446.9 327.5 447.0 328.6 447.1 329.6 447.2 330.6 447.2 331.6 447.3 332.6 447.3 333.7 447.3 334.7 447.3 335.7 447.3 336.7 447.2 337.8 447.2 338.8 447.1 339.8 447.1 340.8 447.0 341.8 447.0 342.9 446.9 343.9 446.8 344.9 446.7 345.9 446.6 346.9 446.5 348.0 446.4 349.0 446.3 350.0 446.2 351.0 446.1 352.1 446.0 353.1 445.9 354.1 445.8 355.1 445.7 356.1 445.6 357.2 445.5 358.2 445.4 359.2 445.3 360.2 445.3 361.3 445.3 362.3 445.3 363.3 445.3 364.3 445.4 365.3 445.4 366.4 445.5 367.4 445.6 368.4 445.7 369.4 445.9 370.5 446.0 371.5 446.2 372.5 446.3 373.5 446.5 374.5 446.6 375.6 446.8 376.6 447.0 377.6 447.2 378.6 447.3 379.7 447.5 380.7 447.7 381.7 447.9 382.7 448.1 383.7 448.2 384.8 448.4 385.8 448.6 386.8 448.9 387.8 449.1 388.9 449.3 389.9 449.6 390.9 449.9 391.9 450.2 392.9 450.5 394.0 450.8 395.0 451.1 396.0 451.3 397.0 451.6 398.0 451.8 399.1 451.9 400.1 452.0 401.1 452.1 402.1 452.0 403.2 451.9 404.2 451.8 405.2 451.5 406.2 451.3 407.2 450.9 408.3 450.6 409.3 450.2 410.3 449.9 411.3 449.5 412.4 449.1 413.4 448.8 414.4 448.4 415.4 448.1 416.4 447.7 417.5 447.3 418.5 446.9 419.5 446.5 420.5 446.1 421.6 445.6 422.6 445.1 423.6 444.6 424.6 444.1 425.6 443.5 426.7 442.9 427.7 442.4 428.7 441.8 429.7 441.2" fill="none" stroke="rgb(35,170,35)" stroke-width="1.6" stroke-dasharray="1.68 1.28"/>
<path d="M56.7 422.0 57.7 421.4 58.7 420.8 59.8 420.2 60.8 419.7 61.8 419.2 62.8 418.8 63.9 418.4 64.9 418.2 65.9 418.0 66.9 417.9 67.9 418.0 69.0 418.1 70.0 418.4 71.0 418.7 72.0 419.1 73.1 419.5 74.1 419.9 75.1 420.3 76.1 420.7 77.1 421.0 78.2 421.2 79.2 421.4 80.2 421.4 81.2 421.3 82.2 421.1 83.3 420.8 84.3 420.4 85.3 419.8 86.3 419.1 87.4 418.2 88.4 417.3 89.4 416.4 90.4 415.6 91.4 414.9 92.5 414.3 93.5 414.0 94.5 413.9 95.5 414.4 96.6 415.6 97.6 418.0 98.6 421.5 99.6 424.8 100.6 426.5 101.7 425.4 102.7 421.9 103.7 416.9 104.7 410.7 105.8 403.7 106.8 395.9 107.8 387.3 108.8 377.8 109.8 367.9 110.9 358.5 111.9 351.7 112.9 349.1 113.9 351.7 115.0 359.6 116.0 371.4 117.0 384.6 118.0 396.9 119.0 406.0 120.1 410.9 121.1 412.1 122.1 410.7 123.1 408.1 124.2 405.2 125.2 403.2 126.2 402.6 127.2 403.4 128.2 405.1 129.3 407.1 130.3 409.0 131.3 410.2 132.3 410.3 133.4 409.0 134.4 406.6 135.4 403.7 136.4 400.7 137.4 398.3 138.5 396.8 139.5 396.7 140.5 398.1 141.5 400.6 142.5 403.9 143.6 407.7 144.6 411.6 145.6 415.4 146.6 419.0 147.7 422.2 148.7 424.9 149.7 427.3 150.7 429.2 151.7 430.6 152.8 431.5 153.8 431.8 154.8 431.4 155.8 430.6 156.9 429.3 157.9 427.8 158.9 426.0 159.9 424.2 160.9 422.4 162.0 420.6 163.0 419.0 164.0 417.6 165.0 416.3 166.1 415.2 167.1 414.4 168.1 413.6 169.1 413.1 170.1 412.7 171.2 412.4 172.2 412.3 173.2 412.2 174.2 412.3 175.3 412.5 176.3 412.7 177.3 413.0 178.3 413.4 179.3 413.8 180.4 414.4 181.4 414.9 182.4 415.6 183.4 416.2 184.4 416.9 185.5 417.6 186.5 418.4 187.5 419.1 188.5 419.9 189.6 420.6 190.6 421.3 191.6 422.0 192.6 422.7 193.6 423.3 194.7 423.8 195.7 424.3 196.7 424.7 197.7 425.1 198.8 425.3 199.8 425.5 200.8 425.6 201.8 425.7 202.8 425.7 203.9 425.7 204.9 425.7 205.9 425.6 206.9 425.6 208.0 425.6 209.0 425.5 210.0 425.5 211.0 425.5 212.0 425.5 213.1 425.5 214.1 425.5 215.1 425.6 216.1 425.6 217.2 425.6 218.2 425.6 219.2 425.6 220.2 425.7 221.2 425.7 222.3 425.7 223.3 425.6 224.3 425.6 225.3 425.6 226.4 425.5 227.4 425.4 228.4 425.3 229.4 425.2 230.4 425.0 231.5 424.9 232.5 424.7 233.5 424.4 234.5 424.2 235.6 423.9 236.6 423.6 237.6 423.3 238.6 422.9 239.6 422.5 240.7 422.0 241.7 421.5 242.7 420.9 243.7 420.2 244.7 419.5 245.8 418.7 246.8 417.9 247.8 417.0 248.8 416.2 249.9 415.4 250.9 414.7 251.9 414.1 252.9 413.6 253.9 413.2 255.0 412.8 256.0 412.4 257.0 412.0 258.0 411.6 259.1 411.3 260.1 410.8 261.1 410.4 262.1 409.9 263.1 409.3 264.2 408.8 265.2 408.3 266.2 407.8 267.2 407.4 268.3 407.0 269.3 406.7 270.3 406.6 271.3 406.4 272.3 406.4 273.4 406.5 274.4 406.5 275.4 406.6 276.4 406.7 277.5 406.8 278.5 406.9 279.5 406.8 280.5 406.7 281.5 406.6 282.6 406.3 283.6 406.0 284.6 405.6 285.6 405.2 286.7 404.8 287.7 404.4 288.7 403.9 289.7 403.5 290.7 403.0 291.8 402.6 292.8 402.2 293.8 401.8 294.8 401.4 295.8 401.0 296.9 400.6 297.9 400.2 298.9 399.8 299.9 399.4 301.0 399.1 302.0 398.7 303.0 398.4 304.0 398.1 305.0 397.8 306.1 397.5 307.1 397.3 308.1 397.1 309.1 397.0 310.2 397.0 311.2 397.0 312.2 397.3 313.2 397.7 314.2 398.2 315.3 398.9 316.3 399.7 317.3 400.5 318.3 401.4 319.4 402.1 320.4 402.8 321.4 403.3 322.4 403.6 323.4 403.9 324.5 404.1 325.5 404.1 326.5 404.2 327.5 404.2 328.6 404.2 329.6 404.2 330.6 404.3 331.6 404.4 332.6 404.6 333.7 404.8 334.7 405.1 335.7 405.3 336.7 405.6 337.8 405.9 338.8 406.2 339.8 406.5 340.8 406.7 341.8 407.0 342.9 407.3 343.9 407.6 344.9 407.9 345.9 408.2 346.9 408.5 348.0 408.9 349.0 409.3 350.0 409.7 351.0 410.2 352.1 410.8 353.1 411.4 354.1 412.0 355.1 412.7 356.1 413.4 357.2 414.1 358.2 414.8 359.2 415.4 360.2 416.0 361.3 416.5 362.3 417.0 363.3 417.4 364.3 417.7 365.3 418.0 366.4 418.3 367.4 418.5 368.4 418.7 369.4 418.8 370.5 419.0 371.5 419.1 372.5 419.2 373.5 419.3 374.5 419.4 375.6 419.6 376.6 419.7 377.6 419.8 378.6 420.0 379.7 420.2 380.7 420.4 381.7 420.6 382.7 420.8 383.7 421.0 384.8 421.2 385.8 421.4 386.8 421.5 387.8 421.7 388.9 421.8 389.9 421.9 390.9 421.9 391.9 421.9 392.9 421.9 394.0 421.9 395.0 421.8 396.0 421.7 397.0 421.6 398.0 421.5 399.1 421.4 400.1 421.2 401.1 421.1 402.1 421.0 403.2 420.9 404.2 420.8 405.2 420.7 406.2 420.6 407.2 420.5 408.3 420.5 409.3 420.5 410.3 420.5 411.3 420.5 412.4 420.5 413.4 420.6 414.4 420.7 415.4 420.8 416.4 420.9 417.5 421.1 418.5 421.3 419.5 421.5 420.5 421.8 421.6 422.1 422.6 422.4 423.6 422.8 424.6 423.3 425.6 423.8 426.7 424.3 427.7 424.9 428.7 425.4 429.7 426.0" fill="none" stroke="rgb(35,170,35)" stroke-width="1.6" stroke-dasharray="5.84 1.44 2.16 1.44"/>
<path d="M56.7 453.6 57.7 453.7 58.7 453.8 59.8 453.8 60.8 453.9 61.8 454.0 62.8 454.0 63.9 454.1 64.9 454.2 65.9 454.2 66.9 454.3 67.9 454.3 69.0 454.4 70.0 454.5 71.0 454.5 72.0 454.6 73.1 454.6 74.1 454.7 75.1 454.7 76.1 454.7 77.1 454.8 78.2 454.8 79.2 454.8 80.2 454.8 81.2 454.8 82.2 454.8 83.3 454.7 84.3 454.6 85.3 454.5 86.3 454.4 87.4 454.3 88.4 454.5 89.4 454.9 90.4 455.8 91.4 457.1 92.5 458.8 93.5 460.4 94.5 461.6 95.5 462.3 96.6 462.0 97.6 460.9 98.6 459.7 99.6 459.1 100.6 459.9 101.7 462.8 102.7 468.2 103.7 476.0 104.7 486.1 105.8 497.6 106.8 508.7 107.8 517.3 108.8 521.3 109.8 519.5 110.9 511.9 111.9 500.0 112.9 486.9 113.9 474.9 115.0 465.7 116.0 459.6 117.0 456.5 118.0 455.9 119.0 457.7 120.1 461.4 121.1 466.1 122.1 471.0 123.1 475.4 124.2 478.7 125.2 480.0 126.2 478.6 127.2 474.9 128.2 469.3 129.3 462.5 130.3 455.1 131.3 447.4 132.3 440.3 133.4 434.1 134.4 429.6 135.4 427.3 136.4 427.0 137.4 428.3 138.5 430.6 139.5 433.3 140.5 436.3 141.5 439.4 142.5 442.5 143.6 445.4 144.6 448.1 145.6 450.5 146.6 452.5 147.7 454.3 148.7 455.9 149.7 457.6 150.7 459.3 151.7 461.2 152.8 463.3 153.8 465.6 154.8 467.8 155.8 469.7 156.9 471.0 157.9 471.7 158.9 471.6 159.9 471.0 160.9 470.0 162.0 468.6 163.0 467.2 164.0 465.7 165.0 464.5 166.1 463.5 167.1 462.9 168.1 462.6 169.1 462.5 170.1 462.6 171.2 462.9 172.2 463.4 173.2 464.0 174.2 464.6 175.3 465.4 176.3 466.3 177.3 467.3 178.3 468.3 179.3 469.3 180.4 470.4 181.4 471.5 182.4 472.6 183.4 473.7 184.4 474.8 185.5 475.9 186.5 477.0 187.5 478.1 188.5 479.2 189.6 480.3 190.6 481.3 191.6 482.4 192.6 483.5 193.6 484.5 194.7 485.5 195.7 486.5 196.7 487.5 197.7 488.4 198.8 489.3 199.8 490.2 200.8 491.0 201.8 491.8 202.8 492.5 203.9 493.1 204.9 493.7 205.9 494.2 206.9 494.7 208.0 495.1 209.0 495.5 210.0 495.8 211.0 496.1 212.0 496.3 213.1 496.4 214.1 496.6 215.1 496.6 216.1 496.7 217.2 496.7 218.2 496.7 219.2 496.6 220.2 496.5 221.2 496.4 222.3 496.4 223.3 496.3 224.3 496.1 225.3 496.1 226.4 496.0 227.4 496.0 228.4 496.0 229.4 496.1 230.4 496.2 231.5 496.5 232.5 496.8 233.5 497.1 234.5 497.6 235.6 498.1 236.6 498.6 237.6 499.1 238.6 499.6 239.6 500.0 240.7 500.3 241.7 500.5 242.7 500.5 243.7 500.4 244.7 500.0 245.8 499.5 246.8 498.7 247.8 497.8 248.8 496.6 249.9 495.4 250.9 494.0 251.9 492.6 252.9 491.0 253.9 489.4 255.0 487.8 256.0 486.2 257.0 484.5 258.0 482.9 259.1 481.3 260.1 479.8 261.1 478.2 262.1 476.8 263.1 475.4 264.2 474.1 265.2 472.8 266.2 471.6 267.2 470.5 268.3 469.5 269.3 468.6 270.3 467.7 271.3 467.0 272.3 466.2 273.4 465.6 274.4 465.0 275.4 464.4 276.4 463.9 277.5 463.5 278.5 463.0 279.5 462.6 280.5 462.2 281.5 461.9 282.6 461.6 283.6 461.2 284.6 460.9 285.6 460.6 286.7 460.3 287.7 459.9 288.7 459.5 289.7 459.1 290.7 458.7 291.8 458.3 292.8 457.8 293.8 457.4 294.8 457.0 295.8 456.7 296.9 456.4 297.9 456.2 298.9 456.0 299.9 456.0 301.0 456.1 302.0 456.2 303.0 456.4 304.0 456.6 305.0 456.8 306.1 457.0 307.1 457.1 308.1 457.1 309.1 457.0 310.2 456.8 311.2 456.4 312.2 456.0 313.2 455.5 314.2 455.1 315.3 454.6 316.3 454.2 317.3 453.8 318.3 453.6 319.4 453.4 320.4 453.3 321.4 453.2 322.4 453.2 323.4 453.1 324.5 453.1 325.5 453.0 326.5 452.8 327.5 452.7 328.6 452.5 329.6 452.2 330.6 452.0 331.6 451.7 332.6 451.5 333.7 451.2 334.7 450.9 335.7 450.7 336.7 450.4 337.8 450.1 338.8 449.9 339.8 449.6 340.8 449.4 341.8 449.1 342.9 448.9 343.9 448.6 344.9 448.4 345.9 448.2 346.9 447.9 348.0 447.7 349.0 447.5 350.0 447.3 351.0 447.1 352.1 446.8 353.1 446.6 354.1 446.4 355.1 446.2 356.1 446.0 357.2 445.9 358.2 445.7 359.2 445.6 360.2 445.5 361.3 445.5 362.3 445.5 363.3 445.5 364.3 445.5 365.3 445.6 366.4 445.7 367.4 445.8 368.4 446.0 369.4 446.1 370.5 446.3 371.5 446.5 372.5 446.7 373.5 446.9 374.5 447.2 375.6 447.4 376.6 447.6 377.6 447.9 378.6 448.2 379.7 448.4 380.7 448.7 381.7 449.0 382.7 449.3 383.7 449.6 384.8 449.9 385.8 450.3 386.8 450.6 387.8 451.0 388.9 451.5 389.9 451.9 390.9 452.4 391.9 452.9 392.9 453.4 394.0 453.9 395.0 454.4 396.0 454.9 397.0 455.4 398.0 455.8 399.1 456.2 400.1 456.5 401.1 456.7 402.1 456.8 403.2 456.9 404.2 456.9 405.2 456.8 406.2 456.6 407.2 456.4 408.3 456.1 409.3 455.9 410.3 455.5 411.3 455.2 412.4 454.8 413.4 454.5 414.4 454.1 415.4 453.7 416.4 453.3 417.5 452.8 418.5 452.3 419.5 451.8 420.5 451.2 421.6 450.5 422.6 449.8 423.6 449.1 424.6 448.3 425.6 447.5 426.7 446.6 427.7 445.8 428.7 444.9 429.7 444.0" fill="none" stroke="rgb(35,170,35)" stroke-width="1.6" stroke-dasharray="5.84 1.44 2.16 1.44"/>
<path d="M56.7 435.8 57.7 435.6 58.7 435.3 59.8 435.1 60.8 434.8 61.8 434.6 62.8 434.4 63.9 434.2 64.9 434.1 65.9 434.0 66.9 433.9 67.9 433.9 69.0 434.0 70.0 434.1 71.0 434.2 72.0 434.3 73.1 434.4 74.1 434.6 75.1 434.7 76.1 434.8 77.1 434.9 78.2 435.0 79.2 435.0 80.2 435.0 81.2 435.0 82.2 434.9 83.3 434.9 84.3 434.9 85.3 434.8 86.3 434.8 87.4 434.8 88.4 434.9 89.4 435.0 90.4 435.2 91.4 435.4 92.5 435.7 93.5 436.1 94.5 436.6 95.5 437.2 96.6 437.8 97.6 438.6 98.6 439.4 99.6 440.3 100.6 441.3 101.7 442.2 102.7 443.3 103.7 444.5 104.7 446.0 105.8 447.7 106.8 449.3 107.8 450.1 108.8 449.4 109.8 446.7 110.9 442.4 111.9 437.1 112.9 431.9 113.9 427.8 115.0 425.5 116.0 425.2 117.0 426.6 118.0 429.1 119.0 432.0 120.1 434.8 121.1 437.2 122.1 439.2 123.1 440.7 124.2 441.7 125.2 442.2 126.2 442.0 127.2 441.0 128.2 439.3 129.3 437.2 130.3 434.7 131.3 432.2 132.3 429.6 133.4 427.2 134.4 425.0 135.4 423.0 136.4 421.4 137.4 420.2 138.5 419.4 139.5 419.2 140.5 419.5 141.5 420.2 142.5 421.3 143.6 422.8 144.6 424.6 145.6 426.7 146.6 429.1 147.7 431.7 148.7 434.5 149.7 437.3 150.7 440.0 151.7 442.6 152.8 444.9 153.8 446.8 154.8 448.2 155.8 449.0 156.9 449.3 157.9 449.0 158.9 448.3 159.9 447.5 160.9 446.5 162.0 445.5 163.0 444.6 164.0 443.7 165.0 442.8 166.1 441.8 167.1 441.0 168.1 440.2 169.1 439.5 170.1 439.1 171.2 438.8 172.2 438.8 173.2 438.9 174.2 439.2 175.3 439.7 176.3 440.2 177.3 440.9 178.3 441.6 179.3 442.3 180.4 443.1 181.4 443.9 182.4 444.7 183.4 445.6 184.4 446.4 185.5 447.3 186.5 448.2 187.5 449.1 188.5 450.0 189.6 450.9 190.6 451.8 191.6 452.7 192.6 453.6 193.6 454.5 194.7 455.4 195.7 456.2 196.7 457.0 197.7 457.8 198.8 458.5 199.8 459.1 200.8 459.8 201.8 460.3 202.8 460.8 203.9 461.2 204.9 461.5 205.9 461.7 206.9 461.9 208.0 462.0 209.0 462.0 210.0 461.9 211.0 461.9 212.0 461.7 213.1 461.6 214.1 461.3 215.1 461.1 216.1 460.8 217.2 460.6 218.2 460.3 219.2 460.0 220.2 459.6 221.2 459.3 222.3 458.9 223.3 458.5 224.3 458.1 225.3 457.6 226.4 457.1 227.4 456.6 228.4 456.1 229.4 455.5 230.4 454.9 231.5 454.3 232.5 453.6 233.5 452.9 234.5 452.2 235.6 451.4 236.6 450.7 237.6 449.9 238.6 449.1 239.6 448.2 240.7 447.4 241.7 446.5 242.7 445.6 243.7 444.8 244.7 443.9 245.8 443.1 246.8 442.3 247.8 441.5 248.8 440.8 249.9 440.1 250.9 439.5 251.9 439.0 252.9 438.5 253.9 438.1 255.0 437.7 256.0 437.3 257.0 436.9 258.0 436.6 259.1 436.2 260.1 435.9 261.1 435.5 262.1 435.1 263.1 434.7 264.2 434.3 265.2 433.9 266.2 433.6 267.2 433.2 268.3 432.8 269.3 432.4 270.3 432.1 271.3 431.7 272.3 431.4 273.4 431.0 274.4 430.7 275.4 430.4 276.4 430.1 277.5 429.8 278.5 429.5 279.5 429.2 280.5 428.9 281.5 428.6 282.6 428.3 283.6 428.0 284.6 427.7 285.6 427.3 286.7 427.0 287.7 426.7 288.7 426.4 289.7 426.0 290.7 425.7 291.8 425.4 292.8 425.0 293.8 424.7 294.8 424.4 295.8 424.1 296.9 423.9 297.9 423.7 298.9 423.5 299.9 423.4 301.0 423.3 302.0 423.3 303.0 423.4 304.0 423.4 305.0 423.6 306.1 423.7 307.1 423.9 308.1 424.1 309.1 424.4 310.2 424.7 311.2 425.0 312.2 425.3 313.2 425.6 314.2 426.0 315.3 426.3 316.3 426.7 317.3 427.1 318.3 427.4 319.4 427.8 320.4 428.1 321.4 428.5 322.4 428.8 323.4 429.1 324.5 429.4 325.5 429.7 326.5 430.0 327.5 430.3 328.6 430.5 329.6 430.7 330.6 430.9 331.6 431.1 332.6 431.2 333.7 431.3 334.7 431.4 335.7 431.5 336.7 431.5 337.8 431.6 338.8 431.6 339.8 431.6 340.8 431.6 341.8 431.6 342.9 431.6 343.9 431.6 344.9 431.6 345.9 431.6 346.9 431.7 348.0 431.7 349.0 431.8 350.0 431.8 351.0 431.9 352.1 432.1 353.1 432.2 354.1 432.3 355.1 432.5 356.1 432.6 357.2 432.7 358.2 432.9 359.2 433.1 360.2 433.2 361.3 433.3 362.3 433.5 363.3 433.6 364.3 433.8 365.3 433.9 366.4 434.0 367.4 434.2 368.4 434.3 369.4 434.4 370.5 434.6 371.5 434.7 372.5 434.8 373.5 435.0 374.5 435.2 375.6 435.3 376.6 435.5 377.6 435.7 378.6 435.9 379.7 436.1 380.7 436.3 381.7 436.5 382.7 436.7 383.7 436.9 384.8 437.1 385.8 437.3 386.8 437.5 387.8 437.7 388.9 437.9 389.9 438.1 390.9 438.3 391.9 438.5 392.9 438.6 394.0 438.8 395.0 438.9 396.0 439.0 397.0 439.1 398.0 439.2 399.1 439.3 400.1 439.3 401.1 439.3 402.1 439.3 403.2 439.3 404.2 439.3 405.2 439.2 406.2 439.1 407.2 439.0 408.3 438.9 409.3 438.7 410.3 438.5 411.3 438.3 412.4 438.1 413.4 437.9 414.4 437.7 415.4 437.5 416.4 437.3 417.5 437.0 418.5 436.8 419.5 436.6 420.5 436.4 421.6 436.2 422.6 436.1 423.6 435.9 424.6 435.8 425.6 435.7 426.7 435.5 427.7 435.4 428.7 435.3 429.7 435.2" fill="none" stroke="rgb(35,170,35)" stroke-width="2.6"/>
<path d="M56.7 433.0 57.7 432.8 58.7 432.5 59.8 432.2 60.8 432.0 61.8 431.8 62.8 431.6 63.9 431.4 64.9 431.3 65.9 431.2 66.9 431.1 67.9 431.1 69.0 431.2 70.0 431.2 71.0 431.3 72.0 431.5 73.1 431.6 74.1 431.7 75.1 431.9 76.1 432.0 77.1 432.1 78.2 432.2 79.2 432.2 80.2 432.2 81.2 432.2 82.2 432.1 83.3 432.1 84.3 432.0 85.3 432.0 86.3 432.0 87.4 432.0 88.4 432.1 89.4 432.2 90.4 432.3 91.4 432.6 92.5 432.9 93.5 433.3 94.5 433.8 95.5 434.3 96.6 435.0 97.6 435.8 98.6 436.6 99.6 437.5 100.6 438.4 101.7 439.3 102.7 440.1 103.7 440.7 104.7 441.2 105.8 441.5 106.8 441.5 107.8 441.1 108.8 440.0 109.8 438.0 110.9 434.9 111.9 430.6 112.9 425.5 113.9 420.4 115.0 416.3 116.0 414.3 117.0 414.9 118.0 417.8 119.0 422.2 120.1 426.8 121.1 431.0 122.1 434.4 123.1 436.8 124.2 438.4 125.2 439.2 126.2 439.1 127.2 438.1 128.2 436.5 129.3 434.4 130.3 431.9 131.3 429.3 132.3 426.8 133.4 424.4 134.4 422.2 135.4 420.2 136.4 418.6 137.4 417.4 138.5 416.6 139.5 416.4 140.5 416.7 141.5 417.4 142.5 418.6 143.6 420.1 144.6 422.0 145.6 424.2 146.6 426.6 147.7 429.3 148.7 432.2 149.7 435.1 150.7 437.9 151.7 440.6 152.8 443.0 153.8 445.1 154.8 446.7 155.8 447.7 156.9 448.1 157.9 448.1 158.9 447.7 159.9 447.0 160.9 446.2 162.0 445.5 163.0 444.7 164.0 443.9 165.0 443.1 166.1 442.4 167.1 441.6 168.1 440.8 169.1 440.2 170.1 439.7 171.2 439.3 172.2 439.2 173.2 439.2 174.2 439.3 175.3 439.6 176.3 439.9 177.3 440.3 178.3 440.8 179.3 441.3 180.4 441.8 181.4 442.3 182.4 442.9 183.4 443.5 184.4 444.1 185.5 444.7 186.5 445.4 187.5 446.1 188.5 446.8 189.6 447.5 190.6 448.2 191.6 449.0 192.6 449.7 193.6 450.4 194.7 451.2 195.7 451.9 196.7 452.6 197.7 453.3 198.8 453.9 199.8 454.5 200.8 455.1 201.8 455.6 202.8 456.0 203.9 456.4 204.9 456.8 205.9 457.0 206.9 457.3 208.0 457.4 209.0 457.6 210.0 457.7 211.0 457.7 212.0 457.8 213.1 457.8 214.1 457.9 215.1 457.9 216.1 457.9 217.2 457.9 218.2 458.0 219.2 458.0 220.2 458.0 221.2 458.1 222.3 458.1 223.3 458.1 224.3 458.1 225.3 458.0 226.4 458.0 227.4 457.9 228.4 457.8 229.4 457.6 230.4 457.4 231.5 457.2 232.5 456.9 233.5 456.6 234.5 456.2 235.6 455.8 236.6 455.3 237.6 454.8 238.6 454.3 239.6 453.7 240.7 453.0 241.7 452.3 242.7 451.6 243.7 450.8 244.7 450.0 245.8 449.3 246.8 448.5 247.8 447.7 248.8 446.9 249.9 446.2 250.9 445.5 251.9 444.8 252.9 444.2 253.9 443.5 255.0 442.9 256.0 442.3 257.0 441.7 258.0 441.1 259.1 440.5 260.1 439.8 261.1 439.2 262.1 438.5 263.1 437.8 264.2 437.1 265.2 436.4 266.2 435.7 267.2 435.0 268.3 434.3 269.3 433.7 270.3 433.0 271.3 432.4 272.3 431.8 273.4 431.3 274.4 430.7 275.4 430.2 276.4 429.6 277.5 429.1 278.5 428.7 279.5 428.2 280.5 427.7 281.5 427.2 282.6 426.8 283.6 426.4 284.6 425.9 285.6 425.5 286.7 425.1 287.7 424.7 288.7 424.3 289.7 423.9 290.7 423.5 291.8 423.1 292.8 422.7 293.8 422.3 294.8 422.0 295.8 421.7 296.9 421.4 297.9 421.2 298.9 421.0 299.9 420.9 301.0 420.8 302.0 420.7 303.0 420.8 304.0 420.8 305.0 421.0 306.1 421.1 307.1 421.3 308.1 421.5 309.1 421.8 310.2 422.1 311.2 422.4 312.2 422.8 313.2 423.1 314.2 423.5 315.3 423.9 316.3 424.3 317.3 424.7 318.3 425.1 319.4 425.5 320.4 426.0 321.4 426.4 322.4 426.8 323.4 427.2 324.5 427.6 325.5 428.0 326.5 428.3 327.5 428.7 328.6 429.0 329.6 429.3 330.6 429.6 331.6 429.9 332.6 430.1 333.7 430.3 334.7 430.5 335.7 430.7 336.7 430.8 337.8 430.9 338.8 431.0 339.8 431.1 340.8 431.1 341.8 431.2 342.9 431.2 343.9 431.2 344.9 431.2 345.9 431.2 346.9 431.2 348.0 431.3 349.0 431.3 350.0 431.3 351.0 431.3 352.1 431.4 353.1 431.4 354.1 431.4 355.1 431.5 356.1 431.5 357.2 431.5 358.2 431.5 359.2 431.5 360.2 431.5 361.3 431.5 362.3 431.5 363.3 431.4 364.3 431.4 365.3 431.4 366.4 431.3 367.4 431.3 368.4 431.2 369.4 431.2 370.5 431.2 371.5 431.2 372.5 431.2 373.5 431.2 374.5 431.2 375.6 431.2 376.6 431.2 377.6 431.3 378.6 431.4 379.7 431.5 380.7 431.6 381.7 431.7 382.7 431.8 383.7 432.0 384.8 432.1 385.8 432.3 386.8 432.5 387.8 432.6 388.9 432.8 389.9 433.0 390.9 433.1 391.9 433.3 392.9 433.5 394.0 433.6 395.0 433.8 396.0 433.9 397.0 434.0 398.0 434.1 399.1 434.2 400.1 434.3 401.1 434.4 402.1 434.4 403.2 434.4 404.2 434.5 405.2 434.4 406.2 434.4 407.2 434.4 408.3 434.3 409.3 434.2 410.3 434.1 411.3 434.0 412.4 433.8 413.4 433.7 414.4 433.5 415.4 433.4 416.4 433.2 417.5 433.0 418.5 432.9 419.5 432.7 420.5 432.6 421.6 432.5 422.6 432.4 423.6 432.3 424.6 432.2 425.6 432.1 426.7 432.0 427.7 432.0 428.7 431.9 429.7 431.8" fill="none" stroke="rgb(35,170,35)" stroke-width="2.6" stroke-dasharray="8 6.5"/>
<path d="M56.7 438.0 57.7 437.7 58.7 437.4 59.8 437.2 60.8 436.9 61.8 436.7 62.8 436.5 63.9 436.4 64.9 436.2 65.9 436.1 66.9 436.1 67.9 436.1 69.0 436.1 70.0 436.2 71.0 436.3 72.0 436.4 73.1 436.5 74.1 436.7 75.1 436.8 76.1 436.9 77.1 437.0 78.2 437.1 79.2 437.1 80.2 437.1 81.2 437.1 82.2 437.1 83.3 437.0 84.3 437.0 85.3 436.9 86.3 436.9 87.4 436.9 88.4 437.0 89.4 437.1 90.4 437.3 91.4 437.5 92.5 437.8 93.5 438.2 94.5 438.7 95.5 439.3 96.6 439.9 97.6 440.7 98.6 441.6 99.6 442.5 100.6 443.4 101.7 444.2 102.7 445.0 103.7 445.7 104.7 446.2 105.8 446.6 106.8 446.7 107.8 446.6 108.8 446.2 109.8 445.6 110.9 444.5 111.9 442.9 112.9 440.7 113.9 437.9 115.0 434.9 116.0 432.0 117.0 429.9 118.0 429.2 119.0 429.9 120.1 432.0 121.1 434.8 122.1 437.8 123.1 440.5 124.2 442.5 125.2 443.7 126.2 443.8 127.2 443.0 128.2 441.4 129.3 439.3 130.3 436.9 131.3 434.3 132.3 431.7 133.4 429.3 134.4 427.1 135.4 425.1 136.4 423.5 137.4 422.3 138.5 421.5 139.5 421.3 140.5 421.6 141.5 422.3 142.5 423.4 143.6 424.9 144.6 426.8 145.6 428.9 146.6 431.3 147.7 434.0 148.7 436.7 149.7 439.6 150.7 442.4 151.7 445.0 152.8 447.3 153.8 449.3 154.8 450.8 155.8 451.7 156.9 452.1 157.9 451.9 158.9 451.4 159.9 450.7 160.9 450.0 162.0 449.2 163.0 448.5 164.0 447.9 165.0 447.3 166.1 446.7 167.1 446.2 168.1 445.8 169.1 445.6 170.1 445.5 171.2 445.6 172.2 446.0 173.2 446.6 174.2 447.3 175.3 448.2 176.3 449.1 177.3 450.2 178.3 451.2 179.3 452.2 180.4 453.2 181.4 454.2 182.4 455.2 183.4 456.2 184.4 457.1 185.5 457.9 186.5 458.7 187.5 459.5 188.5 460.2 189.6 460.9 190.6 461.5 191.6 462.1 192.6 462.7 193.6 463.2 194.7 463.7 195.7 464.1 196.7 464.5 197.7 464.9 198.8 465.2 199.8 465.6 200.8 465.8 201.8 466.1 202.8 466.3 203.9 466.4 204.9 466.5 205.9 466.5 206.9 466.6 208.0 466.5 209.0 466.5 210.0 466.4 211.0 466.3 212.0 466.2 213.1 466.1 214.1 466.0 215.1 465.9 216.1 465.8 217.2 465.7 218.2 465.6 219.2 465.5 220.2 465.4 221.2 465.3 222.3 465.2 223.3 465.0 224.3 464.9 225.3 464.7 226.4 464.5 227.4 464.3 228.4 464.1 229.4 463.8 230.4 463.5 231.5 463.2 232.5 462.8 233.5 462.4 234.5 461.9 235.6 461.4 236.6 460.9 237.6 460.3 238.6 459.7 239.6 459.0 240.7 458.3 241.7 457.6 242.7 456.8 243.7 456.0 244.7 455.2 245.8 454.4 246.8 453.6 247.8 452.8 248.8 452.0 249.9 451.2 250.9 450.5 251.9 449.8 252.9 449.2 253.9 448.5 255.0 447.9 256.0 447.3 257.0 446.7 258.0 446.0 259.1 445.4 260.1 444.8 261.1 444.1 262.1 443.4 263.1 442.7 264.2 442.0 265.2 441.3 266.2 440.6 267.2 439.9 268.3 439.2 269.3 438.6 270.3 437.9 271.3 437.3 272.3 436.7 273.4 436.1 274.4 435.5 275.4 435.0 276.4 434.4 277.5 433.9 278.5 433.4 279.5 432.9 280.5 432.4 281.5 431.9 282.6 431.4 283.6 431.0 284.6 430.5 285.6 430.0 286.7 429.6 287.7 429.1 288.7 428.6 289.7 428.2 290.7 427.7 291.8 427.2 292.8 426.8 293.8 426.3 294.8 425.9 295.8 425.5 296.9 425.1 297.9 424.8 298.9 424.5 299.9 424.3 301.0 424.1 302.0 423.9 303.0 423.8 304.0 423.7 305.0 423.7 306.1 423.7 307.1 423.7 308.1 423.8 309.1 423.9 310.2 424.0 311.2 424.2 312.2 424.4 313.2 424.6 314.2 424.8 315.3 425.0 316.3 425.2 317.3 425.4 318.3 425.7 319.4 425.9 320.4 426.2 321.4 426.4 322.4 426.7 323.4 426.9 324.5 427.2 325.5 427.4 326.5 427.7 327.5 427.9 328.6 428.1 329.6 428.3 330.6 428.5 331.6 428.7 332.6 428.9 333.7 429.0 334.7 429.2 335.7 429.3 336.7 429.4 337.8 429.5 338.8 429.6 339.8 429.7 340.8 429.8 341.8 429.8 342.9 429.9 343.9 430.0 344.9 430.1 345.9 430.2 346.9 430.3 348.0 430.5 349.0 430.6 350.0 430.8 351.0 430.9 352.1 431.1 353.1 431.3 354.1 431.5 355.1 431.6 356.1 431.8 357.2 432.0 358.2 432.2 359.2 432.4 360.2 432.5 361.3 432.7 362.3 432.8 363.3 432.9 364.3 433.0 365.3 433.2 366.4 433.3 367.4 433.4 368.4 433.5 369.4 433.6 370.5 433.6 371.5 433.7 372.5 433.8 373.5 433.9 374.5 434.0 375.6 434.1 376.6 434.3 377.6 434.4 378.6 434.5 379.7 434.6 380.7 434.8 381.7 434.9 382.7 435.1 383.7 435.2 384.8 435.4 385.8 435.5 386.8 435.7 387.8 435.8 388.9 436.0 389.9 436.1 390.9 436.2 391.9 436.4 392.9 436.5 394.0 436.6 395.0 436.7 396.0 436.7 397.0 436.8 398.0 436.8 399.1 436.9 400.1 436.9 401.1 436.9 402.1 436.9 403.2 436.9 404.2 436.8 405.2 436.8 406.2 436.7 407.2 436.6 408.3 436.5 409.3 436.4 410.3 436.2 411.3 436.1 412.4 435.9 413.4 435.8 414.4 435.6 415.4 435.5 416.4 435.3 417.5 435.2 418.5 435.1 419.5 434.9 420.5 434.8 421.6 434.8 422.6 434.7 423.6 434.7 424.6 434.6 425.6 434.6 426.7 434.6 427.7 434.6 428.7 434.6 429.7 434.6" fill="none" stroke="rgb(35,170,35)" stroke-width="2.6" stroke-dasharray="2.1 1.6"/>
<path d="M56.7 435.8 57.7 435.6 58.7 435.3 59.8 435.1 60.8 434.8 61.8 434.6 62.8 434.4 63.9 434.2 64.9 434.1 65.9 434.0 66.9 433.9 67.9 433.9 69.0 434.0 70.0 434.1 71.0 434.2 72.0 434.3 73.1 434.4 74.1 434.6 75.1 434.7 76.1 434.8 77.1 434.9 78.2 435.0 79.2 435.0 80.2 435.0 81.2 435.0 82.2 434.9 83.3 434.9 84.3 434.9 85.3 434.8 86.3 434.8 87.4 434.8 88.4 434.9 89.4 435.0 90.4 435.2 91.4 435.4 92.5 435.7 93.5 436.1 94.5 436.6 95.5 437.2 96.6 437.8 97.6 438.6 98.6 439.4 99.6 440.3 100.6 441.2 101.7 442.1 102.7 442.9 103.7 443.5 104.7 443.9 105.8 444.0 106.8 443.4 107.8 442.2 108.8 439.8 109.8 436.5 110.9 432.3 111.9 428.0 112.9 424.5 113.9 422.5 115.0 422.5 116.0 424.2 117.0 427.1 118.0 430.4 119.0 433.4 120.1 436.0 121.1 438.0 122.1 439.6 123.1 440.9 124.2 441.8 125.2 442.2 126.2 442.0 127.2 441.0 128.2 439.3 129.3 437.2 130.3 434.7 131.3 432.2 132.3 429.6 133.4 427.2 134.4 425.0 135.4 423.0 136.4 421.4 137.4 420.2 138.5 419.4 139.5 419.2 140.5 419.5 141.5 420.2 142.5 421.3 143.6 422.8 144.6 424.6 145.6 426.7 146.6 429.1 147.7 431.7 148.7 434.5 149.7 437.3 150.7 440.0 151.7 442.6 152.8 444.9 153.8 446.8 154.8 448.2 155.8 449.0 156.9 449.3 157.9 449.0 158.9 448.3 159.9 447.5 160.9 446.5 162.0 445.5 163.0 444.6 164.0 443.7 165.0 442.7 166.1 441.8 167.1 441.0 168.1 440.2 169.1 439.5 170.1 439.1 171.2 438.8 172.2 438.7 173.2 438.9 174.2 439.2 175.3 439.6 176.3 440.2 177.3 440.8 178.3 441.5 179.3 442.3 180.4 443.0 181.4 443.8 182.4 444.6 183.4 445.5 184.4 446.3 185.5 447.2 186.5 448.1 187.5 448.9 188.5 449.8 189.6 450.7 190.6 451.6 191.6 452.5 192.6 453.3 193.6 454.2 194.7 455.0 195.7 455.8 196.7 456.6 197.7 457.3 198.8 458.0 199.8 458.7 200.8 459.3 201.8 459.8 202.8 460.3 203.9 460.7 204.9 461.0 205.9 461.2 206.9 461.4 208.0 461.5 209.0 461.6 210.0 461.6 211.0 461.6 212.0 461.6 213.1 461.5 214.1 461.5 215.1 461.4 216.1 461.3 217.2 461.2 218.2 461.2 219.2 461.1 220.2 461.0 221.2 460.9 222.3 460.9 223.3 460.8 224.3 460.7 225.3 460.6 226.4 460.4 227.4 460.3 228.4 460.1 229.4 459.9 230.4 459.7 231.5 459.4 232.5 459.1 233.5 458.8 234.5 458.4 235.6 458.0 236.6 457.6 237.6 457.1 238.6 456.6 239.6 456.0 240.7 455.4 241.7 454.7 242.7 454.0 243.7 453.3 244.7 452.5 245.8 451.8 246.8 451.0 247.8 450.3 248.8 449.5 249.9 448.8 250.9 448.2 251.9 447.5 252.9 446.9 253.9 446.3 255.0 445.8 256.0 445.2 257.0 444.6 258.0 444.1 259.1 443.5 260.1 442.9 261.1 442.3 262.1 441.7 263.1 441.0 264.2 440.4 265.2 439.8 266.2 439.2 267.2 438.6 268.3 438.0 269.3 437.5 270.3 436.9 271.3 436.4 272.3 436.0 273.4 435.6 274.4 435.2 275.4 434.8 276.4 434.4 277.5 434.1 278.5 433.8 279.5 433.5 280.5 433.3 281.5 433.0 282.6 432.8 283.6 432.6 284.6 432.4 285.6 432.2 286.7 432.0 287.7 431.8 288.7 431.7 289.7 431.5 290.7 431.3 291.8 431.1 292.8 430.9 293.8 430.8 294.8 430.6 295.8 430.4 296.9 430.3 297.9 430.2 298.9 430.1 299.9 430.0 301.0 430.0 302.0 429.9 303.0 429.9 304.0 430.0 305.0 430.0 306.1 430.0 307.1 430.1 308.1 430.2 309.1 430.2 310.2 430.3 311.2 430.3 312.2 430.4 313.2 430.5 314.2 430.5 315.3 430.5 316.3 430.6 317.3 430.6 318.3 430.6 319.4 430.6 320.4 430.6 321.4 430.6 322.4 430.6 323.4 430.5 324.5 430.5 325.5 430.4 326.5 430.4 327.5 430.3 328.6 430.3 329.6 430.2 330.6 430.1 331.6 430.1 332.6 430.0 333.7 429.9 334.7 429.8 335.7 429.7 336.7 429.6 337.8 429.5 338.8 429.4 339.8 429.3 340.8 429.2 341.8 429.2 342.9 429.1 343.9 429.0 344.9 429.0 345.9 429.0 346.9 429.0 348.0 429.1 349.0 429.1 350.0 429.2 351.0 429.3 352.1 429.4 353.1 429.6 354.1 429.7 355.1 429.8 356.1 430.0 357.2 430.2 358.2 430.3 359.2 430.5 360.2 430.6 361.3 430.7 362.3 430.9 363.3 431.0 364.3 431.1 365.3 431.2 366.4 431.4 367.4 431.5 368.4 431.6 369.4 431.7 370.5 431.8 371.5 432.0 372.5 432.1 373.5 432.2 374.5 432.3 375.6 432.5 376.6 432.7 377.6 432.8 378.6 433.0 379.7 433.2 380.7 433.4 381.7 433.6 382.7 433.8 383.7 434.0 384.8 434.3 385.8 434.5 386.8 434.7 387.8 434.9 388.9 435.2 389.9 435.4 390.9 435.6 391.9 435.8 392.9 436.0 394.0 436.2 395.0 436.3 396.0 436.5 397.0 436.6 398.0 436.8 399.1 436.9 400.1 437.0 401.1 437.1 402.1 437.1 403.2 437.2 404.2 437.2 405.2 437.2 406.2 437.2 407.2 437.1 408.3 437.1 409.3 437.0 410.3 436.9 411.3 436.8 412.4 436.6 413.4 436.5 414.4 436.3 415.4 436.2 416.4 436.0 417.5 435.9 418.5 435.7 419.5 435.6 420.5 435.4 421.6 435.3 422.6 435.2 423.6 435.1 424.6 435.0 425.6 434.9 426.7 434.9 427.7 434.8 428.7 434.7 429.7 434.6" fill="none" stroke="rgb(35,170,35)" stroke-width="2.6" stroke-dasharray="7.3 1.8 2.7 1.8"/>
<path d="M56.7 427.3 57.7 426.7 58.7 426.1 59.8 425.6 60.8 425.1 61.8 424.6 62.8 424.2 63.9 423.8 64.9 423.6 65.9 423.4 66.9 423.3 67.9 423.4 69.0 423.5 70.0 423.8 71.0 424.1 72.0 424.5 73.1 424.9 74.1 425.3 75.1 425.6 76.1 426.0 77.1 426.3 78.2 426.5 79.2 426.7 80.2 426.7 81.2 426.6 82.2 426.4 83.3 426.1 84.3 425.7 85.3 425.1 86.3 424.5 87.4 423.7 88.4 422.8 89.4 422.0 90.4 421.2 91.4 420.5 92.5 420.0 93.5 419.6 94.5 419.6 95.5 420.0 96.6 421.2 97.6 423.3 98.6 426.5 99.6 429.5 100.6 430.8 101.7 429.2 102.7 425.3 103.7 419.9 104.7 413.6 105.8 406.9 106.8 400.4 107.8 394.3 108.8 389.2 109.8 385.6 110.9 383.8 111.9 384.3 112.9 387.1 113.9 391.6 115.0 397.0 116.0 402.8 117.0 408.2 118.0 412.6 119.0 415.3 120.1 415.8 121.1 414.4 122.1 411.8 123.1 408.6 124.2 405.7 125.2 403.7 126.2 403.2 127.2 404.0 128.2 405.8 129.3 407.9 130.3 410.2 131.3 412.0 132.3 413.1 133.4 413.1 134.4 412.2 135.4 410.8 136.4 409.2 137.4 407.7 138.5 406.6 139.5 406.2 140.5 406.6 141.5 407.8 142.5 409.5 143.6 411.6 144.6 414.1 145.6 416.8 146.6 419.4 147.7 422.0 148.7 424.4 149.7 426.6 150.7 428.4 151.7 429.8 152.8 430.8 153.8 431.1 154.8 430.9 155.8 430.1 156.9 429.0 157.9 427.5 158.9 425.8 159.9 424.0 160.9 422.3 162.0 420.6 163.0 419.1 164.0 417.7 165.0 416.5 166.1 415.4 167.1 414.6 168.1 413.9 169.1 413.4 170.1 413.1 171.2 412.9 172.2 412.8 173.2 412.9 174.2 413.0 175.3 413.3 176.3 413.7 177.3 414.1 178.3 414.7 179.3 415.3 180.4 415.9 181.4 416.7 182.4 417.5 183.4 418.3 184.4 419.2 185.5 420.1 186.5 421.1 187.5 422.0 188.5 423.0 189.6 424.0 190.6 424.9 191.6 425.9 192.6 426.8 193.6 427.6 194.7 428.4 195.7 429.2 196.7 429.9 197.7 430.5 198.8 431.0 199.8 431.4 200.8 431.8 201.8 432.1 202.8 432.3 203.9 432.5 204.9 432.7 205.9 432.8 206.9 432.9 208.0 433.0 209.0 433.1 210.0 433.2 211.0 433.2 212.0 433.3 213.1 433.3 214.1 433.3 215.1 433.3 216.1 433.3 217.2 433.2 218.2 433.1 219.2 433.0 220.2 432.9 221.2 432.7 222.3 432.6 223.3 432.3 224.3 432.1 225.3 431.8 226.4 431.5 227.4 431.2 228.4 430.8 229.4 430.4 230.4 430.0 231.5 429.6 232.5 429.1 233.5 428.6 234.5 428.1 235.6 427.6 236.6 427.0 237.6 426.4 238.6 425.8 239.6 425.1 240.7 424.5 241.7 423.7 242.7 422.9 243.7 422.1 244.7 421.2 245.8 420.2 246.8 419.2 247.8 418.2 248.8 417.3 249.9 416.4 250.9 415.6 251.9 414.9 252.9 414.2 253.9 413.7 255.0 413.2 256.0 412.7 257.0 412.2 258.0 411.8 259.1 411.3 260.1 410.8 261.1 410.2 262.1 409.6 263.1 409.0 264.2 408.3 265.2 407.7 266.2 407.1 267.2 406.5 268.3 406.0 269.3 405.6 270.3 405.2 271.3 404.9 272.3 404.7 273.4 404.5 274.4 404.4 275.4 404.2 276.4 404.1 277.5 403.9 278.5 403.6 279.5 403.3 280.5 402.9 281.5 402.5 282.6 401.9 283.6 401.3 284.6 400.6 285.6 399.9 286.7 399.2 287.7 398.5 288.7 397.7 289.7 397.0 290.7 396.3 291.8 395.6 292.8 395.0 293.8 394.3 294.8 393.7 295.8 393.1 296.9 392.5 297.9 392.0 298.9 391.5 299.9 391.1 301.0 390.6 302.0 390.3 303.0 389.9 304.0 389.7 305.0 389.5 306.1 389.3 307.1 389.2 308.1 389.2 309.1 389.2 310.2 389.4 311.2 389.7 312.2 390.1 313.2 390.7 314.2 391.5 315.3 392.5 316.3 393.5 317.3 394.6 318.3 395.7 319.4 396.7 320.4 397.6 321.4 398.4 322.4 399.0 323.4 399.5 324.5 399.9 325.5 400.2 326.5 400.5 327.5 400.8 328.6 401.0 329.6 401.2 330.6 401.5 331.6 401.8 332.6 402.1 333.7 402.5 334.7 402.9 335.7 403.3 336.7 403.7 337.8 404.1 338.8 404.5 339.8 404.9 340.8 405.2 341.8 405.6 342.9 405.9 343.9 406.3 344.9 406.6 345.9 407.0 346.9 407.4 348.0 407.8 349.0 408.2 350.0 408.7 351.0 409.3 352.1 409.8 353.1 410.5 354.1 411.1 355.1 411.8 356.1 412.5 357.2 413.2 358.2 413.9 359.2 414.5 360.2 415.1 361.3 415.7 362.3 416.1 363.3 416.5 364.3 416.9 365.3 417.2 366.4 417.4 367.4 417.6 368.4 417.8 369.4 418.0 370.5 418.1 371.5 418.3 372.5 418.4 373.5 418.5 374.5 418.6 375.6 418.7 376.6 418.9 377.6 419.0 378.6 419.2 379.7 419.4 380.7 419.6 381.7 419.8 382.7 420.0 383.7 420.2 384.8 420.4 385.8 420.6 386.8 420.7 387.8 420.9 388.9 421.0 389.9 421.1 390.9 421.2 391.9 421.2 392.9 421.2 394.0 421.1 395.0 421.1 396.0 421.0 397.0 420.9 398.0 420.8 399.1 420.7 400.1 420.6 401.1 420.5 402.1 420.3 403.2 420.2 404.2 420.1 405.2 420.0 406.2 420.0 407.2 419.9 408.3 419.9 409.3 419.8 410.3 419.8 411.3 419.8 412.4 419.9 413.4 419.9 414.4 420.0 415.4 420.1 416.4 420.2 417.5 420.4 418.5 420.6 419.5 420.8 420.5 421.0 421.6 421.3 422.6 421.6 423.6 422.0 424.6 422.4 425.6 422.9 426.7 423.4 427.7 423.9 428.7 424.5 429.7 425.0" fill="none" stroke="rgb(224,6,42)" stroke-width="1.8"/>
<path d="M56.7 440.6 57.7 440.6 58.7 440.7 59.8 440.7 60.8 440.8 61.8 440.9 62.8 440.9 63.9 441.0 64.9 441.0 65.9 441.1 66.9 441.1 67.9 441.2 69.0 441.2 70.0 441.3 71.0 441.4 72.0 441.4 73.1 441.5 74.1 441.5 75.1 441.6 76.1 441.6 77.1 441.6 78.2 441.7 79.2 441.7 80.2 441.7 81.2 441.7 82.2 441.6 83.3 441.6 84.3 441.5 85.3 441.4 86.3 441.3 87.4 441.2 88.4 441.3 89.4 441.8 90.4 442.6 91.4 443.9 92.5 445.5 93.5 447.1 94.5 448.4 95.5 449.1 96.6 449.0 97.6 448.2 98.6 447.3 99.6 447.0 100.6 448.0 101.7 450.8 102.7 455.2 103.7 461.0 104.7 467.7 105.8 474.9 106.8 481.8 107.8 488.0 108.8 492.7 109.8 495.4 110.9 495.5 111.9 492.8 112.9 488.0 113.9 481.9 115.0 475.2 116.0 468.9 117.0 463.6 118.0 460.2 119.0 459.4 120.1 461.1 121.1 464.5 122.1 468.6 123.1 472.6 124.2 475.6 125.2 476.8 126.2 475.5 127.2 471.9 128.2 466.5 129.3 459.9 130.3 452.7 131.3 445.3 132.3 438.3 133.4 432.4 134.4 428.0 135.4 425.7 136.4 425.4 137.4 426.5 138.5 428.6 139.5 431.2 140.5 434.1 141.5 437.1 142.5 440.1 143.6 443.0 144.6 445.6 145.6 447.9 146.6 450.0 147.7 451.8 148.7 453.5 149.7 455.2 150.7 457.0 151.7 458.9 152.8 461.1 153.8 463.3 154.8 465.5 155.8 467.3 156.9 468.7 157.9 469.3 158.9 469.2 159.9 468.6 160.9 467.6 162.0 466.3 163.0 464.9 164.0 463.5 165.0 462.3 166.1 461.4 167.1 460.8 168.1 460.5 169.1 460.5 170.1 460.6 171.2 461.0 172.2 461.5 173.2 462.1 174.2 462.9 175.3 463.8 176.3 464.7 177.3 465.8 178.3 466.9 179.3 468.1 180.4 469.3 181.4 470.5 182.4 471.8 183.4 473.0 184.4 474.3 185.5 475.6 186.5 476.9 187.5 478.2 188.5 479.5 189.6 480.8 190.6 482.1 191.6 483.4 192.6 484.7 193.6 485.9 194.7 487.2 195.7 488.4 196.7 489.6 197.7 490.8 198.8 491.9 199.8 493.0 200.8 494.0 201.8 495.0 202.8 495.9 203.9 496.7 204.9 497.5 205.9 498.1 206.9 498.7 208.0 499.3 209.0 499.7 210.0 500.1 211.0 500.4 212.0 500.6 213.1 500.8 214.1 500.8 215.1 500.8 216.1 500.8 217.2 500.6 218.2 500.4 219.2 500.1 220.2 499.7 221.2 499.3 222.3 498.8 223.3 498.3 224.3 497.6 225.3 497.0 226.4 496.2 227.4 495.5 228.4 494.7 229.4 493.8 230.4 493.0 231.5 492.2 232.5 491.4 233.5 490.7 234.5 489.9 235.6 489.2 236.6 488.5 237.6 487.9 238.6 487.2 239.6 486.6 240.7 485.9 241.7 485.3 242.7 484.6 243.7 483.9 244.7 483.1 245.8 482.3 246.8 481.5 247.8 480.6 248.8 479.7 249.9 478.9 250.9 478.0 251.9 477.2 252.9 476.4 253.9 475.6 255.0 474.8 256.0 474.0 257.0 473.2 258.0 472.4 259.1 471.6 260.1 470.8 261.1 470.0 262.1 469.2 263.1 468.4 264.2 467.5 265.2 466.7 266.2 465.8 267.2 465.0 268.3 464.2 269.3 463.4 270.3 462.6 271.3 461.8 272.3 461.1 273.4 460.3 274.4 459.6 275.4 458.9 276.4 458.2 277.5 457.5 278.5 456.8 279.5 456.1 280.5 455.5 281.5 454.8 282.6 454.1 283.6 453.4 284.6 452.7 285.6 452.0 286.7 451.3 287.7 450.6 288.7 449.8 289.7 449.0 290.7 448.1 291.8 447.3 292.8 446.4 293.8 445.6 294.8 444.8 295.8 444.1 296.9 443.4 297.9 442.9 298.9 442.4 299.9 442.1 301.0 441.9 302.0 441.8 303.0 441.7 304.0 441.8 305.0 441.8 306.1 441.8 307.1 441.8 308.1 441.8 309.1 441.7 310.2 441.5 311.2 441.2 312.2 441.0 313.2 440.7 314.2 440.4 315.3 440.2 316.3 440.0 317.3 439.9 318.3 440.0 319.4 440.2 320.4 440.4 321.4 440.7 322.4 441.1 323.4 441.4 324.5 441.7 325.5 442.1 326.5 442.3 327.5 442.6 328.6 442.8 329.6 443.0 330.6 443.2 331.6 443.4 332.6 443.5 333.7 443.6 334.7 443.8 335.7 443.9 336.7 443.9 337.8 444.0 338.8 444.1 339.8 444.1 340.8 444.1 341.8 444.2 342.9 444.2 343.9 444.2 344.9 444.2 345.9 444.1 346.9 444.1 348.0 444.1 349.0 444.0 350.0 443.9 351.0 443.9 352.1 443.8 353.1 443.7 354.1 443.6 355.1 443.5 356.1 443.4 357.2 443.3 358.2 443.2 359.2 443.2 360.2 443.1 361.3 443.1 362.3 443.2 363.3 443.2 364.3 443.3 365.3 443.4 366.4 443.5 367.4 443.6 368.4 443.8 369.4 443.9 370.5 444.1 371.5 444.3 372.5 444.5 373.5 444.7 374.5 444.9 375.6 445.1 376.6 445.4 377.6 445.6 378.6 445.8 379.7 446.1 380.7 446.3 381.7 446.6 382.7 446.8 383.7 447.1 384.8 447.3 385.8 447.6 386.8 447.9 387.8 448.3 388.9 448.6 389.9 449.0 390.9 449.3 391.9 449.7 392.9 450.1 394.0 450.5 395.0 450.9 396.0 451.3 397.0 451.7 398.0 452.0 399.1 452.2 400.1 452.4 401.1 452.5 402.1 452.5 403.2 452.5 404.2 452.4 405.2 452.2 406.2 451.9 407.2 451.7 408.3 451.3 409.3 451.0 410.3 450.6 411.3 450.3 412.4 449.9 413.4 449.5 414.4 449.1 415.4 448.8 416.4 448.4 417.5 447.9 418.5 447.5 419.5 447.0 420.5 446.5 421.6 446.0 422.6 445.4 423.6 444.7 424.6 444.1 425.6 443.4 426.7 442.7 427.7 442.0 428.7 441.2 429.7 440.5" fill="none" stroke="rgb(224,6,42)" stroke-width="1.8"/>
<path d="M56.7 434.4 57.7 434.2 58.7 433.9 59.8 433.6 60.8 433.4 61.8 433.2 62.8 433.0 63.9 432.8 64.9 432.7 65.9 432.6 66.9 432.5 67.9 432.5 69.0 432.6 70.0 432.6 71.0 432.7 72.0 432.9 73.1 433.0 74.1 433.1 75.1 433.3 76.1 433.4 77.1 433.5 78.2 433.6 79.2 433.6 80.2 433.6 81.2 433.6 82.2 433.5 83.3 433.5 84.3 433.4 85.3 433.4 86.3 433.4 87.4 433.4 88.4 433.5 89.4 433.6 90.4 433.8 91.4 434.0 92.5 434.3 93.5 434.7 94.5 435.2 95.5 435.7 96.6 436.4 97.6 437.2 98.6 438.0 99.6 438.9 100.6 439.8 101.7 440.7 102.7 441.5 103.7 442.2 104.7 442.7 105.8 443.0 106.8 443.2 107.8 443.1 108.8 442.8 109.8 442.3 110.9 441.6 111.9 440.8 112.9 439.8 113.9 438.8 115.0 437.8 116.0 437.0 117.0 436.4 118.0 436.2 119.0 436.4 120.1 437.0 121.1 437.7 122.1 438.7 123.1 439.6 124.2 440.4 125.2 440.8 126.2 440.6 127.2 439.6 128.2 437.9 129.3 435.8 130.3 433.3 131.3 430.8 132.3 428.2 133.4 425.8 134.4 423.6 135.4 421.6 136.4 420.0 137.4 418.7 138.5 418.0 139.5 417.8 140.5 418.0 141.5 418.8 142.5 419.9 143.6 421.4 144.6 423.2 145.6 425.3 146.6 427.7 147.7 430.4 148.7 433.1 149.7 435.9 150.7 438.7 151.7 441.2 152.8 443.5 153.8 445.4 154.8 446.9 155.8 447.7 156.9 447.9 157.9 447.7 158.9 447.1 159.9 446.2 160.9 445.3 162.0 444.3 163.0 443.4 164.0 442.5 165.0 441.6 166.1 440.8 167.1 439.9 168.1 439.2 169.1 438.6 170.1 438.2 171.2 438.0 172.2 438.0 173.2 438.3 174.2 438.7 175.3 439.2 176.3 439.9 177.3 440.6 178.3 441.4 179.3 442.3 180.4 443.2 181.4 444.2 182.4 445.2 183.4 446.2 184.4 447.2 185.5 448.3 186.5 449.3 187.5 450.4 188.5 451.5 189.6 452.6 190.6 453.7 191.6 454.9 192.6 456.0 193.6 457.1 194.7 458.1 195.7 459.2 196.7 460.2 197.7 461.2 198.8 462.1 199.8 463.0 200.8 463.8 201.8 464.5 202.8 465.2 203.9 465.8 204.9 466.3 205.9 466.7 206.9 467.0 208.0 467.3 209.0 467.5 210.0 467.6 211.0 467.6 212.0 467.6 213.1 467.6 214.1 467.5 215.1 467.4 216.1 467.3 217.2 467.1 218.2 467.0 219.2 466.8 220.2 466.6 221.2 466.3 222.3 466.1 223.3 465.8 224.3 465.5 225.3 465.2 226.4 464.8 227.4 464.4 228.4 464.0 229.4 463.5 230.4 463.0 231.5 462.5 232.5 461.9 233.5 461.3 234.5 460.7 235.6 460.1 236.6 459.4 237.6 458.6 238.6 457.8 239.6 457.0 240.7 456.2 241.7 455.3 242.7 454.4 243.7 453.5 244.7 452.6 245.8 451.7 246.8 450.8 247.8 449.9 248.8 449.0 249.9 448.2 250.9 447.4 251.9 446.7 252.9 446.0 253.9 445.3 255.0 444.6 256.0 443.9 257.0 443.3 258.0 442.6 259.1 442.0 260.1 441.3 261.1 440.6 262.1 439.9 263.1 439.2 264.2 438.4 265.2 437.7 266.2 436.9 267.2 436.2 268.3 435.5 269.3 434.8 270.3 434.1 271.3 433.4 272.3 432.8 273.4 432.1 274.4 431.5 275.4 430.9 276.4 430.3 277.5 429.7 278.5 429.1 279.5 428.5 280.5 427.9 281.5 427.3 282.6 426.7 283.6 426.2 284.6 425.6 285.6 425.0 286.7 424.4 287.7 423.8 288.7 423.2 289.7 422.6 290.7 422.0 291.8 421.4 292.8 420.8 293.8 420.2 294.8 419.7 295.8 419.1 296.9 418.6 297.9 418.1 298.9 417.7 299.9 417.3 301.0 417.0 302.0 416.7 303.0 416.5 304.0 416.3 305.0 416.2 306.1 416.2 307.1 416.1 308.1 416.1 309.1 416.2 310.2 416.3 311.2 416.4 312.2 416.6 313.2 416.8 314.2 417.0 315.3 417.3 316.3 417.5 317.3 417.8 318.3 418.1 319.4 418.5 320.4 418.8 321.4 419.2 322.4 419.5 323.4 419.9 324.5 420.3 325.5 420.6 326.5 421.0 327.5 421.3 328.6 421.7 329.6 422.1 330.6 422.4 331.6 422.7 332.6 423.0 333.7 423.3 334.7 423.6 335.7 423.9 336.7 424.1 337.8 424.3 338.8 424.6 339.8 424.8 340.8 425.0 341.8 425.2 342.9 425.3 343.9 425.5 344.9 425.7 345.9 425.9 346.9 426.1 348.0 426.3 349.0 426.5 350.0 426.7 351.0 427.0 352.1 427.2 353.1 427.4 354.1 427.6 355.1 427.9 356.1 428.1 357.2 428.3 358.2 428.5 359.2 428.7 360.2 428.9 361.3 429.1 362.3 429.3 363.3 429.4 364.3 429.6 365.3 429.7 366.4 429.8 367.4 430.0 368.4 430.1 369.4 430.2 370.5 430.4 371.5 430.5 372.5 430.6 373.5 430.8 374.5 430.9 375.6 431.1 376.6 431.2 377.6 431.4 378.6 431.6 379.7 431.8 380.7 432.0 381.7 432.2 382.7 432.4 383.7 432.6 384.8 432.8 385.8 433.1 386.8 433.3 387.8 433.5 388.9 433.7 389.9 434.0 390.9 434.2 391.9 434.4 392.9 434.6 394.0 434.8 395.0 434.9 396.0 435.1 397.0 435.2 398.0 435.4 399.1 435.5 400.1 435.6 401.1 435.7 402.1 435.7 403.2 435.8 404.2 435.8 405.2 435.8 406.2 435.8 407.2 435.7 408.3 435.7 409.3 435.6 410.3 435.5 411.3 435.3 412.4 435.2 413.4 435.1 414.4 434.9 415.4 434.8 416.4 434.6 417.5 434.4 418.5 434.3 419.5 434.1 420.5 434.0 421.6 433.9 422.6 433.8 423.6 433.7 424.6 433.6 425.6 433.5 426.7 433.4 427.7 433.4 428.7 433.3 429.7 433.2" fill="none" stroke="rgb(224,6,42)" stroke-width="3"/>
</g>
<g clip-path="url(#cl2)">
<path d="M437.1 427.3 438.1 426.7 439.1 426.1 440.2 425.6 441.2 425.1 442.2 424.6 443.2 424.2 444.3 423.8 445.3 423.6 446.3 423.4 447.3 423.3 448.3 423.4 449.4 423.5 450.4 423.8 451.4 424.1 452.4 424.5 453.5 424.9 454.5 425.3 455.5 425.6 456.5 426.0 457.5 426.3 458.6 426.5 459.6 426.7 460.6 426.7 461.6 426.6 462.7 426.4 463.7 426.1 464.7 425.7 465.7 425.1 466.7 424.5 467.8 423.7 468.8 422.8 469.8 422.0 470.8 421.2 471.8 420.5 472.9 420.0 473.9 419.6 474.9 419.6 475.9 420.0 477.0 421.2 478.0 423.3 479.0 426.5 480.0 429.5 481.0 430.8 482.1 429.2 483.1 425.3 484.1 419.9 485.1 413.6 486.2 406.9 487.2 400.4 488.2 394.3 489.2 389.2 490.2 385.6 491.3 383.8 492.3 384.3 493.3 387.1 494.3 391.6 495.4 397.0 496.4 402.8 497.4 408.2 498.4 412.6 499.4 415.3 500.5 415.8 501.5 414.4 502.5 411.8 503.5 408.6 504.6 405.7 505.6 403.7 506.6 403.2 507.6 404.0 508.6 405.8 509.7 407.9 510.7 410.2 511.7 412.0 512.7 413.1 513.8 413.1 514.8 412.2 515.8 410.8 516.8 409.2 517.8 407.7 518.9 406.6 519.9 406.2 520.9 406.6 521.9 407.8 522.9 409.5 524.0 411.6 525.0 414.1 526.0 416.8 527.0 419.4 528.1 422.0 529.1 424.4 530.1 426.6 531.1 428.4 532.1 429.8 533.2 430.8 534.2 431.1 535.2 430.9 536.2 430.1 537.3 429.0 538.3 427.5 539.3 425.8 540.3 424.0 541.3 422.3 542.4 420.6 543.4 419.1 544.4 417.7 545.4 416.5 546.5 415.4 547.5 414.6 548.5 413.9 549.5 413.4 550.5 413.1 551.6 412.9 552.6 412.8 553.6 412.9 554.6 413.0 555.7 413.3 556.7 413.7 557.7 414.1 558.7 414.7 559.7 415.3 560.8 415.9 561.8 416.7 562.8 417.5 563.8 418.3 564.9 419.2 565.9 420.1 566.9 421.1 567.9 422.0 568.9 423.0 570.0 424.0 571.0 424.9 572.0 425.9 573.0 426.8 574.0 427.6 575.1 428.4 576.1 429.2 577.1 429.9 578.1 430.5 579.2 431.0 580.2 431.4 581.2 431.8 582.2 432.1 583.2 432.3 584.3 432.5 585.3 432.7 586.3 432.8 587.3 432.9 588.4 433.0 589.4 433.1 590.4 433.2 591.4 433.2 592.4 433.3 593.5 433.3 594.5 433.3 595.5 433.3 596.5 433.3 597.6 433.2 598.6 433.1 599.6 433.0 600.6 432.9 601.6 432.7 602.7 432.6 603.7 432.3 604.7 432.1 605.7 431.8 606.8 431.5 607.8 431.2 608.8 430.8 609.8 430.4 610.8 430.0 611.9 429.6 612.9 429.1 613.9 428.6 614.9 428.1 616.0 427.6 617.0 427.0 618.0 426.4 619.0 425.8 620.0 425.1 621.1 424.5 622.1 423.7 623.1 422.9 624.1 422.1 625.1 421.2 626.2 420.2 627.2 419.2 628.2 418.2 629.2 417.3 630.3 416.4 631.3 415.6 632.3 414.9 633.3 414.2 634.3 413.7 635.4 413.2 636.4 412.7 637.4 412.2 638.4 411.8 639.5 411.3 640.5 410.8 641.5 410.2 642.5 409.6 643.5 409.0 644.6 408.3 645.6 407.7 646.6 407.1 647.6 406.5 648.7 406.0 649.7 405.6 650.7 405.2 651.7 404.9 652.7 404.7 653.8 404.5 654.8 404.4 655.8 404.2 656.8 404.1 657.9 403.9 658.9 403.6 659.9 403.3 660.9 402.9 661.9 402.5 663.0 401.9 664.0 401.3 665.0 400.6 666.0 399.9 667.1 399.2 668.1 398.5 669.1 397.7 670.1 397.0 671.1 396.3 672.2 395.6 673.2 395.0 674.2 394.3 675.2 393.7 676.2 393.1 677.3 392.5 678.3 392.0 679.3 391.5 680.3 391.1 681.4 390.6 682.4 390.3 683.4 389.9 684.4 389.7 685.4 389.5 686.5 389.3 687.5 389.2 688.5 389.2 689.5 389.2 690.6 389.4 691.6 389.7 692.6 390.1 693.6 390.7 694.6 391.5 695.7 392.5 696.7 393.5 697.7 394.6 698.7 395.7 699.8 396.7 700.8 397.6 701.8 398.4 702.8 399.0 703.8 399.5 704.9 399.9 705.9 400.2 706.9 400.5 707.9 400.8 709.0 401.0 710.0 401.2 711.0 401.5 712.0 401.8 713.0 402.1 714.1 402.5 715.1 402.9 716.1 403.3 717.1 403.7 718.2 404.1 719.2 404.5 720.2 404.9 721.2 405.2 722.2 405.6 723.3 405.9 724.3 406.3 725.3 406.6 726.3 407.0 727.3 407.4 728.4 407.8 729.4 408.2 730.4 408.7 731.4 409.3 732.5 409.8 733.5 410.5 734.5 411.1 735.5 411.8 736.5 412.5 737.6 413.2 738.6 413.9 739.6 414.5 740.6 415.1 741.7 415.7 742.7 416.1 743.7 416.5 744.7 416.9 745.7 417.2 746.8 417.4 747.8 417.6 748.8 417.8 749.8 418.0 750.9 418.1 751.9 418.3 752.9 418.4 753.9 418.5 754.9 418.6 756.0 418.7 757.0 418.9 758.0 419.0 759.0 419.2 760.1 419.4 761.1 419.6 762.1 419.8 763.1 420.0 764.1 420.2 765.2 420.4 766.2 420.6 767.2 420.7 768.2 420.9 769.2 421.0 770.3 421.1 771.3 421.2 772.3 421.2 773.3 421.2 774.4 421.1 775.4 421.1 776.4 421.0 777.4 420.9 778.4 420.8 779.5 420.7 780.5 420.6 781.5 420.5 782.5 420.3 783.6 420.2 784.6 420.1 785.6 420.0 786.6 420.0 787.6 419.9 788.7 419.9 789.7 419.8 790.7 419.8 791.7 419.8 792.8 419.9 793.8 419.9 794.8 420.0 795.8 420.1 796.8 420.2 797.9 420.4 798.9 420.6 799.9 420.8 800.9 421.0 802.0 421.3 803.0 421.6 804.0 422.0 805.0 422.4 806.0 422.9 807.1 423.4 808.1 423.9 809.1 424.5 810.1 425.0 L810.1 440.5 809.1 441.2 808.1 442.0 807.1 442.7 806.0 443.4 805.0 444.1 804.0 444.7 803.0 445.4 802.0 446.0 800.9 446.5 799.9 447.0 798.9 447.5 797.9 447.9 796.8 448.4 795.8 448.8 794.8 449.1 793.8 449.5 792.8 449.9 791.7 450.3 790.7 450.6 789.7 451.0 788.7 451.3 787.6 451.7 786.6 451.9 785.6 452.2 784.6 452.4 783.6 452.5 782.5 452.5 781.5 452.5 780.5 452.4 779.5 452.2 778.4 452.0 777.4 451.7 776.4 451.3 775.4 450.9 774.4 450.5 773.3 450.1 772.3 449.7 771.3 449.3 770.3 449.0 769.2 448.6 768.2 448.3 767.2 447.9 766.2 447.6 765.2 447.3 764.1 447.1 763.1 446.8 762.1 446.6 761.1 446.3 760.1 446.1 759.0 445.8 758.0 445.6 757.0 445.4 756.0 445.1 754.9 444.9 753.9 444.7 752.9 444.5 751.9 444.3 750.9 444.1 749.8 443.9 748.8 443.8 747.8 443.6 746.8 443.5 745.7 443.4 744.7 443.3 743.7 443.2 742.7 443.2 741.7 443.1 740.6 443.1 739.6 443.2 738.6 443.2 737.6 443.3 736.5 443.4 735.5 443.5 734.5 443.6 733.5 443.7 732.5 443.8 731.4 443.9 730.4 443.9 729.4 444.0 728.4 444.1 727.3 444.1 726.3 444.1 725.3 444.2 724.3 444.2 723.3 444.2 722.2 444.2 721.2 444.1 720.2 444.1 719.2 444.1 718.2 444.0 717.1 443.9 716.1 443.9 715.1 443.8 714.1 443.6 713.0 443.5 712.0 443.4 711.0 443.2 710.0 443.0 709.0 442.8 707.9 442.6 706.9 442.3 705.9 442.1 704.9 441.7 703.8 441.4 702.8 441.1 701.8 440.7 700.8 440.4 699.8 440.2 698.7 440.0 697.7 439.9 696.7 440.0 695.7 440.2 694.6 440.4 693.6 440.7 692.6 441.0 691.6 441.2 690.6 441.5 689.5 441.7 688.5 441.8 687.5 441.8 686.5 441.8 685.4 441.8 684.4 441.8 683.4 441.7 682.4 441.8 681.4 441.9 680.3 442.1 679.3 442.4 678.3 442.9 677.3 443.4 676.2 444.1 675.2 444.8 674.2 445.6 673.2 446.4 672.2 447.3 671.1 448.1 670.1 449.0 669.1 449.8 668.1 450.6 667.1 451.3 666.0 452.0 665.0 452.7 664.0 453.4 663.0 454.1 661.9 454.8 660.9 455.5 659.9 456.1 658.9 456.8 657.9 457.5 656.8 458.2 655.8 458.9 654.8 459.6 653.8 460.3 652.7 461.1 651.7 461.8 650.7 462.6 649.7 463.4 648.7 464.2 647.6 465.0 646.6 465.8 645.6 466.7 644.6 467.5 643.5 468.4 642.5 469.2 641.5 470.0 640.5 470.8 639.5 471.6 638.4 472.4 637.4 473.2 636.4 474.0 635.4 474.8 634.3 475.6 633.3 476.4 632.3 477.2 631.3 478.0 630.3 478.9 629.2 479.7 628.2 480.6 627.2 481.5 626.2 482.3 625.1 483.1 624.1 483.9 623.1 484.6 622.1 485.3 621.1 485.9 620.0 486.6 619.0 487.2 618.0 487.9 617.0 488.5 616.0 489.2 614.9 489.9 613.9 490.7 612.9 491.4 611.9 492.2 610.8 493.0 609.8 493.8 608.8 494.7 607.8 495.5 606.8 496.2 605.7 497.0 604.7 497.6 603.7 498.3 602.7 498.8 601.6 499.3 600.6 499.7 599.6 500.1 598.6 500.4 597.6 500.6 596.5 500.8 595.5 500.8 594.5 500.8 593.5 500.8 592.4 500.6 591.4 500.4 590.4 500.1 589.4 499.7 588.4 499.3 587.3 498.7 586.3 498.1 585.3 497.5 584.3 496.7 583.2 495.9 582.2 495.0 581.2 494.0 580.2 493.0 579.2 491.9 578.1 490.8 577.1 489.6 576.1 488.4 575.1 487.2 574.0 485.9 573.0 484.7 572.0 483.4 571.0 482.1 570.0 480.8 568.9 479.5 567.9 478.2 566.9 476.9 565.9 475.6 564.9 474.3 563.8 473.0 562.8 471.8 561.8 470.5 560.8 469.3 559.7 468.1 558.7 466.9 557.7 465.8 556.7 464.7 555.7 463.8 554.6 462.9 553.6 462.1 552.6 461.5 551.6 461.0 550.5 460.6 549.5 460.5 548.5 460.5 547.5 460.8 546.5 461.4 545.4 462.3 544.4 463.5 543.4 464.9 542.4 466.3 541.3 467.6 540.3 468.6 539.3 469.2 538.3 469.3 537.3 468.7 536.2 467.3 535.2 465.5 534.2 463.3 533.2 461.1 532.1 458.9 531.1 457.0 530.1 455.2 529.1 453.5 528.1 451.8 527.0 450.0 526.0 447.9 525.0 445.6 524.0 443.0 522.9 440.1 521.9 437.1 520.9 434.1 519.9 431.2 518.9 428.6 517.8 426.5 516.8 425.4 515.8 425.7 514.8 428.0 513.8 432.4 512.7 438.3 511.7 445.3 510.7 452.7 509.7 459.9 508.6 466.5 507.6 471.9 506.6 475.5 505.6 476.8 504.6 475.6 503.5 472.6 502.5 468.6 501.5 464.5 500.5 461.1 499.4 459.4 498.4 460.2 497.4 463.6 496.4 468.9 495.4 475.2 494.3 481.9 493.3 488.0 492.3 492.8 491.3 495.5 490.2 495.4 489.2 492.7 488.2 488.0 487.2 481.8 486.2 474.9 485.1 467.7 484.1 461.0 483.1 455.2 482.1 450.8 481.0 448.0 480.0 447.0 479.0 447.3 478.0 448.2 477.0 449.0 475.9 449.1 474.9 448.4 473.9 447.1 472.9 445.5 471.8 443.9 470.8 442.6 469.8 441.8 468.8 441.3 467.8 441.2 466.7 441.3 465.7 441.4 464.7 441.5 463.7 441.6 462.7 441.6 461.6 441.7 460.6 441.7 459.6 441.7 458.6 441.7 457.5 441.6 456.5 441.6 455.5 441.6 454.5 441.5 453.5 441.5 452.4 441.4 451.4 441.4 450.4 441.3 449.4 441.2 448.3 441.2 447.3 441.1 446.3 441.1 445.3 441.0 444.3 441.0 443.2 440.9 442.2 440.9 441.2 440.8 440.2 440.7 439.1 440.7 438.1 440.6 437.1 440.6Z" fill="rgb(224,6,42)" fill-opacity="0.25" stroke="none"/>
<path d="M437.1 422.7 438.1 422.1 439.1 421.6 440.2 421.0 441.2 420.5 442.2 420.1 443.2 419.7 444.3 419.3 445.3 419.1 446.3 418.9 447.3 418.8 448.3 418.9 449.4 419.0 450.4 419.3 451.4 419.6 452.4 419.9 453.5 420.3 454.5 420.7 455.5 421.1 456.5 421.4 457.5 421.7 458.6 421.9 459.6 422.1 460.6 422.1 461.6 422.0 462.7 421.8 463.7 421.6 464.7 421.1 465.7 420.6 466.7 420.0 467.8 419.2 468.8 418.4 469.8 417.6 470.8 416.9 471.8 416.2 472.9 415.8 473.9 415.5 474.9 415.5 475.9 416.0 477.0 417.2 478.0 419.4 479.0 422.6 480.0 425.8 481.0 427.5 482.1 426.6 483.1 423.6 484.1 419.0 485.1 413.1 486.2 405.4 487.2 394.9 488.2 380.3 489.2 361.4 490.2 340.4 491.3 322.1 492.3 312.4 493.3 314.1 494.3 325.8 495.4 342.6 496.4 359.3 497.4 372.8 498.4 382.2 499.4 387.8 500.5 390.4 501.5 390.8 502.5 390.1 503.5 388.7 504.6 387.3 505.6 386.5 506.6 386.9 507.6 388.7 508.6 391.6 509.7 395.3 510.7 399.4 511.7 403.5 512.7 406.9 513.8 409.1 514.8 410.2 515.8 410.4 516.8 410.0 517.8 409.3 518.9 408.7 519.9 408.7 520.9 409.3 521.9 410.5 522.9 412.3 524.0 414.5 525.0 416.9 526.0 419.6 527.0 422.3 528.1 424.9 529.1 427.4 530.1 429.6 531.1 431.6 532.1 433.2 533.2 434.4 534.2 435.1 535.2 435.2 536.2 434.8 537.3 434.0 538.3 433.0 539.3 431.7 540.3 430.3 541.3 429.0 542.4 427.7 543.4 426.6 544.4 425.6 545.4 424.8 546.5 424.1 547.5 423.6 548.5 423.2 549.5 422.9 550.5 422.8 551.6 422.9 552.6 423.1 553.6 423.4 554.6 423.8 555.7 424.4 556.7 425.0 557.7 425.6 558.7 426.3 559.7 427.1 560.8 427.8 561.8 428.6 562.8 429.4 563.8 430.1 564.9 430.9 565.9 431.6 566.9 432.3 567.9 433.0 568.9 433.7 570.0 434.3 571.0 434.8 572.0 435.3 573.0 435.7 574.0 436.1 575.1 436.3 576.1 436.5 577.1 436.6 578.1 436.5 579.2 436.3 580.2 436.0 581.2 435.7 582.2 435.2 583.2 434.6 584.3 434.0 585.3 433.4 586.3 432.7 587.3 432.0 588.4 431.4 589.4 430.7 590.4 430.1 591.4 429.6 592.4 429.1 593.5 428.7 594.5 428.3 595.5 428.0 596.5 427.8 597.6 427.6 598.6 427.5 599.6 427.5 600.6 427.5 601.6 427.6 602.7 427.7 603.7 427.8 604.7 427.9 605.7 428.0 606.8 428.1 607.8 428.1 608.8 428.2 609.8 428.2 610.8 428.2 611.9 428.1 612.9 428.0 613.9 427.8 614.9 427.7 616.0 427.4 617.0 427.1 618.0 426.8 619.0 426.4 620.0 426.0 621.1 425.5 622.1 425.0 623.1 424.4 624.1 423.8 625.1 423.1 626.2 422.3 627.2 421.5 628.2 420.7 629.2 419.9 630.3 419.1 631.3 418.5 632.3 418.0 633.3 417.5 634.3 417.1 635.4 416.7 636.4 416.4 637.4 416.1 638.4 415.8 639.5 415.4 640.5 415.1 641.5 414.7 642.5 414.2 643.5 413.7 644.6 413.3 645.6 412.8 646.6 412.3 647.6 411.9 648.7 411.6 649.7 411.2 650.7 411.0 651.7 410.9 652.7 410.8 653.8 410.7 654.8 410.7 655.8 410.7 656.8 410.7 657.9 410.6 658.9 410.5 659.9 410.3 660.9 410.0 661.9 409.7 663.0 409.3 664.0 408.8 665.0 408.2 666.0 407.6 667.1 407.0 668.1 406.4 669.1 405.7 670.1 405.1 671.1 404.4 672.2 403.8 673.2 403.2 674.2 402.6 675.2 402.0 676.2 401.4 677.3 400.8 678.3 400.3 679.3 399.7 680.3 399.2 681.4 398.8 682.4 398.3 683.4 397.9 684.4 397.6 685.4 397.3 686.5 397.0 687.5 396.8 688.5 396.6 689.5 396.5 690.6 396.5 691.6 396.7 692.6 396.9 693.6 397.3 694.6 397.9 695.7 398.6 696.7 399.4 697.7 400.2 698.7 401.0 699.8 401.8 700.8 402.5 701.8 403.0 702.8 403.3 703.8 403.6 704.9 403.8 705.9 403.9 706.9 403.9 707.9 403.9 709.0 403.9 710.0 403.9 711.0 404.0 712.0 404.0 713.0 404.1 714.1 404.3 715.1 404.4 716.1 404.6 717.1 404.8 718.2 405.0 719.2 405.2 720.2 405.3 721.2 405.5 722.2 405.7 723.3 405.9 724.3 406.1 725.3 406.3 726.3 406.5 727.3 406.8 728.4 407.1 729.4 407.4 730.4 407.9 731.4 408.3 732.5 408.8 733.5 409.4 734.5 410.0 735.5 410.7 736.5 411.4 737.6 412.1 738.6 412.8 739.6 413.4 740.6 414.0 741.7 414.6 742.7 415.1 743.7 415.6 744.7 416.0 745.7 416.4 746.8 416.8 747.8 417.1 748.8 417.4 749.8 417.7 750.9 417.9 751.9 418.2 752.9 418.4 753.9 418.7 754.9 418.9 756.0 419.2 757.0 419.4 758.0 419.7 759.0 420.0 760.1 420.3 761.1 420.6 762.1 420.9 763.1 421.2 764.1 421.6 765.2 421.9 766.2 422.1 767.2 422.4 768.2 422.6 769.2 422.9 770.3 423.0 771.3 423.2 772.3 423.3 773.3 423.3 774.4 423.4 775.4 423.4 776.4 423.4 777.4 423.3 778.4 423.3 779.5 423.2 780.5 423.1 781.5 423.1 782.5 423.0 783.6 422.9 784.6 422.8 785.6 422.8 786.6 422.7 787.6 422.7 788.7 422.7 789.7 422.6 790.7 422.6 791.7 422.7 792.8 422.7 793.8 422.7 794.8 422.8 795.8 422.9 796.8 423.0 797.9 423.2 798.9 423.3 799.9 423.5 800.9 423.8 802.0 424.0 803.0 424.3 804.0 424.7 805.0 425.1 806.0 425.5 807.1 426.0 808.1 426.5 809.1 427.0 810.1 427.6 L810.1 441.9 809.1 442.6 808.1 443.2 807.1 443.9 806.0 444.5 805.0 445.2 804.0 445.8 803.0 446.3 802.0 446.9 800.9 447.4 799.9 447.9 798.9 448.3 797.9 448.7 796.8 449.1 795.8 449.5 794.8 449.8 793.8 450.2 792.8 450.5 791.7 450.9 790.7 451.2 789.7 451.6 788.7 451.9 787.6 452.2 786.6 452.5 785.6 452.7 784.6 452.8 783.6 452.9 782.5 453.0 781.5 452.9 780.5 452.8 779.5 452.7 778.4 452.4 777.4 452.1 776.4 451.8 775.4 451.5 774.4 451.1 773.3 450.7 772.3 450.3 771.3 449.9 770.3 449.6 769.2 449.2 768.2 448.9 767.2 448.6 766.2 448.3 765.2 448.0 764.1 447.7 763.1 447.5 762.1 447.2 761.1 447.0 760.1 446.8 759.0 446.5 758.0 446.3 757.0 446.1 756.0 445.9 754.9 445.7 753.9 445.4 752.9 445.2 751.9 445.1 750.9 444.9 749.8 444.7 748.8 444.5 747.8 444.4 746.8 444.3 745.7 444.2 744.7 444.1 743.7 444.0 742.7 444.0 741.7 443.9 740.6 443.9 739.6 443.9 738.6 444.0 737.6 444.0 736.5 444.1 735.5 444.2 734.5 444.3 733.5 444.4 732.5 444.5 731.4 444.6 730.4 444.6 729.4 444.7 728.4 444.8 727.3 444.8 726.3 444.9 725.3 444.9 724.3 445.0 723.3 445.0 722.2 445.1 721.2 445.1 720.2 445.1 719.2 445.1 718.2 445.1 717.1 445.1 716.1 445.1 715.1 445.1 714.1 445.0 713.0 445.0 712.0 444.9 711.0 444.9 710.0 444.8 709.0 444.7 707.9 444.5 706.9 444.4 705.9 444.2 704.9 444.0 703.8 443.8 702.8 443.6 701.8 443.4 700.8 443.2 699.8 443.1 698.7 443.0 697.7 443.0 696.7 443.2 695.7 443.4 694.6 443.7 693.6 444.0 692.6 444.4 691.6 444.7 690.6 444.9 689.5 445.2 688.5 445.3 687.5 445.4 686.5 445.4 685.4 445.3 684.4 445.3 683.4 445.3 682.4 445.3 681.4 445.4 680.3 445.5 679.3 445.7 678.3 446.0 677.3 446.4 676.2 446.8 675.2 447.3 674.2 447.8 673.2 448.3 672.2 448.9 671.1 449.4 670.1 449.8 669.1 450.2 668.1 450.6 667.1 450.9 666.0 451.2 665.0 451.5 664.0 451.8 663.0 452.0 661.9 452.3 660.9 452.5 659.9 452.7 658.9 453.0 657.9 453.3 656.8 453.6 655.8 453.9 654.8 454.3 653.8 454.7 652.7 455.1 651.7 455.5 650.7 456.0 649.7 456.6 648.7 457.2 647.6 457.8 646.6 458.4 645.6 459.1 644.6 459.8 643.5 460.5 642.5 461.3 641.5 462.0 640.5 462.7 639.5 463.5 638.4 464.2 637.4 464.9 636.4 465.6 635.4 466.3 634.3 467.1 633.3 467.8 632.3 468.6 631.3 469.3 630.3 470.1 629.2 470.9 628.2 471.7 627.2 472.5 626.2 473.2 625.1 473.9 624.1 474.6 623.1 475.3 622.1 475.9 621.1 476.5 620.0 477.0 619.0 477.6 618.0 478.1 617.0 478.6 616.0 479.1 614.9 479.6 613.9 480.2 612.9 480.7 611.9 481.3 610.8 481.9 609.8 482.5 608.8 483.0 607.8 483.6 606.8 484.2 605.7 484.7 604.7 485.2 603.7 485.6 602.7 486.1 601.6 486.5 600.6 486.8 599.6 487.1 598.6 487.4 597.6 487.7 596.5 487.9 595.5 488.1 594.5 488.2 593.5 488.3 592.4 488.4 591.4 488.3 590.4 488.3 589.4 488.2 588.4 488.0 587.3 487.8 586.3 487.4 585.3 487.1 584.3 486.6 583.2 486.1 582.2 485.5 581.2 484.8 580.2 484.1 579.2 483.4 578.1 482.5 577.1 481.7 576.1 480.8 575.1 479.8 574.0 478.9 573.0 477.9 572.0 476.9 571.0 475.9 570.0 474.9 568.9 473.9 567.9 472.8 566.9 471.8 565.9 470.8 564.9 469.8 563.8 468.8 562.8 467.8 561.8 466.9 560.8 466.0 559.7 465.1 558.7 464.3 557.7 463.6 556.7 463.1 555.7 462.6 554.6 462.3 553.6 462.2 552.6 462.3 551.6 462.6 550.5 463.1 549.5 463.9 548.5 464.9 547.5 466.1 546.5 467.6 545.4 469.3 544.4 471.3 543.4 473.3 542.4 475.2 541.3 476.9 540.3 478.2 539.3 479.0 538.3 479.1 537.3 478.4 536.2 476.9 535.2 474.6 534.2 472.0 533.2 469.1 532.1 466.2 531.1 463.4 530.1 460.7 529.1 458.1 528.1 455.6 527.0 453.0 526.0 450.3 525.0 447.5 524.0 444.5 522.9 441.4 521.9 438.3 520.9 435.3 519.9 432.5 518.9 430.1 517.8 428.1 516.8 427.1 515.8 427.5 514.8 429.6 513.8 433.6 512.7 438.9 511.7 445.0 510.7 451.2 509.7 457.1 508.6 461.9 507.6 465.1 506.6 466.2 505.6 464.6 504.6 460.4 503.5 454.2 502.5 447.2 501.5 440.5 500.5 435.4 499.4 433.3 498.4 435.9 497.4 444.1 496.4 458.1 495.4 477.6 494.3 500.7 493.3 524.3 492.3 544.0 491.3 555.3 490.2 555.5 489.2 545.6 488.2 529.1 487.2 510.4 486.2 493.3 485.1 479.6 484.1 469.7 483.1 463.0 482.1 458.7 481.0 456.4 480.0 455.8 479.0 456.3 478.0 457.3 477.0 458.1 475.9 458.2 474.9 457.6 473.9 456.4 472.9 455.0 471.8 453.5 470.8 452.3 469.8 451.5 468.8 451.2 467.8 451.1 466.7 451.1 465.7 451.2 464.7 451.3 463.7 451.4 462.7 451.4 461.6 451.5 460.6 451.5 459.6 451.5 458.6 451.5 457.5 451.4 456.5 451.4 455.5 451.3 454.5 451.3 453.5 451.2 452.4 451.2 451.4 451.1 450.4 451.0 449.4 451.0 448.3 450.9 447.3 450.9 446.3 450.8 445.3 450.8 444.3 450.8 443.2 450.7 442.2 450.7 441.2 450.7 440.2 450.6 439.1 450.6 438.1 450.6 437.1 450.6Z" fill="rgb(10,145,195)" fill-opacity="0.1" stroke="none"/>
<path d="M437.1 427.3 438.1 426.7 439.1 426.1 440.2 425.6 441.2 425.1 442.2 424.6 443.2 424.2 444.3 423.8 445.3 423.6 446.3 423.4 447.3 423.3 448.3 423.4 449.4 423.5 450.4 423.8 451.4 424.1 452.4 424.5 453.5 424.9 454.5 425.3 455.5 425.6 456.5 426.0 457.5 426.3 458.6 426.5 459.6 426.7 460.6 426.7 461.6 426.6 462.7 426.4 463.7 426.1 464.7 425.7 465.7 425.1 466.7 424.5 467.8 423.7 468.8 422.8 469.8 422.0 470.8 421.2 471.8 420.5 472.9 420.0 473.9 419.7 474.9 419.7 475.9 420.1 477.0 421.3 478.0 423.6 479.0 426.9 480.0 430.1 481.0 431.7 482.1 430.6 483.1 427.3 484.1 422.4 485.1 416.6 486.2 410.2 487.2 403.7 488.2 397.3 489.2 391.4 490.2 386.5 491.3 382.8 492.3 380.7 493.3 380.0 494.3 379.8 495.4 379.6 496.4 378.6 497.4 376.5 498.4 372.8 499.4 367.5 500.5 360.8 501.5 353.7 502.5 347.8 503.5 344.0 504.6 343.3 505.6 346.0 506.6 352.2 507.6 360.9 508.6 370.8 509.7 380.6 510.7 389.0 511.7 395.0 512.7 397.9 513.8 397.2 514.8 393.5 515.8 388.1 516.8 382.4 517.8 377.9 518.9 376.0 519.9 377.5 520.9 382.1 521.9 388.9 522.9 396.8 524.0 404.7 525.0 411.9 526.0 417.9 527.0 422.8 528.1 426.7 529.1 429.9 530.1 432.5 531.1 434.6 532.1 436.2 533.2 437.3 534.2 438.0 535.2 438.0 536.2 437.6 537.3 436.7 538.3 435.6 539.3 434.3 540.3 432.9 541.3 431.5 542.4 430.3 543.4 429.2 544.4 428.2 545.4 427.3 546.5 426.7 547.5 426.1 548.5 425.8 549.5 425.6 550.5 425.5 551.6 425.5 552.6 425.7 553.6 426.1 554.6 426.5 555.7 427.0 556.7 427.6 557.7 428.3 558.7 429.0 559.7 429.7 560.8 430.5 561.8 431.3 562.8 432.0 563.8 432.8 564.9 433.6 565.9 434.3 566.9 435.1 567.9 435.8 568.9 436.5 570.0 437.1 571.0 437.7 572.0 438.3 573.0 438.8 574.0 439.2 575.1 439.6 576.1 439.9 577.1 440.2 578.1 440.3 579.2 440.4 580.2 440.4 581.2 440.3 582.2 440.1 583.2 439.9 584.3 439.6 585.3 439.3 586.3 439.0 587.3 438.7 588.4 438.3 589.4 438.0 590.4 437.7 591.4 437.4 592.4 437.1 593.5 436.8 594.5 436.5 595.5 436.3 596.5 436.0 597.6 435.8 598.6 435.5 599.6 435.3 600.6 435.0 601.6 434.8 602.7 434.5 603.7 434.3 604.7 434.0 605.7 433.7 606.8 433.4 607.8 433.1 608.8 432.8 609.8 432.5 610.8 432.1 611.9 431.8 612.9 431.4 613.9 431.0 614.9 430.6 616.0 430.2 617.0 429.8 618.0 429.3 619.0 428.8 620.0 428.3 621.1 427.8 622.1 427.2 623.1 426.5 624.1 425.9 625.1 425.1 626.2 424.3 627.2 423.5 628.2 422.6 629.2 421.8 630.3 421.1 631.3 420.5 632.3 419.9 633.3 419.4 634.3 419.1 635.4 418.7 636.4 418.4 637.4 418.1 638.4 417.8 639.5 417.4 640.5 417.1 641.5 416.7 642.5 416.2 643.5 415.8 644.6 415.3 645.6 414.8 646.6 414.4 647.6 414.0 648.7 413.6 649.7 413.3 650.7 413.1 651.7 413.0 652.7 412.9 653.8 412.9 654.8 412.9 655.8 412.9 656.8 412.9 657.9 412.8 658.9 412.8 659.9 412.6 660.9 412.3 661.9 412.0 663.0 411.6 664.0 411.1 665.0 410.5 666.0 409.9 667.1 409.3 668.1 408.7 669.1 408.0 670.1 407.3 671.1 406.7 672.2 406.0 673.2 405.4 674.2 404.8 675.2 404.1 676.2 403.5 677.3 402.9 678.3 402.2 679.3 401.6 680.3 401.0 681.4 400.3 682.4 399.6 683.4 398.9 684.4 398.1 685.4 397.3 686.5 396.4 687.5 395.5 688.5 394.5 689.5 393.5 690.6 392.4 691.6 391.4 692.6 390.4 693.6 389.5 694.6 388.7 695.7 388.0 696.7 387.3 697.7 386.8 698.7 386.3 699.8 385.9 700.8 385.6 701.8 385.3 702.8 385.2 703.8 385.1 704.9 385.3 705.9 385.6 706.9 386.2 707.9 387.0 709.0 388.0 710.0 389.2 711.0 390.6 712.0 392.2 713.0 394.0 714.1 395.7 715.1 397.6 716.1 399.3 717.1 401.1 718.2 402.7 719.2 404.3 720.2 405.7 721.2 406.9 722.2 408.1 723.3 409.1 724.3 410.0 725.3 410.9 726.3 411.6 727.3 412.3 728.4 413.0 729.4 413.6 730.4 414.2 731.4 414.8 732.5 415.5 733.5 416.2 734.5 416.9 735.5 417.6 736.5 418.3 737.6 419.0 738.6 419.7 739.6 420.3 740.6 420.9 741.7 421.4 742.7 421.8 743.7 422.2 744.7 422.6 745.7 422.9 746.8 423.1 747.8 423.3 748.8 423.5 749.8 423.7 750.9 423.8 751.9 424.0 752.9 424.1 753.9 424.2 754.9 424.3 756.0 424.4 757.0 424.5 758.0 424.7 759.0 424.9 760.1 425.0 761.1 425.2 762.1 425.4 763.1 425.6 764.1 425.8 765.2 426.0 766.2 426.2 767.2 426.4 768.2 426.5 769.2 426.7 770.3 426.8 771.3 426.8 772.3 426.8 773.3 426.8 774.4 426.8 775.4 426.7 776.4 426.7 777.4 426.6 778.4 426.5 779.5 426.3 780.5 426.2 781.5 426.1 782.5 426.0 783.6 425.9 784.6 425.8 785.6 425.7 786.6 425.6 787.6 425.6 788.7 425.5 789.7 425.5 790.7 425.5 791.7 425.5 792.8 425.5 793.8 425.6 794.8 425.7 795.8 425.8 796.8 425.9 797.9 426.0 798.9 426.2 799.9 426.4 800.9 426.7 802.0 427.0 803.0 427.3 804.0 427.7 805.0 428.1 806.0 428.5 807.1 429.0 808.1 429.6 809.1 430.1 810.1 430.7 L810.1 447.2 809.1 448.1 808.1 448.9 807.1 449.8 806.0 450.7 805.0 451.5 804.0 452.4 803.0 453.2 802.0 454.0 800.9 454.8 799.9 455.5 798.9 456.2 797.9 456.8 796.8 457.4 795.8 458.0 794.8 458.6 793.8 459.2 792.8 459.7 791.7 460.2 790.7 460.7 789.7 461.2 788.7 461.7 787.6 462.1 786.6 462.4 785.6 462.7 784.6 462.9 783.6 463.0 782.5 463.0 781.5 462.9 780.5 462.7 779.5 462.4 778.4 462.0 777.4 461.6 776.4 461.1 775.4 460.5 774.4 459.9 773.3 459.3 772.3 458.7 771.3 458.1 770.3 457.5 769.2 456.9 768.2 456.4 767.2 455.8 766.2 455.3 765.2 454.8 764.1 454.3 763.1 453.9 762.1 453.4 761.1 453.0 760.1 452.6 759.0 452.2 758.0 451.8 757.0 451.5 756.0 451.1 754.9 450.8 753.9 450.4 752.9 450.1 751.9 449.9 750.9 449.6 749.8 449.4 748.8 449.1 747.8 448.9 746.8 448.8 745.7 448.6 744.7 448.5 743.7 448.4 742.7 448.3 741.7 448.3 740.6 448.3 739.6 448.3 738.6 448.3 737.6 448.4 736.5 448.5 735.5 448.6 734.5 448.7 733.5 448.8 732.5 448.9 731.4 448.9 730.4 449.0 729.4 449.1 728.4 449.2 727.3 449.3 726.3 449.3 725.3 449.4 724.3 449.5 723.3 449.5 722.2 449.5 721.2 449.6 720.2 449.6 719.2 449.6 718.2 449.6 717.1 449.6 716.1 449.6 715.1 449.6 714.1 449.6 713.0 449.5 712.0 449.5 711.0 449.4 710.0 449.4 709.0 449.3 707.9 449.1 706.9 449.0 705.9 448.8 704.9 448.6 703.8 448.4 702.8 448.2 701.8 448.0 700.8 447.8 699.8 447.7 698.7 447.6 697.7 447.7 696.7 447.8 695.7 448.1 694.6 448.4 693.6 448.7 692.6 449.1 691.6 449.4 690.6 449.7 689.5 450.0 688.5 450.1 687.5 450.2 686.5 450.2 685.4 450.1 684.4 450.1 683.4 450.0 682.4 450.0 681.4 450.1 680.3 450.2 679.3 450.4 678.3 450.7 677.3 451.1 676.2 451.5 675.2 452.0 674.2 452.5 673.2 453.0 672.2 453.5 671.1 454.0 670.1 454.5 669.1 454.9 668.1 455.3 667.1 455.6 666.0 455.9 665.0 456.1 664.0 456.4 663.0 456.6 661.9 456.8 660.9 457.1 659.9 457.3 658.9 457.6 657.9 457.8 656.8 458.1 655.8 458.4 654.8 458.8 653.8 459.2 652.7 459.6 651.7 460.0 650.7 460.5 649.7 461.1 648.7 461.7 647.6 462.3 646.6 463.0 645.6 463.6 644.6 464.3 643.5 465.1 642.5 465.8 641.5 466.6 640.5 467.3 639.5 468.0 638.4 468.8 637.4 469.5 636.4 470.2 635.4 471.0 634.3 471.7 633.3 472.5 632.3 473.2 631.3 474.0 630.3 474.8 629.2 475.6 628.2 476.4 627.2 477.2 626.2 477.9 625.1 478.7 624.1 479.3 623.1 480.0 622.1 480.6 621.1 481.2 620.0 481.8 619.0 482.3 618.0 482.9 617.0 483.6 616.0 484.2 614.9 485.0 613.9 485.9 612.9 486.9 611.9 488.1 610.8 489.4 609.8 491.0 608.8 492.8 607.8 494.8 606.8 497.1 605.7 499.6 604.7 502.3 603.7 505.1 602.7 508.0 601.6 510.8 600.6 513.5 599.6 516.0 598.6 518.0 597.6 519.6 596.5 520.7 595.5 521.2 594.5 521.0 593.5 520.2 592.4 518.9 591.4 517.2 590.4 515.0 589.4 512.5 588.4 509.9 587.3 507.2 586.3 504.6 585.3 502.0 584.3 499.6 583.2 497.3 582.2 495.3 581.2 493.4 580.2 491.7 579.2 490.2 578.1 488.8 577.1 487.4 576.1 486.2 575.1 485.1 574.0 483.9 573.0 482.8 572.0 481.8 571.0 480.7 570.0 479.6 568.9 478.6 567.9 477.6 566.9 476.5 565.9 475.5 564.9 474.4 563.8 473.4 562.8 472.4 561.8 471.4 560.8 470.4 559.7 469.4 558.7 468.4 557.7 467.5 556.7 466.6 555.7 465.8 554.6 465.1 553.6 464.5 552.6 464.1 551.6 463.7 550.5 463.6 549.5 463.6 548.5 463.8 547.5 464.2 546.5 464.9 545.4 465.9 544.4 467.1 543.4 468.5 542.4 469.9 541.3 471.3 540.3 472.3 539.3 473.0 538.3 473.2 537.3 472.7 536.2 471.5 535.2 469.7 534.2 467.6 533.2 465.4 532.1 463.3 531.1 461.4 530.1 459.6 529.1 457.8 528.1 456.1 527.0 454.2 526.0 452.1 525.0 449.8 524.0 447.2 522.9 444.4 521.9 441.4 520.9 438.5 519.9 435.6 518.9 432.9 517.8 430.5 516.8 428.9 515.8 428.4 514.8 429.6 513.8 432.4 512.7 436.4 511.7 441.0 510.7 445.7 509.7 450.0 508.6 453.7 507.6 456.3 506.6 457.6 505.6 457.7 504.6 456.8 503.5 456.3 502.5 457.4 501.5 461.2 500.5 468.2 499.4 478.1 498.4 490.0 497.4 502.2 496.4 512.3 495.4 519.0 494.3 521.8 493.3 521.4 492.3 518.4 491.3 513.9 490.2 508.1 489.2 501.6 488.2 495.0 487.2 488.4 486.2 482.1 485.1 476.3 484.1 471.2 483.1 467.1 482.1 464.1 481.0 462.4 480.0 462.2 479.0 462.9 478.0 464.0 477.0 465.0 475.9 465.2 474.9 464.6 473.9 463.4 472.9 461.9 471.8 460.4 470.8 459.1 469.8 458.3 468.8 457.9 467.8 457.8 466.7 457.9 465.7 458.0 464.7 458.1 463.7 458.1 462.7 458.2 461.6 458.2 460.6 458.2 459.6 458.2 458.6 458.2 457.5 458.2 456.5 458.2 455.5 458.1 454.5 458.1 453.5 458.0 452.4 458.0 451.4 457.9 450.4 457.8 449.4 457.8 448.3 457.7 447.3 457.7 446.3 457.6 445.3 457.6 444.3 457.5 443.2 457.5 442.2 457.4 441.2 457.4 440.2 457.4 439.1 457.3 438.1 457.3 437.1 457.2Z" fill="rgb(10,145,195)" fill-opacity="0.1" stroke="none"/>
<path d="M437.1 419.9 438.1 419.3 439.1 418.7 440.2 418.2 441.2 417.7 442.2 417.2 443.2 416.8 444.3 416.5 445.3 416.2 446.3 416.1 447.3 416.0 448.3 416.1 449.4 416.2 450.4 416.4 451.4 416.7 452.4 417.1 453.5 417.5 454.5 417.9 455.5 418.2 456.5 418.6 457.5 418.9 458.6 419.1 459.6 419.2 460.6 419.3 461.6 419.2 462.7 419.0 463.7 418.6 464.7 418.1 465.7 417.3 466.7 416.3 467.8 414.8 468.8 412.9 469.8 410.5 470.8 407.6 471.8 404.3 472.9 400.9 473.9 397.7 474.9 395.2 475.9 394.0 477.0 394.6 478.0 397.5 479.0 402.6 480.0 408.4 481.0 413.2 482.1 415.5 483.1 415.5 484.1 413.5 485.1 410.1 486.2 405.5 487.2 400.0 488.2 394.0 489.2 387.9 490.2 382.1 491.3 376.8 492.3 372.4 493.3 368.5 494.3 364.6 495.4 360.1 496.4 354.5 497.4 347.5 498.4 339.1 499.4 329.1 500.5 317.9 501.5 306.3 502.5 295.8 503.5 287.6 504.6 282.6 505.6 281.8 506.6 285.4 507.6 293.0 508.6 303.8 509.7 316.7 510.7 330.7 511.7 344.6 512.7 357.5 513.8 368.6 514.8 377.8 515.8 385.1 516.8 390.8 517.8 395.1 518.9 398.6 519.9 401.6 520.9 404.6 521.9 407.5 522.9 410.4 524.0 413.4 525.0 416.4 526.0 419.4 527.0 422.3 528.1 425.1 529.1 427.8 530.1 430.2 531.1 432.3 532.1 434.1 533.2 435.4 534.2 436.2 535.2 436.5 536.2 436.3 537.3 435.8 538.3 434.9 539.3 433.8 540.3 432.7 541.3 431.5 542.4 430.5 543.4 429.6 544.4 428.8 545.4 428.1 546.5 427.5 547.5 427.0 548.5 426.7 549.5 426.5 550.5 426.4 551.6 426.4 552.6 426.5 553.6 426.7 554.6 427.0 555.7 427.3 556.7 427.7 557.7 428.2 558.7 428.7 559.7 429.2 560.8 429.8 561.8 430.3 562.8 430.9 563.8 431.4 564.9 432.0 565.9 432.6 566.9 433.2 567.9 433.7 568.9 434.2 570.0 434.7 571.0 435.2 572.0 435.6 573.0 435.9 574.0 436.2 575.1 436.4 576.1 436.5 577.1 436.5 578.1 436.4 579.2 436.2 580.2 435.8 581.2 435.4 582.2 434.9 583.2 434.3 584.3 433.7 585.3 433.0 586.3 432.2 587.3 431.5 588.4 430.8 589.4 430.1 590.4 429.5 591.4 428.9 592.4 428.4 593.5 428.0 594.5 427.6 595.5 427.3 596.5 427.1 597.6 426.9 598.6 426.9 599.6 426.9 600.6 426.9 601.6 427.0 602.7 427.1 603.7 427.2 604.7 427.4 605.7 427.5 606.8 427.7 607.8 427.8 608.8 427.9 609.8 427.9 610.8 427.9 611.9 427.9 612.9 427.8 613.9 427.7 614.9 427.5 616.0 427.3 617.0 427.1 618.0 426.8 619.0 426.4 620.0 426.0 621.1 425.5 622.1 425.0 623.1 424.4 624.1 423.8 625.1 423.1 626.2 422.3 627.2 421.5 628.2 420.7 629.2 419.9 630.3 419.1 631.3 418.5 632.3 418.0 633.3 417.5 634.3 417.1 635.4 416.7 636.4 416.4 637.4 416.1 638.4 415.8 639.5 415.4 640.5 415.1 641.5 414.7 642.5 414.2 643.5 413.7 644.6 413.3 645.6 412.8 646.6 412.3 647.6 411.9 648.7 411.5 649.7 411.2 650.7 411.0 651.7 410.8 652.7 410.7 653.8 410.6 654.8 410.6 655.8 410.5 656.8 410.5 657.9 410.3 658.9 410.2 659.9 409.9 660.9 409.6 661.9 409.1 663.0 408.5 664.0 407.9 665.0 407.1 666.0 406.3 667.1 405.4 668.1 404.5 669.1 403.5 670.1 402.5 671.1 401.4 672.2 400.3 673.2 399.2 674.2 398.0 675.2 396.8 676.2 395.6 677.3 394.4 678.3 393.2 679.3 392.0 680.3 390.8 681.4 389.7 682.4 388.5 683.4 387.5 684.4 386.5 685.4 385.6 686.5 384.8 687.5 384.2 688.5 383.6 689.5 383.2 690.6 383.1 691.6 383.1 692.6 383.3 693.6 383.9 694.6 384.7 695.7 385.7 696.7 386.9 697.7 388.2 698.7 389.6 699.8 391.0 700.8 392.3 701.8 393.6 702.8 394.7 703.8 395.8 704.9 396.8 705.9 397.7 706.9 398.6 707.9 399.4 709.0 400.2 710.0 400.9 711.0 401.7 712.0 402.4 713.0 403.2 714.1 403.9 715.1 404.6 716.1 405.3 717.1 406.0 718.2 406.6 719.2 407.1 720.2 407.6 721.2 408.1 722.2 408.6 723.3 409.0 724.3 409.4 725.3 409.8 726.3 410.2 727.3 410.6 728.4 411.0 729.4 411.5 730.4 411.9 731.4 412.4 732.5 413.0 733.5 413.6 734.5 414.2 735.5 414.9 736.5 415.6 737.6 416.2 738.6 416.9 739.6 417.5 740.6 418.0 741.7 418.5 742.7 419.0 743.7 419.3 744.7 419.7 745.7 420.0 746.8 420.2 747.8 420.4 748.8 420.6 749.8 420.8 750.9 420.9 751.9 421.0 752.9 421.1 753.9 421.3 754.9 421.4 756.0 421.5 757.0 421.6 758.0 421.8 759.0 421.9 760.1 422.1 761.1 422.3 762.1 422.5 763.1 422.7 764.1 422.9 765.2 423.1 766.2 423.3 767.2 423.5 768.2 423.6 769.2 423.8 770.3 423.9 771.3 423.9 772.3 424.0 773.3 424.0 774.4 424.0 775.4 423.9 776.4 423.8 777.4 423.8 778.4 423.7 779.5 423.6 780.5 423.4 781.5 423.3 782.5 423.2 783.6 423.1 784.6 423.0 785.6 422.9 786.6 422.9 787.6 422.8 788.7 422.8 789.7 422.7 790.7 422.7 791.7 422.7 792.8 422.8 793.8 422.8 794.8 422.9 795.8 423.0 796.8 423.1 797.9 423.2 798.9 423.4 799.9 423.6 800.9 423.8 802.0 424.1 803.0 424.4 804.0 424.7 805.0 425.1 806.0 425.5 807.1 426.0 808.1 426.5 809.1 427.0 810.1 427.6 L810.1 441.9 809.1 442.6 808.1 443.2 807.1 443.9 806.0 444.5 805.0 445.2 804.0 445.8 803.0 446.3 802.0 446.9 800.9 447.4 799.9 447.9 798.9 448.3 797.9 448.7 796.8 449.1 795.8 449.5 794.8 449.8 793.8 450.2 792.8 450.5 791.7 450.9 790.7 451.3 789.7 451.6 788.7 451.9 787.6 452.2 786.6 452.5 785.6 452.7 784.6 452.9 783.6 453.1 782.5 453.1 781.5 453.1 780.5 453.0 779.5 452.9 778.4 452.7 777.4 452.5 776.4 452.2 775.4 451.9 774.4 451.6 773.3 451.4 772.3 451.1 771.3 450.8 770.3 450.6 769.2 450.4 768.2 450.2 767.2 450.1 766.2 450.0 765.2 449.9 764.1 449.9 763.1 449.8 762.1 449.9 761.1 449.9 760.1 450.0 759.0 450.0 758.0 450.1 757.0 450.2 756.0 450.3 754.9 450.5 753.9 450.6 752.9 450.7 751.9 450.9 750.9 451.0 749.8 451.2 748.8 451.3 747.8 451.5 746.8 451.6 745.7 451.8 744.7 451.9 743.7 452.0 742.7 452.1 741.7 452.2 740.6 452.3 739.6 452.4 738.6 452.5 737.6 452.5 736.5 452.5 735.5 452.5 734.5 452.5 733.5 452.4 732.5 452.3 731.4 452.2 730.4 452.0 729.4 451.8 728.4 451.6 727.3 451.3 726.3 451.0 725.3 450.8 724.3 450.5 723.3 450.2 722.2 449.9 721.2 449.5 720.2 449.2 719.2 448.9 718.2 448.6 717.1 448.3 716.1 448.0 715.1 447.7 714.1 447.4 713.0 447.1 712.0 446.8 711.0 446.5 710.0 446.3 709.0 446.0 707.9 445.7 706.9 445.4 705.9 445.1 704.9 444.8 703.8 444.5 702.8 444.1 701.8 443.8 700.8 443.6 699.8 443.4 698.7 443.3 697.7 443.3 696.7 443.4 695.7 443.6 694.6 443.8 693.6 444.1 692.6 444.4 691.6 444.7 690.6 445.0 689.5 445.2 688.5 445.3 687.5 445.4 686.5 445.4 685.4 445.4 684.4 445.3 683.4 445.3 682.4 445.3 681.4 445.4 680.3 445.5 679.3 445.7 678.3 446.0 677.3 446.4 676.2 446.8 675.2 447.3 674.2 447.8 673.2 448.3 672.2 448.9 671.1 449.4 670.1 449.8 669.1 450.2 668.1 450.6 667.1 450.9 666.0 451.2 665.0 451.5 664.0 451.8 663.0 452.0 661.9 452.3 660.9 452.5 659.9 452.7 658.9 453.0 657.9 453.3 656.8 453.6 655.8 453.9 654.8 454.3 653.8 454.7 652.7 455.1 651.7 455.5 650.7 456.0 649.7 456.6 648.7 457.2 647.6 457.8 646.6 458.4 645.6 459.1 644.6 459.8 643.5 460.5 642.5 461.3 641.5 462.0 640.5 462.7 639.5 463.5 638.4 464.2 637.4 464.9 636.4 465.6 635.4 466.3 634.3 467.1 633.3 467.8 632.3 468.6 631.3 469.3 630.3 470.1 629.2 470.9 628.2 471.7 627.2 472.5 626.2 473.2 625.1 473.9 624.1 474.6 623.1 475.3 622.1 475.9 621.1 476.5 620.0 477.0 619.0 477.6 618.0 478.1 617.0 478.6 616.0 479.1 614.9 479.6 613.9 480.2 612.9 480.7 611.9 481.3 610.8 481.9 609.8 482.5 608.8 483.0 607.8 483.6 606.8 484.2 605.7 484.7 604.7 485.2 603.7 485.6 602.7 486.1 601.6 486.5 600.6 486.8 599.6 487.1 598.6 487.4 597.6 487.7 596.5 487.9 595.5 488.1 594.5 488.2 593.5 488.3 592.4 488.4 591.4 488.3 590.4 488.3 589.4 488.2 588.4 488.0 587.3 487.8 586.3 487.5 585.3 487.1 584.3 486.6 583.2 486.1 582.2 485.5 581.2 484.9 580.2 484.2 579.2 483.4 578.1 482.6 577.1 481.8 576.1 480.9 575.1 480.0 574.0 479.1 573.0 478.1 572.0 477.2 571.0 476.3 570.0 475.3 568.9 474.4 567.9 473.5 566.9 472.6 565.9 471.7 564.9 470.9 563.8 470.0 562.8 469.2 561.8 468.4 560.8 467.7 559.7 467.0 558.7 466.3 557.7 465.7 556.7 465.2 555.7 464.8 554.6 464.5 553.6 464.4 552.6 464.5 551.6 464.8 550.5 465.4 549.5 466.2 548.5 467.3 547.5 468.8 546.5 470.6 545.4 472.8 544.4 475.4 543.4 478.2 542.4 481.0 541.3 483.7 540.3 486.1 539.3 488.0 538.3 489.2 537.3 489.6 536.2 489.0 535.2 487.7 534.2 485.6 533.2 483.1 532.1 480.3 531.1 477.4 530.1 474.4 529.1 471.2 528.1 467.9 527.0 464.3 526.0 460.6 525.0 456.7 524.0 452.6 522.9 448.3 521.9 444.2 520.9 440.2 519.9 436.5 518.9 433.3 517.8 430.7 516.8 429.0 515.8 428.8 514.8 430.5 513.8 434.0 512.7 438.9 511.7 444.5 510.7 450.3 509.7 455.7 508.6 460.1 507.6 463.2 506.6 464.5 505.6 463.9 504.6 461.4 503.5 458.3 502.5 455.9 501.5 455.5 500.5 458.5 499.4 465.8 498.4 478.1 497.4 494.8 496.4 514.3 495.4 534.3 494.3 552.7 493.3 567.1 492.3 575.9 491.3 577.9 490.2 572.9 489.2 562.0 488.2 547.1 487.2 530.2 486.2 513.1 485.1 497.2 484.1 483.6 483.1 472.7 482.1 464.8 481.0 459.7 480.0 457.2 479.0 456.4 478.0 456.6 477.0 457.1 475.9 457.0 474.9 456.2 473.9 455.0 472.9 453.6 471.8 452.1 470.8 450.9 469.8 450.1 468.8 449.7 467.8 449.6 466.7 449.7 465.7 449.8 464.7 449.9 463.7 450.0 462.7 450.0 461.6 450.0 460.6 450.1 459.6 450.1 458.6 450.1 457.5 450.0 456.5 450.0 455.5 449.9 454.5 449.9 453.5 449.8 452.4 449.8 451.4 449.7 450.4 449.6 449.4 449.6 448.3 449.5 447.3 449.5 446.3 449.4 445.3 449.4 444.3 449.3 443.2 449.3 442.2 449.3 441.2 449.3 440.2 449.2 439.1 449.2 438.1 449.2 437.1 449.2Z" fill="rgb(10,145,195)" fill-opacity="0.1" stroke="none"/>
<path d="M437.1 422.7 438.1 422.1 439.1 421.6 440.2 421.0 441.2 420.5 442.2 420.1 443.2 419.7 444.3 419.3 445.3 419.1 446.3 418.9 447.3 418.8 448.3 418.9 449.4 419.0 450.4 419.3 451.4 419.6 452.4 419.9 453.5 420.3 454.5 420.7 455.5 421.1 456.5 421.4 457.5 421.7 458.6 421.9 459.6 422.1 460.6 422.1 461.6 422.0 462.7 421.8 463.7 421.6 464.7 421.1 465.7 420.6 466.7 420.0 467.8 419.2 468.8 418.4 469.8 417.6 470.8 416.9 471.8 416.2 472.9 415.8 473.9 415.5 474.9 415.5 475.9 416.0 477.0 417.2 478.0 419.5 479.0 422.8 480.0 426.0 481.0 427.8 482.1 427.0 483.1 424.1 484.1 419.5 485.1 413.8 486.2 406.9 487.2 398.9 488.2 389.6 489.2 379.1 490.2 367.5 491.3 355.5 492.3 343.9 493.3 333.8 494.3 326.3 495.4 322.2 496.4 322.6 497.4 327.5 498.4 336.4 499.4 347.9 500.5 359.9 501.5 371.1 502.5 380.5 503.5 387.7 504.6 392.7 505.6 395.9 506.6 397.9 507.6 399.1 508.6 399.5 509.7 399.2 510.7 398.5 511.7 397.7 512.7 396.8 513.8 396.1 514.8 395.8 515.8 396.3 516.8 397.4 517.8 399.1 518.9 401.1 519.9 403.6 520.9 406.4 521.9 409.2 522.9 412.2 524.0 415.1 525.0 418.0 526.0 420.9 527.0 423.8 528.1 426.5 529.1 429.0 530.1 431.3 531.1 433.4 532.1 435.0 533.2 436.2 534.2 436.9 535.2 437.1 536.2 436.8 537.3 436.1 538.3 435.1 539.3 433.9 540.3 432.6 541.3 431.3 542.4 430.2 543.4 429.1 544.4 428.3 545.4 427.5 546.5 427.0 547.5 426.6 548.5 426.3 549.5 426.2 550.5 426.2 551.6 426.4 552.6 426.8 553.6 427.3 554.6 427.9 555.7 428.5 556.7 429.3 557.7 430.1 558.7 431.0 559.7 431.9 560.8 432.9 561.8 433.8 562.8 434.7 563.8 435.7 564.9 436.6 565.9 437.6 566.9 438.5 567.9 439.3 568.9 440.2 570.0 441.0 571.0 441.7 572.0 442.4 573.0 443.0 574.0 443.6 575.1 444.1 576.1 444.5 577.1 444.8 578.1 445.0 579.2 445.2 580.2 445.2 581.2 445.1 582.2 445.0 583.2 444.7 584.3 444.5 585.3 444.1 586.3 443.8 587.3 443.4 588.4 443.0 589.4 442.6 590.4 442.2 591.4 441.7 592.4 441.3 593.5 440.9 594.5 440.5 595.5 440.1 596.5 439.6 597.6 439.2 598.6 438.8 599.6 438.4 600.6 438.0 601.6 437.5 602.7 437.1 603.7 436.7 604.7 436.2 605.7 435.8 606.8 435.3 607.8 434.9 608.8 434.4 609.8 433.9 610.8 433.4 611.9 432.9 612.9 432.4 613.9 431.8 614.9 431.3 616.0 430.8 617.0 430.2 618.0 429.6 619.0 429.0 620.0 428.4 621.1 427.7 622.1 427.0 623.1 426.2 624.1 425.4 625.1 424.6 626.2 423.7 627.2 422.7 628.2 421.8 629.2 420.8 630.3 420.0 631.3 419.2 632.3 418.5 633.3 417.9 634.3 417.4 635.4 416.9 636.4 416.4 637.4 416.0 638.4 415.5 639.5 415.0 640.5 414.4 641.5 413.8 642.5 413.2 643.5 412.5 644.6 411.9 645.6 411.2 646.6 410.5 647.6 409.9 648.7 409.3 649.7 408.8 650.7 408.4 651.7 408.0 652.7 407.7 653.8 407.4 654.8 407.2 655.8 407.0 656.8 406.7 657.9 406.5 658.9 406.2 659.9 405.8 660.9 405.4 661.9 404.9 663.0 404.3 664.0 403.7 665.0 403.0 666.0 402.3 667.1 401.6 668.1 400.9 669.1 400.2 670.1 399.5 671.1 398.8 672.2 398.2 673.2 397.6 674.2 397.0 675.2 396.4 676.2 395.9 677.3 395.5 678.3 395.0 679.3 394.6 680.3 394.3 681.4 394.0 682.4 393.7 683.4 393.5 684.4 393.3 685.4 393.2 686.5 393.2 687.5 393.2 688.5 393.3 689.5 393.4 690.6 393.7 691.6 394.1 692.6 394.6 693.6 395.3 694.6 396.2 695.7 397.1 696.7 398.2 697.7 399.3 698.7 400.4 699.8 401.5 700.8 402.4 701.8 403.2 702.8 403.8 703.8 404.4 704.9 404.8 705.9 405.2 706.9 405.5 707.9 405.8 709.0 406.0 710.0 406.3 711.0 406.5 712.0 406.8 713.0 407.2 714.1 407.5 715.1 407.9 716.1 408.3 717.1 408.7 718.2 409.0 719.2 409.4 720.2 409.7 721.2 410.1 722.2 410.4 723.3 410.7 724.3 411.0 725.3 411.4 726.3 411.7 727.3 412.1 728.4 412.5 729.4 412.9 730.4 413.3 731.4 413.8 732.5 414.4 733.5 415.0 734.5 415.6 735.5 416.3 736.5 417.0 737.6 417.6 738.6 418.3 739.6 418.9 740.6 419.4 741.7 419.9 742.7 420.4 743.7 420.7 744.7 421.1 745.7 421.4 746.8 421.6 747.8 421.8 748.8 422.0 749.8 422.2 750.9 422.3 751.9 422.4 752.9 422.6 753.9 422.7 754.9 422.8 756.0 422.9 757.0 423.0 758.0 423.2 759.0 423.3 760.1 423.5 761.1 423.7 762.1 423.9 763.1 424.1 764.1 424.3 765.2 424.5 766.2 424.7 767.2 424.9 768.2 425.1 769.2 425.2 770.3 425.3 771.3 425.4 772.3 425.4 773.3 425.4 774.4 425.4 775.4 425.3 776.4 425.2 777.4 425.2 778.4 425.1 779.5 425.0 780.5 424.9 781.5 424.7 782.5 424.6 783.6 424.5 784.6 424.4 785.6 424.4 786.6 424.3 787.6 424.2 788.7 424.2 789.7 424.2 790.7 424.1 791.7 424.1 792.8 424.2 793.8 424.2 794.8 424.3 795.8 424.4 796.8 424.5 797.9 424.6 798.9 424.8 799.9 425.0 800.9 425.2 802.0 425.5 803.0 425.8 804.0 426.1 805.0 426.5 806.0 426.9 807.1 427.4 808.1 427.9 809.1 428.4 810.1 429.0 L810.1 443.3 809.1 444.0 808.1 444.7 807.1 445.3 806.0 445.9 805.0 446.6 804.0 447.2 803.0 447.8 802.0 448.3 800.9 448.8 799.9 449.3 798.9 449.7 797.9 450.1 796.8 450.5 795.8 450.9 794.8 451.2 793.8 451.6 792.8 451.9 791.7 452.3 790.7 452.6 789.7 453.0 788.7 453.3 787.6 453.6 786.6 453.9 785.6 454.1 784.6 454.2 783.6 454.4 782.5 454.4 781.5 454.4 780.5 454.2 779.5 454.1 778.4 453.8 777.4 453.6 776.4 453.2 775.4 452.9 774.4 452.5 773.3 452.1 772.3 451.7 771.3 451.4 770.3 451.0 769.2 450.6 768.2 450.3 767.2 450.0 766.2 449.7 765.2 449.4 764.1 449.2 763.1 448.9 762.1 448.7 761.1 448.4 760.1 448.2 759.0 448.0 758.0 447.7 757.0 447.5 756.0 447.3 754.9 447.1 753.9 446.9 752.9 446.7 751.9 446.5 750.9 446.3 749.8 446.1 748.8 446.0 747.8 445.8 746.8 445.7 745.7 445.6 744.7 445.5 743.7 445.4 742.7 445.4 741.7 445.3 740.6 445.3 739.6 445.4 738.6 445.4 737.6 445.5 736.5 445.5 735.5 445.6 734.5 445.7 733.5 445.8 732.5 445.9 731.4 446.0 730.4 446.0 729.4 446.1 728.4 446.2 727.3 446.2 726.3 446.3 725.3 446.4 724.3 446.4 723.3 446.4 722.2 446.5 721.2 446.5 720.2 446.5 719.2 446.5 718.2 446.5 717.1 446.5 716.1 446.5 715.1 446.5 714.1 446.4 713.0 446.4 712.0 446.3 711.0 446.3 710.0 446.2 709.0 446.1 707.9 445.9 706.9 445.8 705.9 445.6 704.9 445.4 703.8 445.2 702.8 445.0 701.8 444.8 700.8 444.6 699.8 444.5 698.7 444.4 697.7 444.5 696.7 444.6 695.7 444.8 694.6 445.1 693.6 445.4 692.6 445.8 691.6 446.1 690.6 446.4 689.5 446.6 688.5 446.7 687.5 446.8 686.5 446.8 685.4 446.8 684.4 446.7 683.4 446.7 682.4 446.7 681.4 446.8 680.3 446.9 679.3 447.1 678.3 447.4 677.3 447.8 676.2 448.2 675.2 448.7 674.2 449.2 673.2 449.8 672.2 450.3 671.1 450.8 670.1 451.2 669.1 451.6 668.1 452.0 667.1 452.3 666.0 452.6 665.0 452.9 664.0 453.2 663.0 453.4 661.9 453.7 660.9 453.9 659.9 454.2 658.9 454.4 657.9 454.7 656.8 455.0 655.8 455.3 654.8 455.7 653.8 456.1 652.7 456.5 651.7 457.0 650.7 457.5 649.7 458.0 648.7 458.6 647.6 459.2 646.6 459.9 645.6 460.6 644.6 461.3 643.5 462.0 642.5 462.7 641.5 463.5 640.5 464.2 639.5 465.0 638.4 465.7 637.4 466.4 636.4 467.2 635.4 467.9 634.3 468.7 633.3 469.4 632.3 470.2 631.3 471.0 630.3 471.8 629.2 472.6 628.2 473.4 627.2 474.3 626.2 475.1 625.1 475.9 624.1 476.6 623.1 477.3 622.1 478.0 621.1 478.6 620.0 479.3 619.0 479.9 618.0 480.5 617.0 481.1 616.0 481.8 614.9 482.4 613.9 483.0 612.9 483.7 611.9 484.4 610.8 485.1 609.8 485.9 608.8 486.6 607.8 487.3 606.8 488.0 605.7 488.7 604.7 489.3 603.7 490.0 602.7 490.6 601.6 491.1 600.6 491.7 599.6 492.2 598.6 492.6 597.6 493.0 596.5 493.4 595.5 493.8 594.5 494.1 593.5 494.3 592.4 494.5 591.4 494.6 590.4 494.7 589.4 494.7 588.4 494.6 587.3 494.5 586.3 494.3 585.3 494.0 584.3 493.6 583.2 493.1 582.2 492.5 581.2 491.9 580.2 491.2 579.2 490.4 578.1 489.6 577.1 488.7 576.1 487.7 575.1 486.7 574.0 485.7 573.0 484.6 572.0 483.5 571.0 482.4 570.0 481.3 568.9 480.1 567.9 478.9 566.9 477.8 565.9 476.6 564.9 475.4 563.8 474.2 562.8 473.0 561.8 471.8 560.8 470.7 559.7 469.5 558.7 468.4 557.7 467.3 556.7 466.3 555.7 465.3 554.6 464.5 553.6 463.8 552.6 463.1 551.6 462.7 550.5 462.4 549.5 462.3 548.5 462.3 547.5 462.6 546.5 463.2 545.4 464.1 544.4 465.2 543.4 466.5 542.4 467.8 541.3 469.0 540.3 470.0 539.3 470.6 538.3 470.7 537.3 470.2 536.2 468.9 535.2 467.2 534.2 465.1 533.2 462.9 532.1 460.7 531.1 458.7 530.1 456.8 529.1 455.0 528.1 453.1 527.0 451.2 526.0 449.1 525.0 446.8 524.0 444.2 522.9 441.5 521.9 438.7 520.9 436.0 519.9 433.4 518.9 431.1 517.8 429.3 516.8 428.4 515.8 428.8 514.8 431.1 513.8 435.2 512.7 440.8 511.7 447.2 510.7 454.0 509.7 460.4 508.6 466.0 507.6 470.1 506.6 472.1 505.6 471.3 504.6 467.5 503.5 461.5 502.5 454.3 501.5 447.2 500.5 442.0 499.4 440.4 498.4 444.2 497.4 454.5 496.4 470.6 495.4 490.7 494.3 511.4 493.3 529.0 492.3 539.8 491.3 542.1 490.2 536.0 489.2 524.3 488.2 510.3 487.2 496.8 486.2 485.3 485.1 476.1 484.1 469.2 483.1 464.1 482.1 460.8 481.0 458.9 480.0 458.5 479.0 459.0 478.0 460.0 477.0 460.9 475.9 461.0 474.9 460.4 473.9 459.2 472.9 457.8 471.8 456.3 470.8 455.1 469.8 454.4 468.8 454.0 467.8 453.9 466.7 453.9 465.7 454.0 464.7 454.1 463.7 454.2 462.7 454.3 461.6 454.3 460.6 454.3 459.6 454.3 458.6 454.3 457.5 454.3 456.5 454.2 455.5 454.2 454.5 454.1 453.5 454.1 452.4 454.0 451.4 453.9 450.4 453.9 449.4 453.8 448.3 453.8 447.3 453.7 446.3 453.7 445.3 453.6 444.3 453.6 443.2 453.6 442.2 453.5 441.2 453.5 440.2 453.5 439.1 453.4 438.1 453.4 437.1 453.4Z" fill="rgb(10,145,195)" fill-opacity="0.1" stroke="none"/>
<path d="M437.1 422.7 438.1 422.1 439.1 421.6 440.2 421.0 441.2 420.5 442.2 420.1 443.2 419.7 444.3 419.3 445.3 419.1 446.3 418.9 447.3 418.8 448.3 418.9 449.4 419.0 450.4 419.3 451.4 419.6 452.4 419.9 453.5 420.3 454.5 420.7 455.5 421.1 456.5 421.4 457.5 421.7 458.6 421.9 459.6 422.1 460.6 422.1 461.6 422.0 462.7 421.8 463.7 421.6 464.7 421.1 465.7 420.6 466.7 420.0 467.8 419.2 468.8 418.4 469.8 417.6 470.8 416.9 471.8 416.2 472.9 415.8 473.9 415.5 474.9 415.5 475.9 416.0 477.0 417.2 478.0 419.4 479.0 422.6 480.0 425.8 481.0 427.5 482.1 426.6 483.1 423.6 484.1 419.0 485.1 413.1 486.2 405.4 487.2 394.9 488.2 380.3 489.2 361.4 490.2 340.4 491.3 322.1 492.3 312.4 493.3 314.1 494.3 325.8 495.4 342.6 496.4 359.3 497.4 372.8 498.4 382.2 499.4 387.8 500.5 390.4 501.5 390.8 502.5 390.1 503.5 388.7 504.6 387.3 505.6 386.5 506.6 386.9 507.6 388.7 508.6 391.6 509.7 395.3 510.7 399.4 511.7 403.5 512.7 406.9 513.8 409.1 514.8 410.2 515.8 410.4 516.8 410.0 517.8 409.3 518.9 408.7 519.9 408.7 520.9 409.3 521.9 410.5 522.9 412.3 524.0 414.5 525.0 416.9 526.0 419.6 527.0 422.3 528.1 424.9 529.1 427.4 530.1 429.6 531.1 431.6 532.1 433.2 533.2 434.4 534.2 435.1 535.2 435.2 536.2 434.8 537.3 434.0 538.3 433.0 539.3 431.7 540.3 430.3 541.3 429.0 542.4 427.7 543.4 426.6 544.4 425.6 545.4 424.8 546.5 424.1 547.5 423.6 548.5 423.2 549.5 422.9 550.5 422.8 551.6 422.9 552.6 423.1 553.6 423.4 554.6 423.8 555.7 424.4 556.7 425.0 557.7 425.6 558.7 426.3 559.7 427.1 560.8 427.8 561.8 428.6 562.8 429.4 563.8 430.1 564.9 430.9 565.9 431.6 566.9 432.3 567.9 433.0 568.9 433.7 570.0 434.3 571.0 434.8 572.0 435.3 573.0 435.7 574.0 436.1 575.1 436.3 576.1 436.5 577.1 436.6 578.1 436.5 579.2 436.3 580.2 436.0 581.2 435.7 582.2 435.2 583.2 434.6 584.3 434.0 585.3 433.4 586.3 432.7 587.3 432.0 588.4 431.4 589.4 430.7 590.4 430.1 591.4 429.6 592.4 429.1 593.5 428.7 594.5 428.3 595.5 428.0 596.5 427.8 597.6 427.6 598.6 427.5 599.6 427.5 600.6 427.5 601.6 427.6 602.7 427.7 603.7 427.8 604.7 427.9 605.7 428.0 606.8 428.1 607.8 428.1 608.8 428.2 609.8 428.2 610.8 428.2 611.9 428.1 612.9 428.0 613.9 427.8 614.9 427.7 616.0 427.4 617.0 427.1 618.0 426.8 619.0 426.4 620.0 426.0 621.1 425.5 622.1 425.0 623.1 424.4 624.1 423.8 625.1 423.1 626.2 422.3 627.2 421.5 628.2 420.7 629.2 419.9 630.3 419.1 631.3 418.5 632.3 418.0 633.3 417.5 634.3 417.1 635.4 416.7 636.4 416.4 637.4 416.1 638.4 415.8 639.5 415.4 640.5 415.1 641.5 414.7 642.5 414.2 643.5 413.7 644.6 413.3 645.6 412.8 646.6 412.3 647.6 411.9 648.7 411.6 649.7 411.2 650.7 411.0 651.7 410.9 652.7 410.8 653.8 410.7 654.8 410.7 655.8 410.7 656.8 410.7 657.9 410.6 658.9 410.5 659.9 410.3 660.9 410.0 661.9 409.7 663.0 409.3 664.0 408.8 665.0 408.2 666.0 407.6 667.1 407.0 668.1 406.4 669.1 405.7 670.1 405.1 671.1 404.4 672.2 403.8 673.2 403.2 674.2 402.6 675.2 402.0 676.2 401.4 677.3 400.8 678.3 400.3 679.3 399.7 680.3 399.2 681.4 398.8 682.4 398.3 683.4 397.9 684.4 397.6 685.4 397.3 686.5 397.0 687.5 396.8 688.5 396.6 689.5 396.5 690.6 396.5 691.6 396.7 692.6 396.9 693.6 397.3 694.6 397.9 695.7 398.6 696.7 399.4 697.7 400.2 698.7 401.0 699.8 401.8 700.8 402.5 701.8 403.0 702.8 403.3 703.8 403.6 704.9 403.8 705.9 403.9 706.9 403.9 707.9 403.9 709.0 403.9 710.0 403.9 711.0 404.0 712.0 404.0 713.0 404.1 714.1 404.3 715.1 404.4 716.1 404.6 717.1 404.8 718.2 405.0 719.2 405.2 720.2 405.3 721.2 405.5 722.2 405.7 723.3 405.9 724.3 406.1 725.3 406.3 726.3 406.5 727.3 406.8 728.4 407.1 729.4 407.4 730.4 407.9 731.4 408.3 732.5 408.8 733.5 409.4 734.5 410.0 735.5 410.7 736.5 411.4 737.6 412.1 738.6 412.8 739.6 413.4 740.6 414.0 741.7 414.6 742.7 415.1 743.7 415.6 744.7 416.0 745.7 416.4 746.8 416.8 747.8 417.1 748.8 417.4 749.8 417.7 750.9 417.9 751.9 418.2 752.9 418.4 753.9 418.7 754.9 418.9 756.0 419.2 757.0 419.4 758.0 419.7 759.0 420.0 760.1 420.3 761.1 420.6 762.1 420.9 763.1 421.2 764.1 421.6 765.2 421.9 766.2 422.1 767.2 422.4 768.2 422.6 769.2 422.9 770.3 423.0 771.3 423.2 772.3 423.3 773.3 423.3 774.4 423.4 775.4 423.4 776.4 423.4 777.4 423.3 778.4 423.3 779.5 423.2 780.5 423.1 781.5 423.1 782.5 423.0 783.6 422.9 784.6 422.8 785.6 422.8 786.6 422.7 787.6 422.7 788.7 422.7 789.7 422.6 790.7 422.6 791.7 422.7 792.8 422.7 793.8 422.7 794.8 422.8 795.8 422.9 796.8 423.0 797.9 423.2 798.9 423.3 799.9 423.5 800.9 423.8 802.0 424.0 803.0 424.3 804.0 424.7 805.0 425.1 806.0 425.5 807.1 426.0 808.1 426.5 809.1 427.0 810.1 427.6" fill="none" stroke="rgb(10,145,195)" stroke-width="1.6"/>
<path d="M437.1 450.6 438.1 450.6 439.1 450.6 440.2 450.6 441.2 450.7 442.2 450.7 443.2 450.7 444.3 450.8 445.3 450.8 446.3 450.8 447.3 450.9 448.3 450.9 449.4 451.0 450.4 451.0 451.4 451.1 452.4 451.2 453.5 451.2 454.5 451.3 455.5 451.3 456.5 451.4 457.5 451.4 458.6 451.5 459.6 451.5 460.6 451.5 461.6 451.5 462.7 451.4 463.7 451.4 464.7 451.3 465.7 451.2 466.7 451.1 467.8 451.1 468.8 451.2 469.8 451.5 470.8 452.3 471.8 453.5 472.9 455.0 473.9 456.4 474.9 457.6 475.9 458.2 477.0 458.1 478.0 457.3 479.0 456.3 480.0 455.8 481.0 456.4 482.1 458.7 483.1 463.0 484.1 469.7 485.1 479.6 486.2 493.3 487.2 510.4 488.2 529.1 489.2 545.6 490.2 555.5 491.3 555.3 492.3 544.0 493.3 524.3 494.3 500.7 495.4 477.6 496.4 458.1 497.4 444.1 498.4 435.9 499.4 433.3 500.5 435.4 501.5 440.5 502.5 447.2 503.5 454.2 504.6 460.4 505.6 464.6 506.6 466.2 507.6 465.1 508.6 461.9 509.7 457.1 510.7 451.2 511.7 445.0 512.7 438.9 513.8 433.6 514.8 429.6 515.8 427.5 516.8 427.1 517.8 428.1 518.9 430.1 519.9 432.5 520.9 435.3 521.9 438.3 522.9 441.4 524.0 444.5 525.0 447.5 526.0 450.3 527.0 453.0 528.1 455.6 529.1 458.1 530.1 460.7 531.1 463.4 532.1 466.2 533.2 469.1 534.2 472.0 535.2 474.6 536.2 476.9 537.3 478.4 538.3 479.1 539.3 479.0 540.3 478.2 541.3 476.9 542.4 475.2 543.4 473.3 544.4 471.3 545.4 469.3 546.5 467.6 547.5 466.1 548.5 464.9 549.5 463.9 550.5 463.1 551.6 462.6 552.6 462.3 553.6 462.2 554.6 462.3 555.7 462.6 556.7 463.1 557.7 463.6 558.7 464.3 559.7 465.1 560.8 466.0 561.8 466.9 562.8 467.8 563.8 468.8 564.9 469.8 565.9 470.8 566.9 471.8 567.9 472.8 568.9 473.9 570.0 474.9 571.0 475.9 572.0 476.9 573.0 477.9 574.0 478.9 575.1 479.8 576.1 480.8 577.1 481.7 578.1 482.5 579.2 483.4 580.2 484.1 581.2 484.8 582.2 485.5 583.2 486.1 584.3 486.6 585.3 487.1 586.3 487.4 587.3 487.8 588.4 488.0 589.4 488.2 590.4 488.3 591.4 488.3 592.4 488.4 593.5 488.3 594.5 488.2 595.5 488.1 596.5 487.9 597.6 487.7 598.6 487.4 599.6 487.1 600.6 486.8 601.6 486.5 602.7 486.1 603.7 485.6 604.7 485.2 605.7 484.7 606.8 484.2 607.8 483.6 608.8 483.0 609.8 482.5 610.8 481.9 611.9 481.3 612.9 480.7 613.9 480.2 614.9 479.6 616.0 479.1 617.0 478.6 618.0 478.1 619.0 477.6 620.0 477.0 621.1 476.5 622.1 475.9 623.1 475.3 624.1 474.6 625.1 473.9 626.2 473.2 627.2 472.5 628.2 471.7 629.2 470.9 630.3 470.1 631.3 469.3 632.3 468.6 633.3 467.8 634.3 467.1 635.4 466.3 636.4 465.6 637.4 464.9 638.4 464.2 639.5 463.5 640.5 462.7 641.5 462.0 642.5 461.3 643.5 460.5 644.6 459.8 645.6 459.1 646.6 458.4 647.6 457.8 648.7 457.2 649.7 456.6 650.7 456.0 651.7 455.5 652.7 455.1 653.8 454.7 654.8 454.3 655.8 453.9 656.8 453.6 657.9 453.3 658.9 453.0 659.9 452.7 660.9 452.5 661.9 452.3 663.0 452.0 664.0 451.8 665.0 451.5 666.0 451.2 667.1 450.9 668.1 450.6 669.1 450.2 670.1 449.8 671.1 449.4 672.2 448.9 673.2 448.3 674.2 447.8 675.2 447.3 676.2 446.8 677.3 446.4 678.3 446.0 679.3 445.7 680.3 445.5 681.4 445.4 682.4 445.3 683.4 445.3 684.4 445.3 685.4 445.3 686.5 445.4 687.5 445.4 688.5 445.3 689.5 445.2 690.6 444.9 691.6 444.7 692.6 444.4 693.6 444.0 694.6 443.7 695.7 443.4 696.7 443.2 697.7 443.0 698.7 443.0 699.8 443.1 700.8 443.2 701.8 443.4 702.8 443.6 703.8 443.8 704.9 444.0 705.9 444.2 706.9 444.4 707.9 444.5 709.0 444.7 710.0 444.8 711.0 444.9 712.0 444.9 713.0 445.0 714.1 445.0 715.1 445.1 716.1 445.1 717.1 445.1 718.2 445.1 719.2 445.1 720.2 445.1 721.2 445.1 722.2 445.1 723.3 445.0 724.3 445.0 725.3 444.9 726.3 444.9 727.3 444.8 728.4 444.8 729.4 444.7 730.4 444.6 731.4 444.6 732.5 444.5 733.5 444.4 734.5 444.3 735.5 444.2 736.5 444.1 737.6 444.0 738.6 444.0 739.6 443.9 740.6 443.9 741.7 443.9 742.7 444.0 743.7 444.0 744.7 444.1 745.7 444.2 746.8 444.3 747.8 444.4 748.8 444.5 749.8 444.7 750.9 444.9 751.9 445.1 752.9 445.2 753.9 445.4 754.9 445.7 756.0 445.9 757.0 446.1 758.0 446.3 759.0 446.5 760.1 446.8 761.1 447.0 762.1 447.2 763.1 447.5 764.1 447.7 765.2 448.0 766.2 448.3 767.2 448.6 768.2 448.9 769.2 449.2 770.3 449.6 771.3 449.9 772.3 450.3 773.3 450.7 774.4 451.1 775.4 451.5 776.4 451.8 777.4 452.1 778.4 452.4 779.5 452.7 780.5 452.8 781.5 452.9 782.5 453.0 783.6 452.9 784.6 452.8 785.6 452.7 786.6 452.5 787.6 452.2 788.7 451.9 789.7 451.6 790.7 451.2 791.7 450.9 792.8 450.5 793.8 450.2 794.8 449.8 795.8 449.5 796.8 449.1 797.9 448.7 798.9 448.3 799.9 447.9 800.9 447.4 802.0 446.9 803.0 446.3 804.0 445.8 805.0 445.2 806.0 444.5 807.1 443.9 808.1 443.2 809.1 442.6 810.1 441.9" fill="none" stroke="rgb(10,145,195)" stroke-width="1.6"/>
<path d="M437.1 427.3 438.1 426.7 439.1 426.1 440.2 425.6 441.2 425.1 442.2 424.6 443.2 424.2 444.3 423.8 445.3 423.6 446.3 423.4 447.3 423.3 448.3 423.4 449.4 423.5 450.4 423.8 451.4 424.1 452.4 424.5 453.5 424.9 454.5 425.3 455.5 425.6 456.5 426.0 457.5 426.3 458.6 426.5 459.6 426.7 460.6 426.7 461.6 426.6 462.7 426.4 463.7 426.1 464.7 425.7 465.7 425.1 466.7 424.5 467.8 423.7 468.8 422.8 469.8 422.0 470.8 421.2 471.8 420.5 472.9 420.0 473.9 419.7 474.9 419.7 475.9 420.1 477.0 421.3 478.0 423.6 479.0 426.9 480.0 430.1 481.0 431.7 482.1 430.6 483.1 427.3 484.1 422.4 485.1 416.6 486.2 410.2 487.2 403.7 488.2 397.3 489.2 391.4 490.2 386.5 491.3 382.8 492.3 380.7 493.3 380.0 494.3 379.8 495.4 379.6 496.4 378.6 497.4 376.5 498.4 372.8 499.4 367.5 500.5 360.8 501.5 353.7 502.5 347.8 503.5 344.0 504.6 343.3 505.6 346.0 506.6 352.2 507.6 360.9 508.6 370.8 509.7 380.6 510.7 389.0 511.7 395.0 512.7 397.9 513.8 397.2 514.8 393.5 515.8 388.1 516.8 382.4 517.8 377.9 518.9 376.0 519.9 377.5 520.9 382.1 521.9 388.9 522.9 396.8 524.0 404.7 525.0 411.9 526.0 417.9 527.0 422.8 528.1 426.7 529.1 429.9 530.1 432.5 531.1 434.6 532.1 436.2 533.2 437.3 534.2 438.0 535.2 438.0 536.2 437.6 537.3 436.7 538.3 435.6 539.3 434.3 540.3 432.9 541.3 431.5 542.4 430.3 543.4 429.2 544.4 428.2 545.4 427.3 546.5 426.7 547.5 426.1 548.5 425.8 549.5 425.6 550.5 425.5 551.6 425.5 552.6 425.7 553.6 426.1 554.6 426.5 555.7 427.0 556.7 427.6 557.7 428.3 558.7 429.0 559.7 429.7 560.8 430.5 561.8 431.3 562.8 432.0 563.8 432.8 564.9 433.6 565.9 434.3 566.9 435.1 567.9 435.8 568.9 436.5 570.0 437.1 571.0 437.7 572.0 438.3 573.0 438.8 574.0 439.2 575.1 439.6 576.1 439.9 577.1 440.2 578.1 440.3 579.2 440.4 580.2 440.4 581.2 440.3 582.2 440.1 583.2 439.9 584.3 439.6 585.3 439.3 586.3 439.0 587.3 438.7 588.4 438.3 589.4 438.0 590.4 437.7 591.4 437.4 592.4 437.1 593.5 436.8 594.5 436.5 595.5 436.3 596.5 436.0 597.6 435.8 598.6 435.5 599.6 435.3 600.6 435.0 601.6 434.8 602.7 434.5 603.7 434.3 604.7 434.0 605.7 433.7 606.8 433.4 607.8 433.1 608.8 432.8 609.8 432.5 610.8 432.1 611.9 431.8 612.9 431.4 613.9 431.0 614.9 430.6 616.0 430.2 617.0 429.8 618.0 429.3 619.0 428.8 620.0 428.3 621.1 427.8 622.1 427.2 623.1 426.5 624.1 425.9 625.1 425.1 626.2 424.3 627.2 423.5 628.2 422.6 629.2 421.8 630.3 421.1 631.3 420.5 632.3 419.9 633.3 419.4 634.3 419.1 635.4 418.7 636.4 418.4 637.4 418.1 638.4 417.8 639.5 417.4 640.5 417.1 641.5 416.7 642.5 416.2 643.5 415.8 644.6 415.3 645.6 414.8 646.6 414.4 647.6 414.0 648.7 413.6 649.7 413.3 650.7 413.1 651.7 413.0 652.7 412.9 653.8 412.9 654.8 412.9 655.8 412.9 656.8 412.9 657.9 412.8 658.9 412.8 659.9 412.6 660.9 412.3 661.9 412.0 663.0 411.6 664.0 411.1 665.0 410.5 666.0 409.9 667.1 409.3 668.1 408.7 669.1 408.0 670.1 407.3 671.1 406.7 672.2 406.0 673.2 405.4 674.2 404.8 675.2 404.1 676.2 403.5 677.3 402.9 678.3 402.2 679.3 401.6 680.3 401.0 681.4 400.3 682.4 399.6 683.4 398.9 684.4 398.1 685.4 397.3 686.5 396.4 687.5 395.5 688.5 394.5 689.5 393.5 690.6 392.4 691.6 391.4 692.6 390.4 693.6 389.5 694.6 388.7 695.7 388.0 696.7 387.3 697.7 386.8 698.7 386.3 699.8 385.9 700.8 385.6 701.8 385.3 702.8 385.2 703.8 385.1 704.9 385.3 705.9 385.6 706.9 386.2 707.9 387.0 709.0 388.0 710.0 389.2 711.0 390.6 712.0 392.2 713.0 394.0 714.1 395.7 715.1 397.6 716.1 399.3 717.1 401.1 718.2 402.7 719.2 404.3 720.2 405.7 721.2 406.9 722.2 408.1 723.3 409.1 724.3 410.0 725.3 410.9 726.3 411.6 727.3 412.3 728.4 413.0 729.4 413.6 730.4 414.2 731.4 414.8 732.5 415.5 733.5 416.2 734.5 416.9 735.5 417.6 736.5 418.3 737.6 419.0 738.6 419.7 739.6 420.3 740.6 420.9 741.7 421.4 742.7 421.8 743.7 422.2 744.7 422.6 745.7 422.9 746.8 423.1 747.8 423.3 748.8 423.5 749.8 423.7 750.9 423.8 751.9 424.0 752.9 424.1 753.9 424.2 754.9 424.3 756.0 424.4 757.0 424.5 758.0 424.7 759.0 424.9 760.1 425.0 761.1 425.2 762.1 425.4 763.1 425.6 764.1 425.8 765.2 426.0 766.2 426.2 767.2 426.4 768.2 426.5 769.2 426.7 770.3 426.8 771.3 426.8 772.3 426.8 773.3 426.8 774.4 426.8 775.4 426.7 776.4 426.7 777.4 426.6 778.4 426.5 779.5 426.3 780.5 426.2 781.5 426.1 782.5 426.0 783.6 425.9 784.6 425.8 785.6 425.7 786.6 425.6 787.6 425.6 788.7 425.5 789.7 425.5 790.7 425.5 791.7 425.5 792.8 425.5 793.8 425.6 794.8 425.7 795.8 425.8 796.8 425.9 797.9 426.0 798.9 426.2 799.9 426.4 800.9 426.7 802.0 427.0 803.0 427.3 804.0 427.7 805.0 428.1 806.0 428.5 807.1 429.0 808.1 429.6 809.1 430.1 810.1 430.7" fill="none" stroke="rgb(10,145,195)" stroke-width="1.6" stroke-dasharray="6.4 5.2"/>
<path d="M437.1 457.2 438.1 457.3 439.1 457.3 440.2 457.4 441.2 457.4 442.2 457.4 443.2 457.5 444.3 457.5 445.3 457.6 446.3 457.6 447.3 457.7 448.3 457.7 449.4 457.8 450.4 457.8 451.4 457.9 452.4 458.0 453.5 458.0 454.5 458.1 455.5 458.1 456.5 458.2 457.5 458.2 458.6 458.2 459.6 458.2 460.6 458.2 461.6 458.2 462.7 458.2 463.7 458.1 464.7 458.1 465.7 458.0 466.7 457.9 467.8 457.8 468.8 457.9 469.8 458.3 470.8 459.1 471.8 460.4 472.9 461.9 473.9 463.4 474.9 464.6 475.9 465.2 477.0 465.0 478.0 464.0 479.0 462.9 480.0 462.2 481.0 462.4 482.1 464.1 483.1 467.1 484.1 471.2 485.1 476.3 486.2 482.1 487.2 488.4 488.2 495.0 489.2 501.6 490.2 508.1 491.3 513.9 492.3 518.4 493.3 521.4 494.3 521.8 495.4 519.0 496.4 512.3 497.4 502.2 498.4 490.0 499.4 478.1 500.5 468.2 501.5 461.2 502.5 457.4 503.5 456.3 504.6 456.8 505.6 457.7 506.6 457.6 507.6 456.3 508.6 453.7 509.7 450.0 510.7 445.7 511.7 441.0 512.7 436.4 513.8 432.4 514.8 429.6 515.8 428.4 516.8 428.9 517.8 430.5 518.9 432.9 519.9 435.6 520.9 438.5 521.9 441.4 522.9 444.4 524.0 447.2 525.0 449.8 526.0 452.1 527.0 454.2 528.1 456.1 529.1 457.8 530.1 459.6 531.1 461.4 532.1 463.3 533.2 465.4 534.2 467.6 535.2 469.7 536.2 471.5 537.3 472.7 538.3 473.2 539.3 473.0 540.3 472.3 541.3 471.3 542.4 469.9 543.4 468.5 544.4 467.1 545.4 465.9 546.5 464.9 547.5 464.2 548.5 463.8 549.5 463.6 550.5 463.6 551.6 463.7 552.6 464.1 553.6 464.5 554.6 465.1 555.7 465.8 556.7 466.6 557.7 467.5 558.7 468.4 559.7 469.4 560.8 470.4 561.8 471.4 562.8 472.4 563.8 473.4 564.9 474.4 565.9 475.5 566.9 476.5 567.9 477.6 568.9 478.6 570.0 479.6 571.0 480.7 572.0 481.8 573.0 482.8 574.0 483.9 575.1 485.1 576.1 486.2 577.1 487.4 578.1 488.8 579.2 490.2 580.2 491.7 581.2 493.4 582.2 495.3 583.2 497.3 584.3 499.6 585.3 502.0 586.3 504.6 587.3 507.2 588.4 509.9 589.4 512.5 590.4 515.0 591.4 517.2 592.4 518.9 593.5 520.2 594.5 521.0 595.5 521.2 596.5 520.7 597.6 519.6 598.6 518.0 599.6 516.0 600.6 513.5 601.6 510.8 602.7 508.0 603.7 505.1 604.7 502.3 605.7 499.6 606.8 497.1 607.8 494.8 608.8 492.8 609.8 491.0 610.8 489.4 611.9 488.1 612.9 486.9 613.9 485.9 614.9 485.0 616.0 484.2 617.0 483.6 618.0 482.9 619.0 482.3 620.0 481.8 621.1 481.2 622.1 480.6 623.1 480.0 624.1 479.3 625.1 478.7 626.2 477.9 627.2 477.2 628.2 476.4 629.2 475.6 630.3 474.8 631.3 474.0 632.3 473.2 633.3 472.5 634.3 471.7 635.4 471.0 636.4 470.2 637.4 469.5 638.4 468.8 639.5 468.0 640.5 467.3 641.5 466.6 642.5 465.8 643.5 465.1 644.6 464.3 645.6 463.6 646.6 463.0 647.6 462.3 648.7 461.7 649.7 461.1 650.7 460.5 651.7 460.0 652.7 459.6 653.8 459.2 654.8 458.8 655.8 458.4 656.8 458.1 657.9 457.8 658.9 457.6 659.9 457.3 660.9 457.1 661.9 456.8 663.0 456.6 664.0 456.4 665.0 456.1 666.0 455.9 667.1 455.6 668.1 455.3 669.1 454.9 670.1 454.5 671.1 454.0 672.2 453.5 673.2 453.0 674.2 452.5 675.2 452.0 676.2 451.5 677.3 451.1 678.3 450.7 679.3 450.4 680.3 450.2 681.4 450.1 682.4 450.0 683.4 450.0 684.4 450.1 685.4 450.1 686.5 450.2 687.5 450.2 688.5 450.1 689.5 450.0 690.6 449.7 691.6 449.4 692.6 449.1 693.6 448.7 694.6 448.4 695.7 448.1 696.7 447.8 697.7 447.7 698.7 447.6 699.8 447.7 700.8 447.8 701.8 448.0 702.8 448.2 703.8 448.4 704.9 448.6 705.9 448.8 706.9 449.0 707.9 449.1 709.0 449.3 710.0 449.4 711.0 449.4 712.0 449.5 713.0 449.5 714.1 449.6 715.1 449.6 716.1 449.6 717.1 449.6 718.2 449.6 719.2 449.6 720.2 449.6 721.2 449.6 722.2 449.5 723.3 449.5 724.3 449.5 725.3 449.4 726.3 449.3 727.3 449.3 728.4 449.2 729.4 449.1 730.4 449.0 731.4 448.9 732.5 448.9 733.5 448.8 734.5 448.7 735.5 448.6 736.5 448.5 737.6 448.4 738.6 448.3 739.6 448.3 740.6 448.3 741.7 448.3 742.7 448.3 743.7 448.4 744.7 448.5 745.7 448.6 746.8 448.8 747.8 448.9 748.8 449.1 749.8 449.4 750.9 449.6 751.9 449.9 752.9 450.1 753.9 450.4 754.9 450.8 756.0 451.1 757.0 451.5 758.0 451.8 759.0 452.2 760.1 452.6 761.1 453.0 762.1 453.4 763.1 453.9 764.1 454.3 765.2 454.8 766.2 455.3 767.2 455.8 768.2 456.4 769.2 456.9 770.3 457.5 771.3 458.1 772.3 458.7 773.3 459.3 774.4 459.9 775.4 460.5 776.4 461.1 777.4 461.6 778.4 462.0 779.5 462.4 780.5 462.7 781.5 462.9 782.5 463.0 783.6 463.0 784.6 462.9 785.6 462.7 786.6 462.4 787.6 462.1 788.7 461.7 789.7 461.2 790.7 460.7 791.7 460.2 792.8 459.7 793.8 459.2 794.8 458.6 795.8 458.0 796.8 457.4 797.9 456.8 798.9 456.2 799.9 455.5 800.9 454.8 802.0 454.0 803.0 453.2 804.0 452.4 805.0 451.5 806.0 450.7 807.1 449.8 808.1 448.9 809.1 448.1 810.1 447.2" fill="none" stroke="rgb(10,145,195)" stroke-width="1.6" stroke-dasharray="6.4 5.2"/>
<path d="M437.1 419.9 438.1 419.3 439.1 418.7 440.2 418.2 441.2 417.7 442.2 417.2 443.2 416.8 444.3 416.5 445.3 416.2 446.3 416.1 447.3 416.0 448.3 416.1 449.4 416.2 450.4 416.4 451.4 416.7 452.4 417.1 453.5 417.5 454.5 417.9 455.5 418.2 456.5 418.6 457.5 418.9 458.6 419.1 459.6 419.2 460.6 419.3 461.6 419.2 462.7 419.0 463.7 418.6 464.7 418.1 465.7 417.3 466.7 416.3 467.8 414.8 468.8 412.9 469.8 410.5 470.8 407.6 471.8 404.3 472.9 400.9 473.9 397.7 474.9 395.2 475.9 394.0 477.0 394.6 478.0 397.5 479.0 402.6 480.0 408.4 481.0 413.2 482.1 415.5 483.1 415.5 484.1 413.5 485.1 410.1 486.2 405.5 487.2 400.0 488.2 394.0 489.2 387.9 490.2 382.1 491.3 376.8 492.3 372.4 493.3 368.5 494.3 364.6 495.4 360.1 496.4 354.5 497.4 347.5 498.4 339.1 499.4 329.1 500.5 317.9 501.5 306.3 502.5 295.8 503.5 287.6 504.6 282.6 505.6 281.8 506.6 285.4 507.6 293.0 508.6 303.8 509.7 316.7 510.7 330.7 511.7 344.6 512.7 357.5 513.8 368.6 514.8 377.8 515.8 385.1 516.8 390.8 517.8 395.1 518.9 398.6 519.9 401.6 520.9 404.6 521.9 407.5 522.9 410.4 524.0 413.4 525.0 416.4 526.0 419.4 527.0 422.3 528.1 425.1 529.1 427.8 530.1 430.2 531.1 432.3 532.1 434.1 533.2 435.4 534.2 436.2 535.2 436.5 536.2 436.3 537.3 435.8 538.3 434.9 539.3 433.8 540.3 432.7 541.3 431.5 542.4 430.5 543.4 429.6 544.4 428.8 545.4 428.1 546.5 427.5 547.5 427.0 548.5 426.7 549.5 426.5 550.5 426.4 551.6 426.4 552.6 426.5 553.6 426.7 554.6 427.0 555.7 427.3 556.7 427.7 557.7 428.2 558.7 428.7 559.7 429.2 560.8 429.8 561.8 430.3 562.8 430.9 563.8 431.4 564.9 432.0 565.9 432.6 566.9 433.2 567.9 433.7 568.9 434.2 570.0 434.7 571.0 435.2 572.0 435.6 573.0 435.9 574.0 436.2 575.1 436.4 576.1 436.5 577.1 436.5 578.1 436.4 579.2 436.2 580.2 435.8 581.2 435.4 582.2 434.9 583.2 434.3 584.3 433.7 585.3 433.0 586.3 432.2 587.3 431.5 588.4 430.8 589.4 430.1 590.4 429.5 591.4 428.9 592.4 428.4 593.5 428.0 594.5 427.6 595.5 427.3 596.5 427.1 597.6 426.9 598.6 426.9 599.6 426.9 600.6 426.9 601.6 427.0 602.7 427.1 603.7 427.2 604.7 427.4 605.7 427.5 606.8 427.7 607.8 427.8 608.8 427.9 609.8 427.9 610.8 427.9 611.9 427.9 612.9 427.8 613.9 427.7 614.9 427.5 616.0 427.3 617.0 427.1 618.0 426.8 619.0 426.4 620.0 426.0 621.1 425.5 622.1 425.0 623.1 424.4 624.1 423.8 625.1 423.1 626.2 422.3 627.2 421.5 628.2 420.7 629.2 419.9 630.3 419.1 631.3 418.5 632.3 418.0 633.3 417.5 634.3 417.1 635.4 416.7 636.4 416.4 637.4 416.1 638.4 415.8 639.5 415.4 640.5 415.1 641.5 414.7 642.5 414.2 643.5 413.7 644.6 413.3 645.6 412.8 646.6 412.3 647.6 411.9 648.7 411.5 649.7 411.2 650.7 411.0 651.7 410.8 652.7 410.7 653.8 410.6 654.8 410.6 655.8 410.5 656.8 410.5 657.9 410.3 658.9 410.2 659.9 409.9 660.9 409.6 661.9 409.1 663.0 408.5 664.0 407.9 665.0 407.1 666.0 406.3 667.1 405.4 668.1 404.5 669.1 403.5 670.1 402.5 671.1 401.4 672.2 400.3 673.2 399.2 674.2 398.0 675.2 396.8 676.2 395.6 677.3 394.4 678.3 393.2 679.3 392.0 680.3 390.8 681.4 389.7 682.4 388.5 683.4 387.5 684.4 386.5 685.4 385.6 686.5 384.8 687.5 384.2 688.5 383.6 689.5 383.2 690.6 383.1 691.6 383.1 692.6 383.3 693.6 383.9 694.6 384.7 695.7 385.7 696.7 386.9 697.7 388.2 698.7 389.6 699.8 391.0 700.8 392.3 701.8 393.6 702.8 394.7 703.8 395.8 704.9 396.8 705.9 397.7 706.9 398.6 707.9 399.4 709.0 400.2 710.0 400.9 711.0 401.7 712.0 402.4 713.0 403.2 714.1 403.9 715.1 404.6 716.1 405.3 717.1 406.0 718.2 406.6 719.2 407.1 720.2 407.6 721.2 408.1 722.2 408.6 723.3 409.0 724.3 409.4 725.3 409.8 726.3 410.2 727.3 410.6 728.4 411.0 729.4 411.5 730.4 411.9 731.4 412.4 732.5 413.0 733.5 413.6 734.5 414.2 735.5 414.9 736.5 415.6 737.6 416.2 738.6 416.9 739.6 417.5 740.6 418.0 741.7 418.5 742.7 419.0 743.7 419.3 744.7 419.7 745.7 420.0 746.8 420.2 747.8 420.4 748.8 420.6 749.8 420.8 750.9 420.9 751.9 421.0 752.9 421.1 753.9 421.3 754.9 421.4 756.0 421.5 757.0 421.6 758.0 421.8 759.0 421.9 760.1 422.1 761.1 422.3 762.1 422.5 763.1 422.7 764.1 422.9 765.2 423.1 766.2 423.3 767.2 423.5 768.2 423.6 769.2 423.8 770.3 423.9 771.3 423.9 772.3 424.0 773.3 424.0 774.4 424.0 775.4 423.9 776.4 423.8 777.4 423.8 778.4 423.7 779.5 423.6 780.5 423.4 781.5 423.3 782.5 423.2 783.6 423.1 784.6 423.0 785.6 422.9 786.6 422.9 787.6 422.8 788.7 422.8 789.7 422.7 790.7 422.7 791.7 422.7 792.8 422.8 793.8 422.8 794.8 422.9 795.8 423.0 796.8 423.1 797.9 423.2 798.9 423.4 799.9 423.6 800.9 423.8 802.0 424.1 803.0 424.4 804.0 424.7 805.0 425.1 806.0 425.5 807.1 426.0 808.1 426.5 809.1 427.0 810.1 427.6" fill="none" stroke="rgb(10,145,195)" stroke-width="1.6" stroke-dasharray="1.68 1.28"/>
<path d="M437.1 449.2 438.1 449.2 439.1 449.2 440.2 449.2 441.2 449.3 442.2 449.3 443.2 449.3 444.3 449.3 445.3 449.4 446.3 449.4 447.3 449.5 448.3 449.5 449.4 449.6 450.4 449.6 451.4 449.7 452.4 449.8 453.5 449.8 454.5 449.9 455.5 449.9 456.5 450.0 457.5 450.0 458.6 450.1 459.6 450.1 460.6 450.1 461.6 450.0 462.7 450.0 463.7 450.0 464.7 449.9 465.7 449.8 466.7 449.7 467.8 449.6 468.8 449.7 469.8 450.1 470.8 450.9 471.8 452.1 472.9 453.6 473.9 455.0 474.9 456.2 475.9 457.0 477.0 457.1 478.0 456.6 479.0 456.4 480.0 457.2 481.0 459.7 482.1 464.8 483.1 472.7 484.1 483.6 485.1 497.2 486.2 513.1 487.2 530.2 488.2 547.1 489.2 562.0 490.2 572.9 491.3 577.9 492.3 575.9 493.3 567.1 494.3 552.7 495.4 534.3 496.4 514.3 497.4 494.8 498.4 478.1 499.4 465.8 500.5 458.5 501.5 455.5 502.5 455.9 503.5 458.3 504.6 461.4 505.6 463.9 506.6 464.5 507.6 463.2 508.6 460.1 509.7 455.7 510.7 450.3 511.7 444.5 512.7 438.9 513.8 434.0 514.8 430.5 515.8 428.8 516.8 429.0 517.8 430.7 518.9 433.3 519.9 436.5 520.9 440.2 521.9 444.2 522.9 448.3 524.0 452.6 525.0 456.7 526.0 460.6 527.0 464.3 528.1 467.9 529.1 471.2 530.1 474.4 531.1 477.4 532.1 480.3 533.2 483.1 534.2 485.6 535.2 487.7 536.2 489.0 537.3 489.6 538.3 489.2 539.3 488.0 540.3 486.1 541.3 483.7 542.4 481.0 543.4 478.2 544.4 475.4 545.4 472.8 546.5 470.6 547.5 468.8 548.5 467.3 549.5 466.2 550.5 465.4 551.6 464.8 552.6 464.5 553.6 464.4 554.6 464.5 555.7 464.8 556.7 465.2 557.7 465.7 558.7 466.3 559.7 467.0 560.8 467.7 561.8 468.4 562.8 469.2 563.8 470.0 564.9 470.9 565.9 471.7 566.9 472.6 567.9 473.5 568.9 474.4 570.0 475.3 571.0 476.3 572.0 477.2 573.0 478.1 574.0 479.1 575.1 480.0 576.1 480.9 577.1 481.8 578.1 482.6 579.2 483.4 580.2 484.2 581.2 484.9 582.2 485.5 583.2 486.1 584.3 486.6 585.3 487.1 586.3 487.5 587.3 487.8 588.4 488.0 589.4 488.2 590.4 488.3 591.4 488.3 592.4 488.4 593.5 488.3 594.5 488.2 595.5 488.1 596.5 487.9 597.6 487.7 598.6 487.4 599.6 487.1 600.6 486.8 601.6 486.5 602.7 486.1 603.7 485.6 604.7 485.2 605.7 484.7 606.8 484.2 607.8 483.6 608.8 483.0 609.8 482.5 610.8 481.9 611.9 481.3 612.9 480.7 613.9 480.2 614.9 479.6 616.0 479.1 617.0 478.6 618.0 478.1 619.0 477.6 620.0 477.0 621.1 476.5 622.1 475.9 623.1 475.3 624.1 474.6 625.1 473.9 626.2 473.2 627.2 472.5 628.2 471.7 629.2 470.9 630.3 470.1 631.3 469.3 632.3 468.6 633.3 467.8 634.3 467.1 635.4 466.3 636.4 465.6 637.4 464.9 638.4 464.2 639.5 463.5 640.5 462.7 641.5 462.0 642.5 461.3 643.5 460.5 644.6 459.8 645.6 459.1 646.6 458.4 647.6 457.8 648.7 457.2 649.7 456.6 650.7 456.0 651.7 455.5 652.7 455.1 653.8 454.7 654.8 454.3 655.8 453.9 656.8 453.6 657.9 453.3 658.9 453.0 659.9 452.7 660.9 452.5 661.9 452.3 663.0 452.0 664.0 451.8 665.0 451.5 666.0 451.2 667.1 450.9 668.1 450.6 669.1 450.2 670.1 449.8 671.1 449.4 672.2 448.9 673.2 448.3 674.2 447.8 675.2 447.3 676.2 446.8 677.3 446.4 678.3 446.0 679.3 445.7 680.3 445.5 681.4 445.4 682.4 445.3 683.4 445.3 684.4 445.3 685.4 445.4 686.5 445.4 687.5 445.4 688.5 445.3 689.5 445.2 690.6 445.0 691.6 444.7 692.6 444.4 693.6 444.1 694.6 443.8 695.7 443.6 696.7 443.4 697.7 443.3 698.7 443.3 699.8 443.4 700.8 443.6 701.8 443.8 702.8 444.1 703.8 444.5 704.9 444.8 705.9 445.1 706.9 445.4 707.9 445.7 709.0 446.0 710.0 446.3 711.0 446.5 712.0 446.8 713.0 447.1 714.1 447.4 715.1 447.7 716.1 448.0 717.1 448.3 718.2 448.6 719.2 448.9 720.2 449.2 721.2 449.5 722.2 449.9 723.3 450.2 724.3 450.5 725.3 450.8 726.3 451.0 727.3 451.3 728.4 451.6 729.4 451.8 730.4 452.0 731.4 452.2 732.5 452.3 733.5 452.4 734.5 452.5 735.5 452.5 736.5 452.5 737.6 452.5 738.6 452.5 739.6 452.4 740.6 452.3 741.7 452.2 742.7 452.1 743.7 452.0 744.7 451.9 745.7 451.8 746.8 451.6 747.8 451.5 748.8 451.3 749.8 451.2 750.9 451.0 751.9 450.9 752.9 450.7 753.9 450.6 754.9 450.5 756.0 450.3 757.0 450.2 758.0 450.1 759.0 450.0 760.1 450.0 761.1 449.9 762.1 449.9 763.1 449.8 764.1 449.9 765.2 449.9 766.2 450.0 767.2 450.1 768.2 450.2 769.2 450.4 770.3 450.6 771.3 450.8 772.3 451.1 773.3 451.4 774.4 451.6 775.4 451.9 776.4 452.2 777.4 452.5 778.4 452.7 779.5 452.9 780.5 453.0 781.5 453.1 782.5 453.1 783.6 453.1 784.6 452.9 785.6 452.7 786.6 452.5 787.6 452.2 788.7 451.9 789.7 451.6 790.7 451.3 791.7 450.9 792.8 450.5 793.8 450.2 794.8 449.8 795.8 449.5 796.8 449.1 797.9 448.7 798.9 448.3 799.9 447.9 800.9 447.4 802.0 446.9 803.0 446.3 804.0 445.8 805.0 445.2 806.0 444.5 807.1 443.9 808.1 443.2 809.1 442.6 810.1 441.9" fill="none" stroke="rgb(10,145,195)" stroke-width="1.6" stroke-dasharray="1.68 1.28"/>
<path d="M437.1 422.7 438.1 422.1 439.1 421.6 440.2 421.0 441.2 420.5 442.2 420.1 443.2 419.7 444.3 419.3 445.3 419.1 446.3 418.9 447.3 418.8 448.3 418.9 449.4 419.0 450.4 419.3 451.4 419.6 452.4 419.9 453.5 420.3 454.5 420.7 455.5 421.1 456.5 421.4 457.5 421.7 458.6 421.9 459.6 422.1 460.6 422.1 461.6 422.0 462.7 421.8 463.7 421.6 464.7 421.1 465.7 420.6 466.7 420.0 467.8 419.2 468.8 418.4 469.8 417.6 470.8 416.9 471.8 416.2 472.9 415.8 473.9 415.5 474.9 415.5 475.9 416.0 477.0 417.2 478.0 419.5 479.0 422.8 480.0 426.0 481.0 427.8 482.1 427.0 483.1 424.1 484.1 419.5 485.1 413.8 486.2 406.9 487.2 398.9 488.2 389.6 489.2 379.1 490.2 367.5 491.3 355.5 492.3 343.9 493.3 333.8 494.3 326.3 495.4 322.2 496.4 322.6 497.4 327.5 498.4 336.4 499.4 347.9 500.5 359.9 501.5 371.1 502.5 380.5 503.5 387.7 504.6 392.7 505.6 395.9 506.6 397.9 507.6 399.1 508.6 399.5 509.7 399.2 510.7 398.5 511.7 397.7 512.7 396.8 513.8 396.1 514.8 395.8 515.8 396.3 516.8 397.4 517.8 399.1 518.9 401.1 519.9 403.6 520.9 406.4 521.9 409.2 522.9 412.2 524.0 415.1 525.0 418.0 526.0 420.9 527.0 423.8 528.1 426.5 529.1 429.0 530.1 431.3 531.1 433.4 532.1 435.0 533.2 436.2 534.2 436.9 535.2 437.1 536.2 436.8 537.3 436.1 538.3 435.1 539.3 433.9 540.3 432.6 541.3 431.3 542.4 430.2 543.4 429.1 544.4 428.3 545.4 427.5 546.5 427.0 547.5 426.6 548.5 426.3 549.5 426.2 550.5 426.2 551.6 426.4 552.6 426.8 553.6 427.3 554.6 427.9 555.7 428.5 556.7 429.3 557.7 430.1 558.7 431.0 559.7 431.9 560.8 432.9 561.8 433.8 562.8 434.7 563.8 435.7 564.9 436.6 565.9 437.6 566.9 438.5 567.9 439.3 568.9 440.2 570.0 441.0 571.0 441.7 572.0 442.4 573.0 443.0 574.0 443.6 575.1 444.1 576.1 444.5 577.1 444.8 578.1 445.0 579.2 445.2 580.2 445.2 581.2 445.1 582.2 445.0 583.2 444.7 584.3 444.5 585.3 444.1 586.3 443.8 587.3 443.4 588.4 443.0 589.4 442.6 590.4 442.2 591.4 441.7 592.4 441.3 593.5 440.9 594.5 440.5 595.5 440.1 596.5 439.6 597.6 439.2 598.6 438.8 599.6 438.4 600.6 438.0 601.6 437.5 602.7 437.1 603.7 436.7 604.7 436.2 605.7 435.8 606.8 435.3 607.8 434.9 608.8 434.4 609.8 433.9 610.8 433.4 611.9 432.9 612.9 432.4 613.9 431.8 614.9 431.3 616.0 430.8 617.0 430.2 618.0 429.6 619.0 429.0 620.0 428.4 621.1 427.7 622.1 427.0 623.1 426.2 624.1 425.4 625.1 424.6 626.2 423.7 627.2 422.7 628.2 421.8 629.2 420.8 630.3 420.0 631.3 419.2 632.3 418.5 633.3 417.9 634.3 417.4 635.4 416.9 636.4 416.4 637.4 416.0 638.4 415.5 639.5 415.0 640.5 414.4 641.5 413.8 642.5 413.2 643.5 412.5 644.6 411.9 645.6 411.2 646.6 410.5 647.6 409.9 648.7 409.3 649.7 408.8 650.7 408.4 651.7 408.0 652.7 407.7 653.8 407.4 654.8 407.2 655.8 407.0 656.8 406.7 657.9 406.5 658.9 406.2 659.9 405.8 660.9 405.4 661.9 404.9 663.0 404.3 664.0 403.7 665.0 403.0 666.0 402.3 667.1 401.6 668.1 400.9 669.1 400.2 670.1 399.5 671.1 398.8 672.2 398.2 673.2 397.6 674.2 397.0 675.2 396.4 676.2 395.9 677.3 395.5 678.3 395.0 679.3 394.6 680.3 394.3 681.4 394.0 682.4 393.7 683.4 393.5 684.4 393.3 685.4 393.2 686.5 393.2 687.5 393.2 688.5 393.3 689.5 393.4 690.6 393.7 691.6 394.1 692.6 394.6 693.6 395.3 694.6 396.2 695.7 397.1 696.7 398.2 697.7 399.3 698.7 400.4 699.8 401.5 700.8 402.4 701.8 403.2 702.8 403.8 703.8 404.4 704.9 404.8 705.9 405.2 706.9 405.5 707.9 405.8 709.0 406.0 710.0 406.3 711.0 406.5 712.0 406.8 713.0 407.2 714.1 407.5 715.1 407.9 716.1 408.3 717.1 408.7 718.2 409.0 719.2 409.4 720.2 409.7 721.2 410.1 722.2 410.4 723.3 410.7 724.3 411.0 725.3 411.4 726.3 411.7 727.3 412.1 728.4 412.5 729.4 412.9 730.4 413.3 731.4 413.8 732.5 414.4 733.5 415.0 734.5 415.6 735.5 416.3 736.5 417.0 737.6 417.6 738.6 418.3 739.6 418.9 740.6 419.4 741.7 419.9 742.7 420.4 743.7 420.7 744.7 421.1 745.7 421.4 746.8 421.6 747.8 421.8 748.8 422.0 749.8 422.2 750.9 422.3 751.9 422.4 752.9 422.6 753.9 422.7 754.9 422.8 756.0 422.9 757.0 423.0 758.0 423.2 759.0 423.3 760.1 423.5 761.1 423.7 762.1 423.9 763.1 424.1 764.1 424.3 765.2 424.5 766.2 424.7 767.2 424.9 768.2 425.1 769.2 425.2 770.3 425.3 771.3 425.4 772.3 425.4 773.3 425.4 774.4 425.4 775.4 425.3 776.4 425.2 777.4 425.2 778.4 425.1 779.5 425.0 780.5 424.9 781.5 424.7 782.5 424.6 783.6 424.5 784.6 424.4 785.6 424.4 786.6 424.3 787.6 424.2 788.7 424.2 789.7 424.2 790.7 424.1 791.7 424.1 792.8 424.2 793.8 424.2 794.8 424.3 795.8 424.4 796.8 424.5 797.9 424.6 798.9 424.8 799.9 425.0 800.9 425.2 802.0 425.5 803.0 425.8 804.0 426.1 805.0 426.5 806.0 426.9 807.1 427.4 808.1 427.9 809.1 428.4 810.1 429.0" fill="none" stroke="rgb(10,145,195)" stroke-width="1.6" stroke-dasharray="5.84 1.44 2.16 1.44"/>
<path d="M437.1 453.4 438.1 453.4 439.1 453.4 440.2 453.5 441.2 453.5 442.2 453.5 443.2 453.6 444.3 453.6 445.3 453.6 446.3 453.7 447.3 453.7 448.3 453.8 449.4 453.8 450.4 453.9 451.4 453.9 452.4 454.0 453.5 454.1 454.5 454.1 455.5 454.2 456.5 454.2 457.5 454.3 458.6 454.3 459.6 454.3 460.6 454.3 461.6 454.3 462.7 454.3 463.7 454.2 464.7 454.1 465.7 454.0 466.7 453.9 467.8 453.9 468.8 454.0 469.8 454.4 470.8 455.1 471.8 456.3 472.9 457.8 473.9 459.2 474.9 460.4 475.9 461.0 477.0 460.9 478.0 460.0 479.0 459.0 480.0 458.5 481.0 458.9 482.1 460.8 483.1 464.1 484.1 469.2 485.1 476.1 486.2 485.3 487.2 496.8 488.2 510.3 489.2 524.3 490.2 536.0 491.3 542.1 492.3 539.8 493.3 529.0 494.3 511.4 495.4 490.7 496.4 470.6 497.4 454.5 498.4 444.2 499.4 440.4 500.5 442.0 501.5 447.2 502.5 454.3 503.5 461.5 504.6 467.5 505.6 471.3 506.6 472.1 507.6 470.1 508.6 466.0 509.7 460.4 510.7 454.0 511.7 447.2 512.7 440.8 513.8 435.2 514.8 431.1 515.8 428.8 516.8 428.4 517.8 429.3 518.9 431.1 519.9 433.4 520.9 436.0 521.9 438.7 522.9 441.5 524.0 444.2 525.0 446.8 526.0 449.1 527.0 451.2 528.1 453.1 529.1 455.0 530.1 456.8 531.1 458.7 532.1 460.7 533.2 462.9 534.2 465.1 535.2 467.2 536.2 468.9 537.3 470.2 538.3 470.7 539.3 470.6 540.3 470.0 541.3 469.0 542.4 467.8 543.4 466.5 544.4 465.2 545.4 464.1 546.5 463.2 547.5 462.6 548.5 462.3 549.5 462.3 550.5 462.4 551.6 462.7 552.6 463.1 553.6 463.8 554.6 464.5 555.7 465.3 556.7 466.3 557.7 467.3 558.7 468.4 559.7 469.5 560.8 470.7 561.8 471.8 562.8 473.0 563.8 474.2 564.9 475.4 565.9 476.6 566.9 477.8 567.9 478.9 568.9 480.1 570.0 481.3 571.0 482.4 572.0 483.5 573.0 484.6 574.0 485.7 575.1 486.7 576.1 487.7 577.1 488.7 578.1 489.6 579.2 490.4 580.2 491.2 581.2 491.9 582.2 492.5 583.2 493.1 584.3 493.6 585.3 494.0 586.3 494.3 587.3 494.5 588.4 494.6 589.4 494.7 590.4 494.7 591.4 494.6 592.4 494.5 593.5 494.3 594.5 494.1 595.5 493.8 596.5 493.4 597.6 493.0 598.6 492.6 599.6 492.2 600.6 491.7 601.6 491.1 602.7 490.6 603.7 490.0 604.7 489.3 605.7 488.7 606.8 488.0 607.8 487.3 608.8 486.6 609.8 485.9 610.8 485.1 611.9 484.4 612.9 483.7 613.9 483.0 614.9 482.4 616.0 481.8 617.0 481.1 618.0 480.5 619.0 479.9 620.0 479.3 621.1 478.6 622.1 478.0 623.1 477.3 624.1 476.6 625.1 475.9 626.2 475.1 627.2 474.3 628.2 473.4 629.2 472.6 630.3 471.8 631.3 471.0 632.3 470.2 633.3 469.4 634.3 468.7 635.4 467.9 636.4 467.2 637.4 466.4 638.4 465.7 639.5 465.0 640.5 464.2 641.5 463.5 642.5 462.7 643.5 462.0 644.6 461.3 645.6 460.6 646.6 459.9 647.6 459.2 648.7 458.6 649.7 458.0 650.7 457.5 651.7 457.0 652.7 456.5 653.8 456.1 654.8 455.7 655.8 455.3 656.8 455.0 657.9 454.7 658.9 454.4 659.9 454.2 660.9 453.9 661.9 453.7 663.0 453.4 664.0 453.2 665.0 452.9 666.0 452.6 667.1 452.3 668.1 452.0 669.1 451.6 670.1 451.2 671.1 450.8 672.2 450.3 673.2 449.8 674.2 449.2 675.2 448.7 676.2 448.2 677.3 447.8 678.3 447.4 679.3 447.1 680.3 446.9 681.4 446.8 682.4 446.7 683.4 446.7 684.4 446.7 685.4 446.8 686.5 446.8 687.5 446.8 688.5 446.7 689.5 446.6 690.6 446.4 691.6 446.1 692.6 445.8 693.6 445.4 694.6 445.1 695.7 444.8 696.7 444.6 697.7 444.5 698.7 444.4 699.8 444.5 700.8 444.6 701.8 444.8 702.8 445.0 703.8 445.2 704.9 445.4 705.9 445.6 706.9 445.8 707.9 445.9 709.0 446.1 710.0 446.2 711.0 446.3 712.0 446.3 713.0 446.4 714.1 446.4 715.1 446.5 716.1 446.5 717.1 446.5 718.2 446.5 719.2 446.5 720.2 446.5 721.2 446.5 722.2 446.5 723.3 446.4 724.3 446.4 725.3 446.4 726.3 446.3 727.3 446.2 728.4 446.2 729.4 446.1 730.4 446.0 731.4 446.0 732.5 445.9 733.5 445.8 734.5 445.7 735.5 445.6 736.5 445.5 737.6 445.5 738.6 445.4 739.6 445.4 740.6 445.3 741.7 445.3 742.7 445.4 743.7 445.4 744.7 445.5 745.7 445.6 746.8 445.7 747.8 445.8 748.8 446.0 749.8 446.1 750.9 446.3 751.9 446.5 752.9 446.7 753.9 446.9 754.9 447.1 756.0 447.3 757.0 447.5 758.0 447.7 759.0 448.0 760.1 448.2 761.1 448.4 762.1 448.7 763.1 448.9 764.1 449.2 765.2 449.4 766.2 449.7 767.2 450.0 768.2 450.3 769.2 450.6 770.3 451.0 771.3 451.4 772.3 451.7 773.3 452.1 774.4 452.5 775.4 452.9 776.4 453.2 777.4 453.6 778.4 453.8 779.5 454.1 780.5 454.2 781.5 454.4 782.5 454.4 783.6 454.4 784.6 454.2 785.6 454.1 786.6 453.9 787.6 453.6 788.7 453.3 789.7 453.0 790.7 452.6 791.7 452.3 792.8 451.9 793.8 451.6 794.8 451.2 795.8 450.9 796.8 450.5 797.9 450.1 798.9 449.7 799.9 449.3 800.9 448.8 802.0 448.3 803.0 447.8 804.0 447.2 805.0 446.6 806.0 445.9 807.1 445.3 808.1 444.7 809.1 444.0 810.1 443.3" fill="none" stroke="rgb(10,145,195)" stroke-width="1.6" stroke-dasharray="5.84 1.44 2.16 1.44"/>
<path d="M437.1 436.6 438.1 436.3 439.1 436.0 440.2 435.8 441.2 435.5 442.2 435.3 443.2 435.1 444.3 434.9 445.3 434.8 446.3 434.7 447.3 434.7 448.3 434.6 449.4 434.7 450.4 434.8 451.4 434.9 452.4 435.0 453.5 435.1 454.5 435.3 455.5 435.4 456.5 435.5 457.5 435.6 458.6 435.7 459.6 435.7 460.6 435.7 461.6 435.7 462.7 435.7 463.7 435.6 464.7 435.6 465.7 435.5 466.7 435.5 467.8 435.5 468.8 435.6 469.8 435.7 470.8 435.9 471.8 436.1 472.9 436.4 473.9 436.8 474.9 437.3 475.9 437.9 477.0 438.5 478.0 439.3 479.0 440.1 480.0 441.0 481.0 441.9 482.1 442.7 483.1 443.5 484.1 444.3 485.1 445.3 486.2 446.5 487.2 448.0 488.2 449.1 489.2 449.1 490.2 447.2 491.3 442.9 492.3 436.8 493.3 429.9 494.3 423.3 495.4 417.7 496.4 413.6 497.4 411.0 498.4 410.1 499.4 410.9 500.5 413.0 501.5 416.2 502.5 420.3 503.5 424.6 504.6 428.8 505.6 432.3 506.6 434.8 507.6 436.1 508.6 436.2 509.7 435.4 510.7 433.9 511.7 431.9 512.7 429.8 513.8 427.6 514.8 425.5 515.8 423.6 516.8 422.0 517.8 420.8 518.9 420.1 519.9 419.9 520.9 420.2 521.9 420.9 522.9 422.0 524.0 423.5 525.0 425.3 526.0 427.4 527.0 429.8 528.1 432.5 529.1 435.2 530.1 438.0 531.1 440.8 532.1 443.3 533.2 445.6 534.2 447.5 535.2 449.0 536.2 449.8 537.3 450.0 538.3 449.8 539.3 449.1 540.3 448.3 541.3 447.3 542.4 446.4 543.4 445.4 544.4 444.5 545.4 443.6 546.5 442.8 547.5 441.9 548.5 441.2 549.5 440.5 550.5 440.1 551.6 439.9 552.6 439.9 553.6 440.1 554.6 440.4 555.7 440.9 556.7 441.6 557.7 442.3 558.7 443.0 559.7 443.9 560.8 444.7 561.8 445.6 562.8 446.5 563.8 447.4 564.9 448.4 565.9 449.4 566.9 450.4 567.9 451.4 568.9 452.4 570.0 453.4 571.0 454.4 572.0 455.4 573.0 456.4 574.0 457.4 575.1 458.3 576.1 459.2 577.1 460.1 578.1 461.0 579.2 461.8 580.2 462.5 581.2 463.2 582.2 463.8 583.2 464.4 584.3 464.8 585.3 465.2 586.3 465.5 587.3 465.7 588.4 465.8 589.4 465.9 590.4 466.0 591.4 465.9 592.4 465.9 593.5 465.7 594.5 465.6 595.5 465.4 596.5 465.3 597.6 465.1 598.6 464.9 599.6 464.7 600.6 464.5 601.6 464.2 602.7 464.0 603.7 463.7 604.7 463.5 605.7 463.2 606.8 462.9 607.8 462.6 608.8 462.2 609.8 461.9 610.8 461.5 611.9 461.1 612.9 460.6 613.9 460.1 614.9 459.6 616.0 459.1 617.0 458.5 618.0 457.9 619.0 457.3 620.0 456.7 621.1 456.0 622.1 455.3 623.1 454.5 624.1 453.8 625.1 453.0 626.2 452.3 627.2 451.5 628.2 450.8 629.2 450.1 630.3 449.4 631.3 448.8 632.3 448.2 633.3 447.6 634.3 447.1 635.4 446.6 636.4 446.1 637.4 445.6 638.4 445.1 639.5 444.6 640.5 444.1 641.5 443.5 642.5 443.0 643.5 442.4 644.6 441.8 645.6 441.3 646.6 440.7 647.6 440.1 648.7 439.5 649.7 439.0 650.7 438.5 651.7 437.9 652.7 437.4 653.8 437.0 654.8 436.5 655.8 436.0 656.8 435.6 657.9 435.1 658.9 434.7 659.9 434.2 660.9 433.8 661.9 433.3 663.0 432.9 664.0 432.4 665.0 431.9 666.0 431.5 667.1 431.0 668.1 430.5 669.1 430.0 670.1 429.4 671.1 428.9 672.2 428.4 673.2 427.8 674.2 427.2 675.2 426.7 676.2 426.2 677.3 425.7 678.3 425.2 679.3 424.8 680.3 424.3 681.4 424.0 682.4 423.7 683.4 423.4 684.4 423.2 685.4 423.0 686.5 422.8 687.5 422.7 688.5 422.6 689.5 422.6 690.6 422.6 691.6 422.6 692.6 422.6 693.6 422.7 694.6 422.8 695.7 422.9 696.7 423.1 697.7 423.2 698.7 423.4 699.8 423.6 700.8 423.8 701.8 424.0 702.8 424.2 703.8 424.5 704.9 424.7 705.9 424.9 706.9 425.2 707.9 425.4 709.0 425.7 710.0 425.9 711.0 426.1 712.0 426.3 713.0 426.6 714.1 426.8 715.1 426.9 716.1 427.1 717.1 427.3 718.2 427.4 719.2 427.6 720.2 427.7 721.2 427.8 722.2 427.9 723.3 428.1 724.3 428.2 725.3 428.3 726.3 428.5 727.3 428.6 728.4 428.8 729.4 429.0 730.4 429.2 731.4 429.3 732.5 429.5 733.5 429.7 734.5 430.0 735.5 430.2 736.5 430.4 737.6 430.6 738.6 430.8 739.6 431.0 740.6 431.1 741.7 431.3 742.7 431.5 743.7 431.6 744.7 431.7 745.7 431.9 746.8 432.0 747.8 432.1 748.8 432.3 749.8 432.4 750.9 432.5 751.9 432.6 752.9 432.8 753.9 432.9 754.9 433.0 756.0 433.2 757.0 433.4 758.0 433.5 759.0 433.7 760.1 433.9 761.1 434.1 762.1 434.3 763.1 434.5 764.1 434.7 765.2 435.0 766.2 435.2 767.2 435.4 768.2 435.6 769.2 435.9 770.3 436.1 771.3 436.3 772.3 436.5 773.3 436.7 774.4 436.9 775.4 437.1 776.4 437.2 777.4 437.4 778.4 437.5 779.5 437.6 780.5 437.7 781.5 437.8 782.5 437.8 783.6 437.9 784.6 437.9 785.6 437.9 786.6 437.9 787.6 437.9 788.7 437.8 789.7 437.7 790.7 437.6 791.7 437.5 792.8 437.3 793.8 437.2 794.8 437.0 795.8 436.9 796.8 436.7 797.9 436.6 798.9 436.4 799.9 436.3 800.9 436.1 802.0 436.0 803.0 435.9 804.0 435.8 805.0 435.7 806.0 435.6 807.1 435.6 808.1 435.5 809.1 435.4 810.1 435.4" fill="none" stroke="rgb(10,145,195)" stroke-width="2.6"/>
<path d="M437.1 440.1 438.1 439.8 439.1 439.6 440.2 439.3 441.2 439.1 442.2 438.8 443.2 438.6 444.3 438.5 445.3 438.3 446.3 438.2 447.3 438.2 448.3 438.2 449.4 438.2 450.4 438.3 451.4 438.4 452.4 438.5 453.5 438.7 454.5 438.8 455.5 438.9 456.5 439.1 457.5 439.2 458.6 439.2 459.6 439.3 460.6 439.3 461.6 439.2 462.7 439.2 463.7 439.1 464.7 439.1 465.7 439.1 466.7 439.0 467.8 439.1 468.8 439.1 469.8 439.2 470.8 439.4 471.8 439.7 472.9 440.0 473.9 440.4 474.9 440.8 475.9 441.4 477.0 442.1 478.0 442.8 479.0 443.7 480.0 444.5 481.0 445.4 482.1 446.2 483.1 446.9 484.1 447.5 485.1 447.8 486.2 447.9 487.2 447.6 488.2 446.9 489.2 445.8 490.2 444.1 491.3 442.0 492.3 439.4 493.3 436.3 494.3 432.8 495.4 429.1 496.4 425.5 497.4 422.1 498.4 419.2 499.4 417.1 500.5 415.9 501.5 415.5 502.5 416.0 503.5 417.4 504.6 419.3 505.6 421.5 506.6 423.6 507.6 425.3 508.6 426.4 509.7 427.1 510.7 427.4 511.7 427.2 512.7 426.8 513.8 426.2 514.8 425.4 515.8 424.5 516.8 423.8 517.8 423.2 518.9 422.9 519.9 422.9 520.9 423.4 521.9 424.2 522.9 425.4 524.0 427.0 525.0 428.8 526.0 431.0 527.0 433.4 528.1 436.0 529.1 438.8 530.1 441.6 531.1 444.3 532.1 446.9 533.2 449.2 534.2 451.1 535.2 452.5 536.2 453.3 537.3 453.6 538.3 453.3 539.3 452.7 540.3 451.8 541.3 450.8 542.4 449.9 543.4 449.0 544.4 448.1 545.4 447.2 546.5 446.3 547.5 445.5 548.5 444.7 549.5 444.1 550.5 443.6 551.6 443.4 552.6 443.4 553.6 443.6 554.6 444.0 555.7 444.5 556.7 445.1 557.7 445.8 558.7 446.6 559.7 447.4 560.8 448.3 561.8 449.1 562.8 450.0 563.8 451.0 564.9 451.9 565.9 452.9 566.9 453.9 567.9 454.9 568.9 455.9 570.0 456.9 571.0 457.9 572.0 458.9 573.0 459.9 574.0 460.9 575.1 461.9 576.1 462.8 577.1 463.7 578.1 464.5 579.2 465.3 580.2 466.1 581.2 466.8 582.2 467.4 583.2 467.9 584.3 468.4 585.3 468.7 586.3 469.0 587.3 469.2 588.4 469.4 589.4 469.5 590.4 469.5 591.4 469.5 592.4 469.4 593.5 469.3 594.5 469.1 595.5 469.0 596.5 468.8 597.6 468.6 598.6 468.4 599.6 468.2 600.6 468.0 601.6 467.8 602.7 467.5 603.7 467.3 604.7 467.0 605.7 466.7 606.8 466.4 607.8 466.1 608.8 465.8 609.8 465.4 610.8 465.0 611.9 464.6 612.9 464.1 613.9 463.7 614.9 463.2 616.0 462.6 617.0 462.1 618.0 461.5 619.0 460.8 620.0 460.2 621.1 459.5 622.1 458.8 623.1 458.1 624.1 457.3 625.1 456.5 626.2 455.8 627.2 455.0 628.2 454.3 629.2 453.6 630.3 453.0 631.3 452.3 632.3 451.7 633.3 451.2 634.3 450.7 635.4 450.1 636.4 449.6 637.4 449.1 638.4 448.6 639.5 448.1 640.5 447.6 641.5 447.1 642.5 446.5 643.5 445.9 644.6 445.4 645.6 444.8 646.6 444.2 647.6 443.6 648.7 443.1 649.7 442.5 650.7 442.0 651.7 441.5 652.7 441.0 653.8 440.5 654.8 440.0 655.8 439.6 656.8 439.1 657.9 438.7 658.9 438.2 659.9 437.8 660.9 437.3 661.9 436.9 663.0 436.4 664.0 435.9 665.0 435.5 666.0 435.0 667.1 434.5 668.1 434.0 669.1 433.5 670.1 433.0 671.1 432.4 672.2 431.9 673.2 431.3 674.2 430.8 675.2 430.2 676.2 429.7 677.3 429.2 678.3 428.7 679.3 428.3 680.3 427.9 681.4 427.5 682.4 427.2 683.4 426.9 684.4 426.7 685.4 426.5 686.5 426.4 687.5 426.2 688.5 426.2 689.5 426.1 690.6 426.1 691.6 426.1 692.6 426.2 693.6 426.2 694.6 426.3 695.7 426.5 696.7 426.6 697.7 426.8 698.7 426.9 699.8 427.1 700.8 427.3 701.8 427.5 702.8 427.8 703.8 428.0 704.9 428.2 705.9 428.5 706.9 428.7 707.9 429.0 709.0 429.2 710.0 429.4 711.0 429.7 712.0 429.9 713.0 430.1 714.1 430.3 715.1 430.5 716.1 430.6 717.1 430.8 718.2 431.0 719.2 431.1 720.2 431.2 721.2 431.4 722.2 431.5 723.3 431.6 724.3 431.7 725.3 431.9 726.3 432.0 727.3 432.2 728.4 432.3 729.4 432.5 730.4 432.7 731.4 432.9 732.5 433.1 733.5 433.3 734.5 433.5 735.5 433.7 736.5 433.9 737.6 434.1 738.6 434.3 739.6 434.5 740.6 434.7 741.7 434.8 742.7 435.0 743.7 435.1 744.7 435.3 745.7 435.4 746.8 435.5 747.8 435.7 748.8 435.8 749.8 435.9 750.9 436.0 751.9 436.2 752.9 436.3 753.9 436.4 754.9 436.6 756.0 436.7 757.0 436.9 758.0 437.1 759.0 437.2 760.1 437.4 761.1 437.6 762.1 437.8 763.1 438.1 764.1 438.3 765.2 438.5 766.2 438.7 767.2 439.0 768.2 439.2 769.2 439.4 770.3 439.6 771.3 439.8 772.3 440.0 773.3 440.2 774.4 440.4 775.4 440.6 776.4 440.7 777.4 440.9 778.4 441.0 779.5 441.1 780.5 441.2 781.5 441.3 782.5 441.4 783.6 441.4 784.6 441.4 785.6 441.4 786.6 441.4 787.6 441.4 788.7 441.3 789.7 441.2 790.7 441.1 791.7 441.0 792.8 440.9 793.8 440.7 794.8 440.6 795.8 440.4 796.8 440.3 797.9 440.1 798.9 439.9 799.9 439.8 800.9 439.7 802.0 439.5 803.0 439.4 804.0 439.3 805.0 439.2 806.0 439.2 807.1 439.1 808.1 439.0 809.1 439.0 810.1 438.9" fill="none" stroke="rgb(10,145,195)" stroke-width="2.6" stroke-dasharray="8 6.5"/>
<path d="M437.1 436.6 438.1 436.3 439.1 436.0 440.2 435.8 441.2 435.5 442.2 435.3 443.2 435.1 444.3 434.9 445.3 434.8 446.3 434.7 447.3 434.7 448.3 434.6 449.4 434.7 450.4 434.8 451.4 434.9 452.4 435.0 453.5 435.1 454.5 435.3 455.5 435.4 456.5 435.5 457.5 435.6 458.6 435.7 459.6 435.7 460.6 435.7 461.6 435.7 462.7 435.7 463.7 435.6 464.7 435.6 465.7 435.5 466.7 435.5 467.8 435.5 468.8 435.6 469.8 435.7 470.8 435.9 471.8 436.1 472.9 436.4 473.9 436.8 474.9 437.3 475.9 437.9 477.0 438.5 478.0 439.3 479.0 440.1 480.0 441.0 481.0 441.9 482.1 442.8 483.1 443.5 484.1 444.1 485.1 444.6 486.2 444.7 487.2 444.6 488.2 444.1 489.2 443.1 490.2 441.6 491.3 439.5 492.3 437.0 493.3 434.0 494.3 430.6 495.4 427.1 496.4 423.7 497.4 420.8 498.4 418.8 499.4 417.8 500.5 417.9 501.5 419.1 502.5 421.2 503.5 424.0 504.6 427.2 505.6 430.1 506.6 432.4 507.6 433.7 508.6 434.1 509.7 433.7 510.7 432.6 511.7 431.0 512.7 429.1 513.8 427.2 514.8 425.3 515.8 423.5 516.8 422.0 517.8 420.8 518.9 420.1 519.9 419.9 520.9 420.2 521.9 421.0 522.9 422.1 524.0 423.6 525.0 425.5 526.0 427.7 527.0 430.2 528.1 432.9 529.1 435.7 530.1 438.6 531.1 441.5 532.1 444.2 533.2 446.6 534.2 448.7 535.2 450.3 536.2 451.3 537.3 451.7 538.3 451.7 539.3 451.3 540.3 450.6 541.3 449.9 542.4 449.1 543.4 448.4 544.4 447.6 545.4 446.9 546.5 446.1 547.5 445.4 548.5 444.7 549.5 444.1 550.5 443.6 551.6 443.3 552.6 443.3 553.6 443.3 554.6 443.6 555.7 443.9 556.7 444.3 557.7 444.8 558.7 445.4 559.7 446.0 560.8 446.6 561.8 447.3 562.8 448.0 563.8 448.8 564.9 449.6 565.9 450.4 566.9 451.2 567.9 452.1 568.9 452.9 570.0 453.9 571.0 454.8 572.0 455.7 573.0 456.6 574.0 457.6 575.1 458.5 576.1 459.4 577.1 460.2 578.1 461.1 579.2 461.8 580.2 462.6 581.2 463.2 582.2 463.9 583.2 464.4 584.3 464.8 585.3 465.2 586.3 465.5 587.3 465.7 588.4 465.9 589.4 465.9 590.4 466.0 591.4 465.9 592.4 465.9 593.5 465.7 594.5 465.6 595.5 465.4 596.5 465.3 597.6 465.1 598.6 464.9 599.6 464.7 600.6 464.5 601.6 464.2 602.7 464.0 603.7 463.7 604.7 463.5 605.7 463.2 606.8 462.9 607.8 462.6 608.8 462.2 609.8 461.9 610.8 461.5 611.9 461.1 612.9 460.6 613.9 460.1 614.9 459.6 616.0 459.1 617.0 458.5 618.0 457.9 619.0 457.3 620.0 456.7 621.1 456.0 622.1 455.3 623.1 454.5 624.1 453.8 625.1 453.0 626.2 452.3 627.2 451.5 628.2 450.8 629.2 450.1 630.3 449.4 631.3 448.8 632.3 448.2 633.3 447.6 634.3 447.1 635.4 446.6 636.4 446.1 637.4 445.6 638.4 445.1 639.5 444.6 640.5 444.1 641.5 443.5 642.5 443.0 643.5 442.4 644.6 441.8 645.6 441.3 646.6 440.7 647.6 440.1 648.7 439.5 649.7 439.0 650.7 438.5 651.7 437.9 652.7 437.4 653.8 437.0 654.8 436.5 655.8 436.0 656.8 435.6 657.9 435.1 658.9 434.7 659.9 434.2 660.9 433.8 661.9 433.3 663.0 432.9 664.0 432.4 665.0 431.9 666.0 431.5 667.1 431.0 668.1 430.5 669.1 430.0 670.1 429.4 671.1 428.9 672.2 428.4 673.2 427.8 674.2 427.2 675.2 426.7 676.2 426.2 677.3 425.7 678.3 425.2 679.3 424.8 680.3 424.3 681.4 424.0 682.4 423.7 683.4 423.4 684.4 423.2 685.4 423.0 686.5 422.8 687.5 422.7 688.5 422.6 689.5 422.6 690.6 422.6 691.6 422.6 692.6 422.6 693.6 422.7 694.6 422.8 695.7 422.9 696.7 423.1 697.7 423.2 698.7 423.4 699.8 423.6 700.8 423.8 701.8 424.0 702.8 424.2 703.8 424.5 704.9 424.7 705.9 424.9 706.9 425.2 707.9 425.4 709.0 425.7 710.0 425.9 711.0 426.1 712.0 426.3 713.0 426.6 714.1 426.8 715.1 426.9 716.1 427.1 717.1 427.3 718.2 427.4 719.2 427.6 720.2 427.7 721.2 427.8 722.2 427.9 723.3 428.1 724.3 428.2 725.3 428.3 726.3 428.5 727.3 428.6 728.4 428.8 729.4 429.0 730.4 429.2 731.4 429.3 732.5 429.5 733.5 429.7 734.5 430.0 735.5 430.2 736.5 430.4 737.6 430.6 738.6 430.8 739.6 431.0 740.6 431.1 741.7 431.3 742.7 431.5 743.7 431.6 744.7 431.7 745.7 431.9 746.8 432.0 747.8 432.1 748.8 432.3 749.8 432.4 750.9 432.5 751.9 432.6 752.9 432.8 753.9 432.9 754.9 433.0 756.0 433.2 757.0 433.4 758.0 433.5 759.0 433.7 760.1 433.9 761.1 434.1 762.1 434.3 763.1 434.5 764.1 434.7 765.2 435.0 766.2 435.2 767.2 435.4 768.2 435.6 769.2 435.9 770.3 436.1 771.3 436.3 772.3 436.5 773.3 436.7 774.4 436.9 775.4 437.1 776.4 437.2 777.4 437.4 778.4 437.5 779.5 437.6 780.5 437.7 781.5 437.8 782.5 437.8 783.6 437.9 784.6 437.9 785.6 437.9 786.6 437.9 787.6 437.9 788.7 437.8 789.7 437.7 790.7 437.6 791.7 437.5 792.8 437.3 793.8 437.2 794.8 437.0 795.8 436.9 796.8 436.7 797.9 436.6 798.9 436.4 799.9 436.3 800.9 436.1 802.0 436.0 803.0 435.9 804.0 435.8 805.0 435.7 806.0 435.6 807.1 435.6 808.1 435.5 809.1 435.4 810.1 435.4" fill="none" stroke="rgb(10,145,195)" stroke-width="2.6" stroke-dasharray="2.1 1.6"/>
<path d="M437.1 438.0 438.1 437.7 439.1 437.4 440.2 437.2 441.2 436.9 442.2 436.7 443.2 436.5 444.3 436.4 445.3 436.2 446.3 436.1 447.3 436.1 448.3 436.1 449.4 436.1 450.4 436.2 451.4 436.3 452.4 436.4 453.5 436.5 454.5 436.7 455.5 436.8 456.5 436.9 457.5 437.0 458.6 437.1 459.6 437.1 460.6 437.1 461.6 437.1 462.7 437.1 463.7 437.0 464.7 437.0 465.7 436.9 466.7 436.9 467.8 436.9 468.8 437.0 469.8 437.1 470.8 437.3 471.8 437.5 472.9 437.8 473.9 438.2 474.9 438.7 475.9 439.3 477.0 439.9 478.0 440.7 479.0 441.6 480.0 442.5 481.0 443.3 482.1 444.2 483.1 445.0 484.1 445.6 485.1 446.1 486.2 446.3 487.2 446.2 488.2 445.6 489.2 444.4 490.2 442.5 491.3 439.8 492.3 436.3 493.3 432.0 494.3 427.3 495.4 422.7 496.4 418.7 497.4 416.0 498.4 415.0 499.4 416.0 500.5 418.7 501.5 422.6 502.5 427.2 503.5 431.9 504.6 435.9 505.6 439.0 506.6 440.8 507.6 441.2 508.6 440.4 509.7 438.8 510.7 436.6 511.7 434.2 512.7 431.7 513.8 429.3 514.8 427.1 515.8 425.2 516.8 423.5 517.8 422.3 518.9 421.6 519.9 421.4 520.9 421.7 521.9 422.4 522.9 423.5 524.0 425.0 525.0 426.9 526.0 429.0 527.0 431.5 528.1 434.1 529.1 436.9 530.1 439.7 531.1 442.5 532.1 445.1 533.2 447.4 534.2 449.4 535.2 450.9 536.2 451.8 537.3 452.1 538.3 451.9 539.3 451.3 540.3 450.5 541.3 449.7 542.4 448.8 543.4 448.0 544.4 447.2 545.4 446.4 546.5 445.6 547.5 444.9 548.5 444.3 549.5 443.8 550.5 443.5 551.6 443.4 552.6 443.6 553.6 443.9 554.6 444.4 555.7 445.1 556.7 445.9 557.7 446.8 558.7 447.7 559.7 448.7 560.8 449.7 561.8 450.8 562.8 451.9 563.8 453.0 564.9 454.1 565.9 455.2 566.9 456.4 567.9 457.5 568.9 458.6 570.0 459.8 571.0 460.9 572.0 462.0 573.0 463.1 574.0 464.2 575.1 465.2 576.1 466.2 577.1 467.1 578.1 468.0 579.2 468.9 580.2 469.6 581.2 470.3 582.2 470.9 583.2 471.4 584.3 471.8 585.3 472.1 586.3 472.3 587.3 472.4 588.4 472.5 589.4 472.5 590.4 472.4 591.4 472.2 592.4 472.0 593.5 471.7 594.5 471.4 595.5 471.1 596.5 470.8 597.6 470.4 598.6 470.1 599.6 469.7 600.6 469.3 601.6 468.9 602.7 468.5 603.7 468.1 604.7 467.6 605.7 467.2 606.8 466.7 607.8 466.3 608.8 465.8 609.8 465.3 610.8 464.7 611.9 464.2 612.9 463.6 613.9 463.0 614.9 462.4 616.0 461.7 617.0 461.1 618.0 460.4 619.0 459.7 620.0 458.9 621.1 458.2 622.1 457.4 623.1 456.6 624.1 455.7 625.1 454.9 626.2 454.1 627.2 453.3 628.2 452.6 629.2 451.8 630.3 451.1 631.3 450.5 632.3 449.8 633.3 449.3 634.3 448.7 635.4 448.2 636.4 447.6 637.4 447.1 638.4 446.6 639.5 446.1 640.5 445.6 641.5 445.0 642.5 444.5 643.5 443.9 644.6 443.3 645.6 442.7 646.6 442.1 647.6 441.5 648.7 441.0 649.7 440.4 650.7 439.9 651.7 439.4 652.7 438.9 653.8 438.4 654.8 437.9 655.8 437.4 656.8 437.0 657.9 436.5 658.9 436.1 659.9 435.6 660.9 435.2 661.9 434.7 663.0 434.3 664.0 433.8 665.0 433.4 666.0 432.9 667.1 432.4 668.1 431.9 669.1 431.4 670.1 430.9 671.1 430.3 672.2 429.8 673.2 429.2 674.2 428.7 675.2 428.1 676.2 427.6 677.3 427.1 678.3 426.6 679.3 426.2 680.3 425.8 681.4 425.4 682.4 425.1 683.4 424.8 684.4 424.6 685.4 424.4 686.5 424.2 687.5 424.1 688.5 424.0 689.5 424.0 690.6 424.0 691.6 424.0 692.6 424.0 693.6 424.1 694.6 424.2 695.7 424.3 696.7 424.5 697.7 424.6 698.7 424.8 699.8 425.0 700.8 425.2 701.8 425.4 702.8 425.7 703.8 425.9 704.9 426.1 705.9 426.4 706.9 426.6 707.9 426.8 709.0 427.1 710.0 427.3 711.0 427.5 712.0 427.8 713.0 428.0 714.1 428.2 715.1 428.4 716.1 428.5 717.1 428.7 718.2 428.8 719.2 429.0 720.2 429.1 721.2 429.2 722.2 429.4 723.3 429.5 724.3 429.6 725.3 429.7 726.3 429.9 727.3 430.0 728.4 430.2 729.4 430.4 730.4 430.6 731.4 430.8 732.5 431.0 733.5 431.2 734.5 431.4 735.5 431.6 736.5 431.8 737.6 432.0 738.6 432.2 739.6 432.4 740.6 432.5 741.7 432.7 742.7 432.9 743.7 433.0 744.7 433.2 745.7 433.3 746.8 433.4 747.8 433.6 748.8 433.7 749.8 433.8 750.9 433.9 751.9 434.1 752.9 434.2 753.9 434.3 754.9 434.5 756.0 434.6 757.0 434.8 758.0 434.9 759.0 435.1 760.1 435.3 761.1 435.5 762.1 435.7 763.1 435.9 764.1 436.2 765.2 436.4 766.2 436.6 767.2 436.8 768.2 437.1 769.2 437.3 770.3 437.5 771.3 437.7 772.3 437.9 773.3 438.1 774.4 438.3 775.4 438.5 776.4 438.6 777.4 438.8 778.4 438.9 779.5 439.0 780.5 439.1 781.5 439.2 782.5 439.3 783.6 439.3 784.6 439.3 785.6 439.3 786.6 439.3 787.6 439.3 788.7 439.2 789.7 439.1 790.7 439.0 791.7 438.9 792.8 438.7 793.8 438.6 794.8 438.4 795.8 438.3 796.8 438.1 797.9 438.0 798.9 437.8 799.9 437.7 800.9 437.5 802.0 437.4 803.0 437.3 804.0 437.2 805.0 437.1 806.0 437.0 807.1 437.0 808.1 436.9 809.1 436.8 810.1 436.8" fill="none" stroke="rgb(10,145,195)" stroke-width="2.6" stroke-dasharray="7.3 1.8 2.7 1.8"/>
<path d="M437.1 427.3 438.1 426.7 439.1 426.1 440.2 425.6 441.2 425.1 442.2 424.6 443.2 424.2 444.3 423.8 445.3 423.6 446.3 423.4 447.3 423.3 448.3 423.4 449.4 423.5 450.4 423.8 451.4 424.1 452.4 424.5 453.5 424.9 454.5 425.3 455.5 425.6 456.5 426.0 457.5 426.3 458.6 426.5 459.6 426.7 460.6 426.7 461.6 426.6 462.7 426.4 463.7 426.1 464.7 425.7 465.7 425.1 466.7 424.5 467.8 423.7 468.8 422.8 469.8 422.0 470.8 421.2 471.8 420.5 472.9 420.0 473.9 419.6 474.9 419.6 475.9 420.0 477.0 421.2 478.0 423.3 479.0 426.5 480.0 429.5 481.0 430.8 482.1 429.2 483.1 425.3 484.1 419.9 485.1 413.6 486.2 406.9 487.2 400.4 488.2 394.3 489.2 389.2 490.2 385.6 491.3 383.8 492.3 384.3 493.3 387.1 494.3 391.6 495.4 397.0 496.4 402.8 497.4 408.2 498.4 412.6 499.4 415.3 500.5 415.8 501.5 414.4 502.5 411.8 503.5 408.6 504.6 405.7 505.6 403.7 506.6 403.2 507.6 404.0 508.6 405.8 509.7 407.9 510.7 410.2 511.7 412.0 512.7 413.1 513.8 413.1 514.8 412.2 515.8 410.8 516.8 409.2 517.8 407.7 518.9 406.6 519.9 406.2 520.9 406.6 521.9 407.8 522.9 409.5 524.0 411.6 525.0 414.1 526.0 416.8 527.0 419.4 528.1 422.0 529.1 424.4 530.1 426.6 531.1 428.4 532.1 429.8 533.2 430.8 534.2 431.1 535.2 430.9 536.2 430.1 537.3 429.0 538.3 427.5 539.3 425.8 540.3 424.0 541.3 422.3 542.4 420.6 543.4 419.1 544.4 417.7 545.4 416.5 546.5 415.4 547.5 414.6 548.5 413.9 549.5 413.4 550.5 413.1 551.6 412.9 552.6 412.8 553.6 412.9 554.6 413.0 555.7 413.3 556.7 413.7 557.7 414.1 558.7 414.7 559.7 415.3 560.8 415.9 561.8 416.7 562.8 417.5 563.8 418.3 564.9 419.2 565.9 420.1 566.9 421.1 567.9 422.0 568.9 423.0 570.0 424.0 571.0 424.9 572.0 425.9 573.0 426.8 574.0 427.6 575.1 428.4 576.1 429.2 577.1 429.9 578.1 430.5 579.2 431.0 580.2 431.4 581.2 431.8 582.2 432.1 583.2 432.3 584.3 432.5 585.3 432.7 586.3 432.8 587.3 432.9 588.4 433.0 589.4 433.1 590.4 433.2 591.4 433.2 592.4 433.3 593.5 433.3 594.5 433.3 595.5 433.3 596.5 433.3 597.6 433.2 598.6 433.1 599.6 433.0 600.6 432.9 601.6 432.7 602.7 432.6 603.7 432.3 604.7 432.1 605.7 431.8 606.8 431.5 607.8 431.2 608.8 430.8 609.8 430.4 610.8 430.0 611.9 429.6 612.9 429.1 613.9 428.6 614.9 428.1 616.0 427.6 617.0 427.0 618.0 426.4 619.0 425.8 620.0 425.1 621.1 424.5 622.1 423.7 623.1 422.9 624.1 422.1 625.1 421.2 626.2 420.2 627.2 419.2 628.2 418.2 629.2 417.3 630.3 416.4 631.3 415.6 632.3 414.9 633.3 414.2 634.3 413.7 635.4 413.2 636.4 412.7 637.4 412.2 638.4 411.8 639.5 411.3 640.5 410.8 641.5 410.2 642.5 409.6 643.5 409.0 644.6 408.3 645.6 407.7 646.6 407.1 647.6 406.5 648.7 406.0 649.7 405.6 650.7 405.2 651.7 404.9 652.7 404.7 653.8 404.5 654.8 404.4 655.8 404.2 656.8 404.1 657.9 403.9 658.9 403.6 659.9 403.3 660.9 402.9 661.9 402.5 663.0 401.9 664.0 401.3 665.0 400.6 666.0 399.9 667.1 399.2 668.1 398.5 669.1 397.7 670.1 397.0 671.1 396.3 672.2 395.6 673.2 395.0 674.2 394.3 675.2 393.7 676.2 393.1 677.3 392.5 678.3 392.0 679.3 391.5 680.3 391.1 681.4 390.6 682.4 390.3 683.4 389.9 684.4 389.7 685.4 389.5 686.5 389.3 687.5 389.2 688.5 389.2 689.5 389.2 690.6 389.4 691.6 389.7 692.6 390.1 693.6 390.7 694.6 391.5 695.7 392.5 696.7 393.5 697.7 394.6 698.7 395.7 699.8 396.7 700.8 397.6 701.8 398.4 702.8 399.0 703.8 399.5 704.9 399.9 705.9 400.2 706.9 400.5 707.9 400.8 709.0 401.0 710.0 401.2 711.0 401.5 712.0 401.8 713.0 402.1 714.1 402.5 715.1 402.9 716.1 403.3 717.1 403.7 718.2 404.1 719.2 404.5 720.2 404.9 721.2 405.2 722.2 405.6 723.3 405.9 724.3 406.3 725.3 406.6 726.3 407.0 727.3 407.4 728.4 407.8 729.4 408.2 730.4 408.7 731.4 409.3 732.5 409.8 733.5 410.5 734.5 411.1 735.5 411.8 736.5 412.5 737.6 413.2 738.6 413.9 739.6 414.5 740.6 415.1 741.7 415.7 742.7 416.1 743.7 416.5 744.7 416.9 745.7 417.2 746.8 417.4 747.8 417.6 748.8 417.8 749.8 418.0 750.9 418.1 751.9 418.3 752.9 418.4 753.9 418.5 754.9 418.6 756.0 418.7 757.0 418.9 758.0 419.0 759.0 419.2 760.1 419.4 761.1 419.6 762.1 419.8 763.1 420.0 764.1 420.2 765.2 420.4 766.2 420.6 767.2 420.7 768.2 420.9 769.2 421.0 770.3 421.1 771.3 421.2 772.3 421.2 773.3 421.2 774.4 421.1 775.4 421.1 776.4 421.0 777.4 420.9 778.4 420.8 779.5 420.7 780.5 420.6 781.5 420.5 782.5 420.3 783.6 420.2 784.6 420.1 785.6 420.0 786.6 420.0 787.6 419.9 788.7 419.9 789.7 419.8 790.7 419.8 791.7 419.8 792.8 419.9 793.8 419.9 794.8 420.0 795.8 420.1 796.8 420.2 797.9 420.4 798.9 420.6 799.9 420.8 800.9 421.0 802.0 421.3 803.0 421.6 804.0 422.0 805.0 422.4 806.0 422.9 807.1 423.4 808.1 423.9 809.1 424.5 810.1 425.0" fill="none" stroke="rgb(224,6,42)" stroke-width="1.8"/>
<path d="M437.1 440.6 438.1 440.6 439.1 440.7 440.2 440.7 441.2 440.8 442.2 440.9 443.2 440.9 444.3 441.0 445.3 441.0 446.3 441.1 447.3 441.1 448.3 441.2 449.4 441.2 450.4 441.3 451.4 441.4 452.4 441.4 453.5 441.5 454.5 441.5 455.5 441.6 456.5 441.6 457.5 441.6 458.6 441.7 459.6 441.7 460.6 441.7 461.6 441.7 462.7 441.6 463.7 441.6 464.7 441.5 465.7 441.4 466.7 441.3 467.8 441.2 468.8 441.3 469.8 441.8 470.8 442.6 471.8 443.9 472.9 445.5 473.9 447.1 474.9 448.4 475.9 449.1 477.0 449.0 478.0 448.2 479.0 447.3 480.0 447.0 481.0 448.0 482.1 450.8 483.1 455.2 484.1 461.0 485.1 467.7 486.2 474.9 487.2 481.8 488.2 488.0 489.2 492.7 490.2 495.4 491.3 495.5 492.3 492.8 493.3 488.0 494.3 481.9 495.4 475.2 496.4 468.9 497.4 463.6 498.4 460.2 499.4 459.4 500.5 461.1 501.5 464.5 502.5 468.6 503.5 472.6 504.6 475.6 505.6 476.8 506.6 475.5 507.6 471.9 508.6 466.5 509.7 459.9 510.7 452.7 511.7 445.3 512.7 438.3 513.8 432.4 514.8 428.0 515.8 425.7 516.8 425.4 517.8 426.5 518.9 428.6 519.9 431.2 520.9 434.1 521.9 437.1 522.9 440.1 524.0 443.0 525.0 445.6 526.0 447.9 527.0 450.0 528.1 451.8 529.1 453.5 530.1 455.2 531.1 457.0 532.1 458.9 533.2 461.1 534.2 463.3 535.2 465.5 536.2 467.3 537.3 468.7 538.3 469.3 539.3 469.2 540.3 468.6 541.3 467.6 542.4 466.3 543.4 464.9 544.4 463.5 545.4 462.3 546.5 461.4 547.5 460.8 548.5 460.5 549.5 460.5 550.5 460.6 551.6 461.0 552.6 461.5 553.6 462.1 554.6 462.9 555.7 463.8 556.7 464.7 557.7 465.8 558.7 466.9 559.7 468.1 560.8 469.3 561.8 470.5 562.8 471.8 563.8 473.0 564.9 474.3 565.9 475.6 566.9 476.9 567.9 478.2 568.9 479.5 570.0 480.8 571.0 482.1 572.0 483.4 573.0 484.7 574.0 485.9 575.1 487.2 576.1 488.4 577.1 489.6 578.1 490.8 579.2 491.9 580.2 493.0 581.2 494.0 582.2 495.0 583.2 495.9 584.3 496.7 585.3 497.5 586.3 498.1 587.3 498.7 588.4 499.3 589.4 499.7 590.4 500.1 591.4 500.4 592.4 500.6 593.5 500.8 594.5 500.8 595.5 500.8 596.5 500.8 597.6 500.6 598.6 500.4 599.6 500.1 600.6 499.7 601.6 499.3 602.7 498.8 603.7 498.3 604.7 497.6 605.7 497.0 606.8 496.2 607.8 495.5 608.8 494.7 609.8 493.8 610.8 493.0 611.9 492.2 612.9 491.4 613.9 490.7 614.9 489.9 616.0 489.2 617.0 488.5 618.0 487.9 619.0 487.2 620.0 486.6 621.1 485.9 622.1 485.3 623.1 484.6 624.1 483.9 625.1 483.1 626.2 482.3 627.2 481.5 628.2 480.6 629.2 479.7 630.3 478.9 631.3 478.0 632.3 477.2 633.3 476.4 634.3 475.6 635.4 474.8 636.4 474.0 637.4 473.2 638.4 472.4 639.5 471.6 640.5 470.8 641.5 470.0 642.5 469.2 643.5 468.4 644.6 467.5 645.6 466.7 646.6 465.8 647.6 465.0 648.7 464.2 649.7 463.4 650.7 462.6 651.7 461.8 652.7 461.1 653.8 460.3 654.8 459.6 655.8 458.9 656.8 458.2 657.9 457.5 658.9 456.8 659.9 456.1 660.9 455.5 661.9 454.8 663.0 454.1 664.0 453.4 665.0 452.7 666.0 452.0 667.1 451.3 668.1 450.6 669.1 449.8 670.1 449.0 671.1 448.1 672.2 447.3 673.2 446.4 674.2 445.6 675.2 444.8 676.2 444.1 677.3 443.4 678.3 442.9 679.3 442.4 680.3 442.1 681.4 441.9 682.4 441.8 683.4 441.7 684.4 441.8 685.4 441.8 686.5 441.8 687.5 441.8 688.5 441.8 689.5 441.7 690.6 441.5 691.6 441.2 692.6 441.0 693.6 440.7 694.6 440.4 695.7 440.2 696.7 440.0 697.7 439.9 698.7 440.0 699.8 440.2 700.8 440.4 701.8 440.7 702.8 441.1 703.8 441.4 704.9 441.7 705.9 442.1 706.9 442.3 707.9 442.6 709.0 442.8 710.0 443.0 711.0 443.2 712.0 443.4 713.0 443.5 714.1 443.6 715.1 443.8 716.1 443.9 717.1 443.9 718.2 444.0 719.2 444.1 720.2 444.1 721.2 444.1 722.2 444.2 723.3 444.2 724.3 444.2 725.3 444.2 726.3 444.1 727.3 444.1 728.4 444.1 729.4 444.0 730.4 443.9 731.4 443.9 732.5 443.8 733.5 443.7 734.5 443.6 735.5 443.5 736.5 443.4 737.6 443.3 738.6 443.2 739.6 443.2 740.6 443.1 741.7 443.1 742.7 443.2 743.7 443.2 744.7 443.3 745.7 443.4 746.8 443.5 747.8 443.6 748.8 443.8 749.8 443.9 750.9 444.1 751.9 444.3 752.9 444.5 753.9 444.7 754.9 444.9 756.0 445.1 757.0 445.4 758.0 445.6 759.0 445.8 760.1 446.1 761.1 446.3 762.1 446.6 763.1 446.8 764.1 447.1 765.2 447.3 766.2 447.6 767.2 447.9 768.2 448.3 769.2 448.6 770.3 449.0 771.3 449.3 772.3 449.7 773.3 450.1 774.4 450.5 775.4 450.9 776.4 451.3 777.4 451.7 778.4 452.0 779.5 452.2 780.5 452.4 781.5 452.5 782.5 452.5 783.6 452.5 784.6 452.4 785.6 452.2 786.6 451.9 787.6 451.7 788.7 451.3 789.7 451.0 790.7 450.6 791.7 450.3 792.8 449.9 793.8 449.5 794.8 449.1 795.8 448.8 796.8 448.4 797.9 447.9 798.9 447.5 799.9 447.0 800.9 446.5 802.0 446.0 803.0 445.4 804.0 444.7 805.0 444.1 806.0 443.4 807.1 442.7 808.1 442.0 809.1 441.2 810.1 440.5" fill="none" stroke="rgb(224,6,42)" stroke-width="1.8"/>
<path d="M437.1 434.4 438.1 434.2 439.1 433.9 440.2 433.6 441.2 433.4 442.2 433.2 443.2 433.0 444.3 432.8 445.3 432.7 446.3 432.6 447.3 432.5 448.3 432.5 449.4 432.6 450.4 432.6 451.4 432.7 452.4 432.9 453.5 433.0 454.5 433.1 455.5 433.3 456.5 433.4 457.5 433.5 458.6 433.6 459.6 433.6 460.6 433.6 461.6 433.6 462.7 433.5 463.7 433.5 464.7 433.4 465.7 433.4 466.7 433.4 467.8 433.4 468.8 433.5 469.8 433.6 470.8 433.8 471.8 434.0 472.9 434.3 473.9 434.7 474.9 435.2 475.9 435.7 477.0 436.4 478.0 437.2 479.0 438.0 480.0 438.9 481.0 439.8 482.1 440.7 483.1 441.5 484.1 442.2 485.1 442.7 486.2 443.0 487.2 443.2 488.2 443.1 489.2 442.8 490.2 442.3 491.3 441.6 492.3 440.8 493.3 439.8 494.3 438.8 495.4 437.8 496.4 437.0 497.4 436.4 498.4 436.2 499.4 436.4 500.5 437.0 501.5 437.7 502.5 438.7 503.5 439.6 504.6 440.4 505.6 440.8 506.6 440.6 507.6 439.6 508.6 437.9 509.7 435.8 510.7 433.3 511.7 430.8 512.7 428.2 513.8 425.8 514.8 423.6 515.8 421.6 516.8 420.0 517.8 418.7 518.9 418.0 519.9 417.8 520.9 418.0 521.9 418.8 522.9 419.9 524.0 421.4 525.0 423.2 526.0 425.3 527.0 427.7 528.1 430.4 529.1 433.1 530.1 435.9 531.1 438.7 532.1 441.2 533.2 443.5 534.2 445.4 535.2 446.9 536.2 447.7 537.3 447.9 538.3 447.7 539.3 447.1 540.3 446.2 541.3 445.3 542.4 444.3 543.4 443.4 544.4 442.5 545.4 441.6 546.5 440.8 547.5 439.9 548.5 439.2 549.5 438.6 550.5 438.2 551.6 438.0 552.6 438.0 553.6 438.3 554.6 438.7 555.7 439.2 556.7 439.9 557.7 440.6 558.7 441.4 559.7 442.3 560.8 443.2 561.8 444.2 562.8 445.2 563.8 446.2 564.9 447.2 565.9 448.3 566.9 449.3 567.9 450.4 568.9 451.5 570.0 452.6 571.0 453.7 572.0 454.9 573.0 456.0 574.0 457.1 575.1 458.1 576.1 459.2 577.1 460.2 578.1 461.2 579.2 462.1 580.2 463.0 581.2 463.8 582.2 464.5 583.2 465.2 584.3 465.8 585.3 466.3 586.3 466.7 587.3 467.0 588.4 467.3 589.4 467.5 590.4 467.6 591.4 467.6 592.4 467.6 593.5 467.6 594.5 467.5 595.5 467.4 596.5 467.3 597.6 467.1 598.6 467.0 599.6 466.8 600.6 466.6 601.6 466.3 602.7 466.1 603.7 465.8 604.7 465.5 605.7 465.2 606.8 464.8 607.8 464.4 608.8 464.0 609.8 463.5 610.8 463.0 611.9 462.5 612.9 461.9 613.9 461.3 614.9 460.7 616.0 460.1 617.0 459.4 618.0 458.6 619.0 457.8 620.0 457.0 621.1 456.2 622.1 455.3 623.1 454.4 624.1 453.5 625.1 452.6 626.2 451.7 627.2 450.8 628.2 449.9 629.2 449.0 630.3 448.2 631.3 447.4 632.3 446.7 633.3 446.0 634.3 445.3 635.4 444.6 636.4 443.9 637.4 443.3 638.4 442.6 639.5 442.0 640.5 441.3 641.5 440.6 642.5 439.9 643.5 439.2 644.6 438.4 645.6 437.7 646.6 436.9 647.6 436.2 648.7 435.5 649.7 434.8 650.7 434.1 651.7 433.4 652.7 432.8 653.8 432.1 654.8 431.5 655.8 430.9 656.8 430.3 657.9 429.7 658.9 429.1 659.9 428.5 660.9 427.9 661.9 427.3 663.0 426.7 664.0 426.2 665.0 425.6 666.0 425.0 667.1 424.4 668.1 423.8 669.1 423.2 670.1 422.6 671.1 422.0 672.2 421.4 673.2 420.8 674.2 420.2 675.2 419.7 676.2 419.1 677.3 418.6 678.3 418.1 679.3 417.7 680.3 417.3 681.4 417.0 682.4 416.7 683.4 416.5 684.4 416.3 685.4 416.2 686.5 416.2 687.5 416.1 688.5 416.1 689.5 416.2 690.6 416.3 691.6 416.4 692.6 416.6 693.6 416.8 694.6 417.0 695.7 417.3 696.7 417.5 697.7 417.8 698.7 418.1 699.8 418.5 700.8 418.8 701.8 419.2 702.8 419.5 703.8 419.9 704.9 420.3 705.9 420.6 706.9 421.0 707.9 421.3 709.0 421.7 710.0 422.1 711.0 422.4 712.0 422.7 713.0 423.0 714.1 423.3 715.1 423.6 716.1 423.9 717.1 424.1 718.2 424.3 719.2 424.6 720.2 424.8 721.2 425.0 722.2 425.2 723.3 425.3 724.3 425.5 725.3 425.7 726.3 425.9 727.3 426.1 728.4 426.3 729.4 426.5 730.4 426.7 731.4 427.0 732.5 427.2 733.5 427.4 734.5 427.6 735.5 427.9 736.5 428.1 737.6 428.3 738.6 428.5 739.6 428.7 740.6 428.9 741.7 429.1 742.7 429.3 743.7 429.4 744.7 429.6 745.7 429.7 746.8 429.8 747.8 430.0 748.8 430.1 749.8 430.2 750.9 430.4 751.9 430.5 752.9 430.6 753.9 430.8 754.9 430.9 756.0 431.1 757.0 431.2 758.0 431.4 759.0 431.6 760.1 431.8 761.1 432.0 762.1 432.2 763.1 432.4 764.1 432.6 765.2 432.8 766.2 433.1 767.2 433.3 768.2 433.5 769.2 433.7 770.3 434.0 771.3 434.2 772.3 434.4 773.3 434.6 774.4 434.8 775.4 434.9 776.4 435.1 777.4 435.2 778.4 435.4 779.5 435.5 780.5 435.6 781.5 435.7 782.5 435.7 783.6 435.8 784.6 435.8 785.6 435.8 786.6 435.8 787.6 435.7 788.7 435.7 789.7 435.6 790.7 435.5 791.7 435.3 792.8 435.2 793.8 435.1 794.8 434.9 795.8 434.8 796.8 434.6 797.9 434.4 798.9 434.3 799.9 434.1 800.9 434.0 802.0 433.9 803.0 433.8 804.0 433.7 805.0 433.6 806.0 433.5 807.1 433.4 808.1 433.4 809.1 433.3 810.1 433.2" fill="none" stroke="rgb(224,6,42)" stroke-width="3"/>
</g>
<rect x="56.7" y="350.1" width="372.8" height="169.7" fill="none" stroke="#151515" stroke-width="1.6"/>
<path d="M107.8 519.8v-4.3M107.8 350.1v4.3M210 519.8v-4.3M210 350.1v4.3M312.2 519.8v-4.3M312.2 350.1v4.3M414.4 519.8v-4.3M414.4 350.1v4.3" stroke="#151515" stroke-width="1.5" fill="none"/>
<path d="M56.7 505.7h4.3M429.5 505.7h-4.3M56.7 435h4.3M429.5 435h-4.3M56.7 364.3h4.3M429.5 364.3h-4.3" stroke="#151515" stroke-width="1.5" fill="none"/>
<text x="107.4" y="541.8" font-size="17" text-anchor="middle" fill="#1e1e1e">0</text>
<text x="209.6" y="541.8" font-size="17" text-anchor="middle" fill="#1e1e1e">100</text>
<text x="311.8" y="541.8" font-size="17" text-anchor="middle" fill="#1e1e1e">200</text>
<text x="414" y="541.8" font-size="17" text-anchor="middle" fill="#1e1e1e">300</text>
<text x="243.1" y="562.2" font-size="16.5" text-anchor="middle" font-weight="bold" fill="#1e1e1e">time (ms)</text>
<rect x="437.1" y="350.1" width="373" height="169.7" fill="none" stroke="#151515" stroke-width="1.6"/>
<path d="M488.2 519.8v-4.3M488.2 350.1v4.3M590.4 519.8v-4.3M590.4 350.1v4.3M692.6 519.8v-4.3M692.6 350.1v4.3M794.8 519.8v-4.3M794.8 350.1v4.3" stroke="#151515" stroke-width="1.5" fill="none"/>
<path d="M437.1 505.7h4.3M810.1 505.7h-4.3M437.1 435h4.3M810.1 435h-4.3M437.1 364.3h4.3M810.1 364.3h-4.3" stroke="#151515" stroke-width="1.5" fill="none"/>
<text x="487.8" y="541.8" font-size="17" text-anchor="middle" fill="#1e1e1e">0</text>
<text x="590" y="541.8" font-size="17" text-anchor="middle" fill="#1e1e1e">100</text>
<text x="692.2" y="541.8" font-size="17" text-anchor="middle" fill="#1e1e1e">200</text>
<text x="794.4" y="541.8" font-size="17" text-anchor="middle" fill="#1e1e1e">300</text>
<text x="623.6" y="562.2" font-size="16.5" text-anchor="middle" font-weight="bold" fill="#1e1e1e">time (ms)</text>
<text x="49.7" y="511.5" font-size="17" text-anchor="end" fill="#1e1e1e">-10</text>
<text x="49.7" y="440.8" font-size="17" text-anchor="end" fill="#1e1e1e">0</text>
<text x="49.7" y="370.1" font-size="17" text-anchor="end" fill="#1e1e1e">10</text>
<text x="433.7" y="345.1" font-size="16.5" text-anchor="middle" font-weight="bold" fill="#000">Single pulse TMS-EEG</text>
<text transform="translate(17.5 435.2) rotate(-90)" font-size="16.5" text-anchor="middle" font-weight="bold" fill="#1e1e1e">amplitude (<tspan font-style="italic" font-weight="normal" font-family="Liberation Serif, serif" font-size="17">μ</tspan>V)</text>
<defs><clipPath id="cp0"><rect x="56.6" y="595.1" width="243.1" height="170.3"/></clipPath><clipPath id="cp1"><rect x="311.3" y="595.1" width="243.1" height="170.3"/></clipPath><clipPath id="cp2"><rect x="566" y="595.1" width="243.1" height="170.3"/></clipPath></defs>
<g clip-path="url(#cp0)">
<path d="M67.7 697.3 122.9 662.1 178.2 624.1 233.4 639.2 288.7 632.8 L288.7 688.7 233.4 713.7 178.2 742.7 122.9 754.0 67.7 762.0Z" fill="rgb(224,6,42)" fill-opacity="0.25" stroke="none"/>
<path d="M67.7 697.3 122.9 662.1 178.2 624.1 233.4 639.2 288.7 632.8" fill="none" stroke="rgb(224,6,42)" stroke-width="1.8"/>
<path d="M67.7 762.0 122.9 754.0 178.2 742.7 233.4 713.7 288.7 688.7" fill="none" stroke="rgb(224,6,42)" stroke-width="1.8"/>
<path d="M67.7 709.8 122.9 674.0 178.2 614.4 233.4 601.3 288.7 624.4 L288.7 702.3 233.4 726.5 178.2 748.9 122.9 751.8 67.7 761.2Z" fill="rgb(35,170,35)" fill-opacity="0.085" stroke="none"/>
<path d="M67.7 708.6 122.9 674.6 178.2 638.8 233.4 628.3 288.7 632.9 L288.7 697.1 233.4 705.5 178.2 732.8 122.9 759.7 67.7 765.4Z" fill="rgb(35,170,35)" fill-opacity="0.085" stroke="none"/>
<path d="M67.7 710.9 122.9 681.4 178.2 650.7 233.4 631.8 288.7 644.4 L288.7 708.6 233.4 704.4 178.2 742.7 122.9 762.0 67.7 764.3Z" fill="rgb(35,170,35)" fill-opacity="0.085" stroke="none"/>
<path d="M67.7 731.3 122.9 676.8 178.2 640.5 233.4 605.5 288.7 632.9 L288.7 708.6 233.4 717.0 178.2 729.6 122.9 756.3 67.7 765.4Z" fill="rgb(35,170,35)" fill-opacity="0.085" stroke="none"/>
<path d="M67.7 709.8 122.9 674.0 178.2 614.4 233.4 601.3 288.7 624.4" fill="none" stroke="rgb(35,170,35)" stroke-width="1.8"/>
<path d="M67.7 761.2 122.9 751.8 178.2 748.9 233.4 726.5 288.7 702.3" fill="none" stroke="rgb(35,170,35)" stroke-width="1.8"/>
<path d="M67.7 708.6 122.9 674.6 178.2 638.8 233.4 628.3 288.7 632.9" fill="none" stroke="rgb(35,170,35)" stroke-width="1.8" stroke-dasharray="8.8 7.15"/>
<path d="M67.7 765.4 122.9 759.7 178.2 732.8 233.4 705.5 288.7 697.1" fill="none" stroke="rgb(35,170,35)" stroke-width="1.8" stroke-dasharray="8.8 7.15"/>
<path d="M67.7 710.9 122.9 681.4 178.2 650.7 233.4 631.8 288.7 644.4" fill="none" stroke="rgb(35,170,35)" stroke-width="1.8" stroke-dasharray="2.31 1.76"/>
<path d="M67.7 764.3 122.9 762.0 178.2 742.7 233.4 704.4 288.7 708.6" fill="none" stroke="rgb(35,170,35)" stroke-width="1.8" stroke-dasharray="2.31 1.76"/>
<path d="M67.7 731.3 122.9 676.8 178.2 640.5 233.4 605.5 288.7 632.9" fill="none" stroke="rgb(35,170,35)" stroke-width="1.8" stroke-dasharray="8.03 1.98 2.97 1.98"/>
<path d="M67.7 765.4 122.9 756.3 178.2 729.6 233.4 717.0 288.7 708.6" fill="none" stroke="rgb(35,170,35)" stroke-width="1.8" stroke-dasharray="8.03 1.98 2.97 1.98"/>
</g>
<path d="M67.7 737.0 122.9 716.6 178.2 683.7 233.4 662.7 288.7 662.7" fill="none" stroke="rgb(35,170,35)" stroke-width="2.8"/>
<rect x="63.35" y="732.72" width="8.6" height="8.6" rx="0.8" fill="#fff" stroke="rgb(35,170,35)" stroke-width="2.4" stroke-linejoin="round"/>
<rect x="118.6" y="712.28" width="8.6" height="8.6" rx="0.8" fill="#fff" stroke="rgb(35,170,35)" stroke-width="2.4" stroke-linejoin="round"/>
<rect x="173.85" y="679.36" width="8.6" height="8.6" rx="0.8" fill="#fff" stroke="rgb(35,170,35)" stroke-width="2.4" stroke-linejoin="round"/>
<rect x="229.1" y="658.35" width="8.6" height="8.6" rx="0.8" fill="#fff" stroke="rgb(35,170,35)" stroke-width="2.4" stroke-linejoin="round"/>
<rect x="284.35" y="658.35" width="8.6" height="8.6" rx="0.8" fill="#fff" stroke="rgb(35,170,35)" stroke-width="2.4" stroke-linejoin="round"/>
<path d="M67.7 740.4 122.9 717.7 178.2 684.8 233.4 666.6 288.7 670.0" fill="none" stroke="rgb(35,170,35)" stroke-width="2.8" stroke-dasharray="8 6.5"/>
<path d="M63.35 740.42H71.95M67.65 736.12V744.72M64.55 737.33L70.75 743.52M64.55 743.52L70.75 737.33" stroke="rgb(35,170,35)" stroke-width="2.4" fill="none"/>
<path d="M118.6 717.72H127.2M122.9 713.42V722.02M119.8 714.62L126 720.81M119.8 720.81L126 714.62" stroke="rgb(35,170,35)" stroke-width="2.4" fill="none"/>
<path d="M173.85 684.79H182.45M178.15 680.49V689.09M175.05 681.7L181.25 687.89M175.05 687.89L181.25 681.7" stroke="rgb(35,170,35)" stroke-width="2.4" fill="none"/>
<path d="M229.1 666.63H237.7M233.4 662.33V670.93M230.3 663.53L236.5 669.72M230.3 669.72L236.5 663.53" stroke="rgb(35,170,35)" stroke-width="2.4" fill="none"/>
<path d="M284.35 670.03H292.95M288.65 665.73V674.33M285.55 666.94L291.75 673.13M285.55 673.13L291.75 666.94" stroke="rgb(35,170,35)" stroke-width="2.4" fill="none"/>
<path d="M67.7 734.7 122.9 720.0 178.2 698.4 233.4 671.2 288.7 676.0" fill="none" stroke="rgb(35,170,35)" stroke-width="2.8" stroke-dasharray="2.1 1.6"/>
<path d="M63.35 734.75H71.95M67.65 730.45V739.05" stroke="rgb(35,170,35)" stroke-width="2.4" fill="none"/>
<path d="M118.6 719.99H127.2M122.9 715.69V724.29" stroke="rgb(35,170,35)" stroke-width="2.4" fill="none"/>
<path d="M173.85 698.42H182.45M178.15 694.12V702.72" stroke="rgb(35,170,35)" stroke-width="2.4" fill="none"/>
<path d="M229.1 671.17H237.7M233.4 666.87V675.47" stroke="rgb(35,170,35)" stroke-width="2.4" fill="none"/>
<path d="M284.35 676.05H292.95M288.65 671.75V680.35" stroke="rgb(35,170,35)" stroke-width="2.4" fill="none"/>
<path d="M67.7 747.5 122.9 717.7 178.2 688.2 233.4 666.6 288.7 668.9" fill="none" stroke="rgb(35,170,35)" stroke-width="2.8" stroke-dasharray="7.3 1.8 2.7 1.8"/>
<path d="M64.43 744.24L70.88 750.69M64.43 750.69L70.88 744.24" stroke="rgb(35,170,35)" stroke-width="2.4" fill="none"/>
<path d="M119.68 714.49L126.12 720.94M119.68 720.94L126.12 714.49" stroke="rgb(35,170,35)" stroke-width="2.4" fill="none"/>
<path d="M174.93 684.97L181.38 691.42M174.93 691.42L181.38 684.97" stroke="rgb(35,170,35)" stroke-width="2.4" fill="none"/>
<path d="M230.18 663.4L236.62 669.85M230.18 669.85L236.62 663.4" stroke="rgb(35,170,35)" stroke-width="2.4" fill="none"/>
<path d="M285.43 665.67L291.88 672.12M285.43 672.12L291.88 665.67" stroke="rgb(35,170,35)" stroke-width="2.4" fill="none"/>
<path d="M67.7 729.6 122.9 709.2 178.2 683.1 233.4 676.3 288.7 660.4" fill="none" stroke="rgb(224,6,42)" stroke-width="3"/>
<circle cx="67.65" cy="729.64" r="4.6" fill="#fff" stroke="rgb(224,6,42)" stroke-width="2.4"/>
<circle cx="122.9" cy="709.2" r="4.6" fill="#fff" stroke="rgb(224,6,42)" stroke-width="2.4"/>
<circle cx="178.15" cy="683.09" r="4.6" fill="#fff" stroke="rgb(224,6,42)" stroke-width="2.4"/>
<circle cx="233.4" cy="676.28" r="4.6" fill="#fff" stroke="rgb(224,6,42)" stroke-width="2.4"/>
<circle cx="288.65" cy="660.38" r="4.6" fill="#fff" stroke="rgb(224,6,42)" stroke-width="2.4"/>
<g clip-path="url(#cp1)">
<path d="M322.4 697.3 377.6 662.1 432.9 624.1 488.1 639.2 543.4 632.8 L543.4 688.7 488.1 713.7 432.9 742.7 377.6 754.0 322.4 762.0Z" fill="rgb(224,6,42)" fill-opacity="0.25" stroke="none"/>
<path d="M322.4 697.3 377.6 662.1 432.9 624.1 488.1 639.2 543.4 632.8" fill="none" stroke="rgb(224,6,42)" stroke-width="1.8"/>
<path d="M322.4 762.0 377.6 754.0 432.9 742.7 488.1 713.7 543.4 688.7" fill="none" stroke="rgb(224,6,42)" stroke-width="1.8"/>
<path d="M322.4 725.4 377.6 677.0 432.9 652.8 488.1 656.0 543.4 655.3 L543.4 708.6 488.1 727.5 432.9 763.5 377.6 769.9 322.4 774.5Z" fill="rgb(10,145,195)" fill-opacity="0.1" stroke="none"/>
<path d="M322.4 715.4 377.6 661.3 432.9 639.4 488.1 612.9 543.4 633.9 L543.4 706.5 488.1 718.3 432.9 751.0 377.6 767.7 322.4 771.1Z" fill="rgb(10,145,195)" fill-opacity="0.1" stroke="none"/>
<path d="M322.4 718.9 377.6 687.1 432.9 660.9 488.1 626.9 543.4 634.8 L543.4 714.8 488.1 720.2 432.9 754.0 377.6 768.8 322.4 772.2Z" fill="rgb(10,145,195)" fill-opacity="0.1" stroke="none"/>
<path d="M322.4 704.4 377.6 690.7 432.9 651.9 488.1 625.5 543.4 625.1 L543.4 707.5 488.1 715.1 432.9 756.5 377.6 766.5 322.4 769.9Z" fill="rgb(10,145,195)" fill-opacity="0.1" stroke="none"/>
<path d="M322.4 725.4 377.6 677.0 432.9 652.8 488.1 656.0 543.4 655.3" fill="none" stroke="rgb(10,145,195)" stroke-width="1.8"/>
<path d="M322.4 774.5 377.6 769.9 432.9 763.5 488.1 727.5 543.4 708.6" fill="none" stroke="rgb(10,145,195)" stroke-width="1.8"/>
<path d="M322.4 715.4 377.6 661.3 432.9 639.4 488.1 612.9 543.4 633.9" fill="none" stroke="rgb(10,145,195)" stroke-width="1.8" stroke-dasharray="8.8 7.15"/>
<path d="M322.4 771.1 377.6 767.7 432.9 751.0 488.1 718.3 543.4 706.5" fill="none" stroke="rgb(10,145,195)" stroke-width="1.8" stroke-dasharray="8.8 7.15"/>
<path d="M322.4 718.9 377.6 687.1 432.9 660.9 488.1 626.9 543.4 634.8" fill="none" stroke="rgb(10,145,195)" stroke-width="1.8" stroke-dasharray="2.31 1.76"/>
<path d="M322.4 772.2 377.6 768.8 432.9 754.0 488.1 720.2 543.4 714.8" fill="none" stroke="rgb(10,145,195)" stroke-width="1.8" stroke-dasharray="2.31 1.76"/>
<path d="M322.4 704.4 377.6 690.7 432.9 651.9 488.1 625.5 543.4 625.1" fill="none" stroke="rgb(10,145,195)" stroke-width="1.8" stroke-dasharray="8.03 1.98 2.97 1.98"/>
<path d="M322.4 769.9 377.6 766.5 432.9 756.5 488.1 715.1 543.4 707.5" fill="none" stroke="rgb(10,145,195)" stroke-width="1.8" stroke-dasharray="8.03 1.98 2.97 1.98"/>
</g>
<path d="M322.4 746.4 377.6 725.7 432.9 705.5 488.1 691.8 543.4 682.3" fill="none" stroke="rgb(10,145,195)" stroke-width="2.8"/>
<rect x="318.05" y="742.14" width="8.6" height="8.6" rx="0.8" fill="#fff" stroke="rgb(10,145,195)" stroke-width="2.4" stroke-linejoin="round"/>
<rect x="373.3" y="721.36" width="8.6" height="8.6" rx="0.8" fill="#fff" stroke="rgb(10,145,195)" stroke-width="2.4" stroke-linejoin="round"/>
<rect x="428.55" y="701.15" width="8.6" height="8.6" rx="0.8" fill="#fff" stroke="rgb(10,145,195)" stroke-width="2.4" stroke-linejoin="round"/>
<rect x="483.8" y="687.53" width="8.6" height="8.6" rx="0.8" fill="#fff" stroke="rgb(10,145,195)" stroke-width="2.4" stroke-linejoin="round"/>
<rect x="539.05" y="677.99" width="8.6" height="8.6" rx="0.8" fill="#fff" stroke="rgb(10,145,195)" stroke-width="2.4" stroke-linejoin="round"/>
<path d="M322.4 745.0 377.6 724.5 432.9 690.5 488.1 666.6 543.4 666.1" fill="none" stroke="rgb(10,145,195)" stroke-width="2.8" stroke-dasharray="8 6.5"/>
<path d="M318.05 744.96H326.65M322.35 740.66V749.26M319.25 741.87L325.45 748.06M319.25 748.06L325.45 741.87" stroke="rgb(10,145,195)" stroke-width="2.4" fill="none"/>
<path d="M373.3 724.53H381.9M377.6 720.23V728.83M374.5 721.43L380.7 727.62M374.5 727.62L380.7 721.43" stroke="rgb(10,145,195)" stroke-width="2.4" fill="none"/>
<path d="M428.55 690.47H437.15M432.85 686.17V694.77M429.75 687.37L435.95 693.56M429.75 693.56L435.95 687.37" stroke="rgb(10,145,195)" stroke-width="2.4" fill="none"/>
<path d="M483.8 666.63H492.4M488.1 662.33V670.93M485 663.53L491.2 669.72M485 669.72L491.2 663.53" stroke="rgb(10,145,195)" stroke-width="2.4" fill="none"/>
<path d="M539.05 666.06H547.65M543.35 661.76V670.36M540.25 662.96L546.45 669.15M540.25 669.15L546.45 662.96" stroke="rgb(10,145,195)" stroke-width="2.4" fill="none"/>
<path d="M322.4 743.8 377.6 726.8 432.9 696.1 488.1 673.4 543.4 674.6" fill="none" stroke="rgb(10,145,195)" stroke-width="2.8" stroke-dasharray="2.1 1.6"/>
<path d="M318.05 743.83H326.65M322.35 739.53V748.13" stroke="rgb(10,145,195)" stroke-width="2.4" fill="none"/>
<path d="M373.3 726.8H381.9M377.6 722.5V731.1" stroke="rgb(10,145,195)" stroke-width="2.4" fill="none"/>
<path d="M428.55 696.14H437.15M432.85 691.84V700.44" stroke="rgb(10,145,195)" stroke-width="2.4" fill="none"/>
<path d="M483.8 673.44H492.4M488.1 669.14V677.74" stroke="rgb(10,145,195)" stroke-width="2.4" fill="none"/>
<path d="M539.05 674.57H547.65M543.35 670.27V678.87" stroke="rgb(10,145,195)" stroke-width="2.4" fill="none"/>
<path d="M322.4 740.4 377.6 724.5 432.9 687.6 488.1 663.4 543.4 668.9" fill="none" stroke="rgb(10,145,195)" stroke-width="2.8" stroke-dasharray="7.3 1.8 2.7 1.8"/>
<path d="M319.12 737.2L325.58 743.65M319.12 743.65L325.58 737.2" stroke="rgb(10,145,195)" stroke-width="2.4" fill="none"/>
<path d="M374.38 721.3L380.83 727.75M374.38 727.75L380.83 721.3" stroke="rgb(10,145,195)" stroke-width="2.4" fill="none"/>
<path d="M429.62 684.4L436.08 690.85M429.62 690.85L436.08 684.4" stroke="rgb(10,145,195)" stroke-width="2.4" fill="none"/>
<path d="M484.88 660.22L491.33 666.67M484.88 666.67L491.33 660.22" stroke="rgb(10,145,195)" stroke-width="2.4" fill="none"/>
<path d="M540.12 665.67L546.58 672.12M540.12 672.12L546.58 665.67" stroke="rgb(10,145,195)" stroke-width="2.4" fill="none"/>
<path d="M322.4 729.6 377.6 709.2 432.9 683.1 488.1 676.3 543.4 660.4" fill="none" stroke="rgb(224,6,42)" stroke-width="3"/>
<circle cx="322.35" cy="729.64" r="4.6" fill="#fff" stroke="rgb(224,6,42)" stroke-width="2.4"/>
<circle cx="377.6" cy="709.2" r="4.6" fill="#fff" stroke="rgb(224,6,42)" stroke-width="2.4"/>
<circle cx="432.85" cy="683.09" r="4.6" fill="#fff" stroke="rgb(224,6,42)" stroke-width="2.4"/>
<circle cx="488.1" cy="676.28" r="4.6" fill="#fff" stroke="rgb(224,6,42)" stroke-width="2.4"/>
<circle cx="543.35" cy="660.38" r="4.6" fill="#fff" stroke="rgb(224,6,42)" stroke-width="2.4"/>
<g clip-path="url(#cp2)">
<path d="M577.0 697.3 632.3 662.1 687.5 624.1 742.8 639.2 798.0 632.8 L798.0 688.7 742.8 713.7 687.5 742.7 632.3 754.0 577.0 762.0Z" fill="rgb(224,6,42)" fill-opacity="0.25" stroke="none"/>
<path d="M577.0 697.3 632.3 662.1 687.5 624.1 742.8 639.2 798.0 632.8" fill="none" stroke="rgb(224,6,42)" stroke-width="1.8"/>
<path d="M577.0 762.0 632.3 754.0 687.5 742.7 742.8 713.7 798.0 688.7" fill="none" stroke="rgb(224,6,42)" stroke-width="1.8"/>
<path d="M577.0 693.9 632.3 683.3 687.5 636.0 742.8 621.9 798.0 626.5 L798.0 712.8 742.8 718.3 687.5 733.3 632.3 756.9 577.0 762.1Z" fill="rgb(240,125,20)" fill-opacity="0.1" stroke="none"/>
<path d="M577.0 721.1 632.3 673.4 687.5 623.5 742.8 624.1 798.0 633.9 L798.0 710.2 742.8 699.1 687.5 739.3 632.3 764.8 577.0 765.4Z" fill="rgb(240,125,20)" fill-opacity="0.1" stroke="none"/>
<path d="M577.0 693.9 632.3 683.3 687.5 636.0 742.8 621.9 798.0 626.5" fill="none" stroke="rgb(240,125,20)" stroke-width="1.8"/>
<path d="M577.0 762.1 632.3 756.9 687.5 733.3 742.8 718.3 798.0 712.8" fill="none" stroke="rgb(240,125,20)" stroke-width="1.8"/>
<path d="M577.0 721.1 632.3 673.4 687.5 623.5 742.8 624.1 798.0 633.9" fill="none" stroke="rgb(240,125,20)" stroke-width="1.8" stroke-dasharray="8.8 7.15"/>
<path d="M577.0 765.4 632.3 764.8 687.5 739.3 742.8 699.1 798.0 710.2" fill="none" stroke="rgb(240,125,20)" stroke-width="1.8" stroke-dasharray="8.8 7.15"/>
</g>
<path d="M577.0 728.6 632.3 722.3 687.5 684.2 742.8 669.7 798.0 670.8" fill="none" stroke="rgb(240,125,20)" stroke-width="2.8"/>
<rect x="572.75" y="724.32" width="8.6" height="8.6" rx="0.8" fill="#fff" stroke="rgb(240,125,20)" stroke-width="2.4" stroke-linejoin="round"/>
<rect x="628" y="717.96" width="8.6" height="8.6" rx="0.8" fill="#fff" stroke="rgb(240,125,20)" stroke-width="2.4" stroke-linejoin="round"/>
<rect x="683.25" y="679.92" width="8.6" height="8.6" rx="0.8" fill="#fff" stroke="rgb(240,125,20)" stroke-width="2.4" stroke-linejoin="round"/>
<rect x="738.5" y="665.39" width="8.6" height="8.6" rx="0.8" fill="#fff" stroke="rgb(240,125,20)" stroke-width="2.4" stroke-linejoin="round"/>
<rect x="793.75" y="666.53" width="8.6" height="8.6" rx="0.8" fill="#fff" stroke="rgb(240,125,20)" stroke-width="2.4" stroke-linejoin="round"/>
<path d="M577.0 746.6 632.3 723.4 687.5 680.8 742.8 662.3 798.0 672.0" fill="none" stroke="rgb(240,125,20)" stroke-width="2.8" stroke-dasharray="8 6.5"/>
<path d="M572.75 746.55H581.35M577.05 742.25V750.85M573.95 743.46L580.15 749.65M573.95 749.65L580.15 743.46" stroke="rgb(240,125,20)" stroke-width="2.4" fill="none"/>
<path d="M628 723.39H636.6M632.3 719.09V727.69M629.2 720.3L635.4 726.49M629.2 726.49L635.4 720.3" stroke="rgb(240,125,20)" stroke-width="2.4" fill="none"/>
<path d="M683.25 680.82H691.85M687.55 676.52V685.12M684.45 677.72L690.65 683.91M684.45 683.91L690.65 677.72" stroke="rgb(240,125,20)" stroke-width="2.4" fill="none"/>
<path d="M738.5 662.31H747.1M742.8 658.01V666.61M739.7 659.22L745.9 665.41M739.7 665.41L745.9 659.22" stroke="rgb(240,125,20)" stroke-width="2.4" fill="none"/>
<path d="M793.75 671.96H802.35M798.05 667.66V676.26M794.95 668.87L801.15 675.06M794.95 675.06L801.15 668.87" stroke="rgb(240,125,20)" stroke-width="2.4" fill="none"/>
<path d="M577.0 729.6 632.3 709.2 687.5 683.1 742.8 676.3 798.0 660.4" fill="none" stroke="rgb(224,6,42)" stroke-width="3"/>
<circle cx="577.05" cy="729.64" r="4.6" fill="#fff" stroke="rgb(224,6,42)" stroke-width="2.4"/>
<circle cx="632.3" cy="709.2" r="4.6" fill="#fff" stroke="rgb(224,6,42)" stroke-width="2.4"/>
<circle cx="687.55" cy="683.09" r="4.6" fill="#fff" stroke="rgb(224,6,42)" stroke-width="2.4"/>
<circle cx="742.8" cy="676.28" r="4.6" fill="#fff" stroke="rgb(224,6,42)" stroke-width="2.4"/>
<circle cx="798.05" cy="660.38" r="4.6" fill="#fff" stroke="rgb(224,6,42)" stroke-width="2.4"/>
<rect x="56.6" y="595.1" width="243.1" height="170.3" fill="none" stroke="#151515" stroke-width="1.6"/>
<path d="M67.65 765.4v-3M67.65 595.1v3M122.9 765.4v-3M122.9 595.1v3M178.15 765.4v-3M178.15 595.1v3M233.4 765.4v-3M233.4 595.1v3M288.65 765.4v-3M288.65 595.1v3" stroke="#151515" stroke-width="1.5" fill="none"/>
<path d="M56.6 708.63h3M299.7 708.63h-3M56.6 651.87h3M299.7 651.87h-3" stroke="#151515" stroke-width="1.5" fill="none"/>
<text x="67.65" y="787.5" font-size="17" text-anchor="middle" fill="#1e1e1e">100</text>
<text x="122.9" y="787.5" font-size="17" text-anchor="middle" fill="#1e1e1e">150</text>
<text x="178.15" y="787.5" font-size="17" text-anchor="middle" fill="#1e1e1e">200</text>
<text x="233.4" y="787.5" font-size="17" text-anchor="middle" fill="#1e1e1e">250</text>
<text x="288.65" y="787.5" font-size="17" text-anchor="middle" fill="#1e1e1e">300</text>
<text x="178.15" y="807.6" font-size="16.5" text-anchor="middle" font-weight="bold" fill="#1e1e1e">ISI (ms)</text>
<rect x="311.3" y="595.1" width="243.1" height="170.3" fill="none" stroke="#151515" stroke-width="1.6"/>
<path d="M322.35 765.4v-3M322.35 595.1v3M377.6 765.4v-3M377.6 595.1v3M432.85 765.4v-3M432.85 595.1v3M488.1 765.4v-3M488.1 595.1v3M543.35 765.4v-3M543.35 595.1v3" stroke="#151515" stroke-width="1.5" fill="none"/>
<path d="M311.3 708.63h3M554.4 708.63h-3M311.3 651.87h3M554.4 651.87h-3" stroke="#151515" stroke-width="1.5" fill="none"/>
<text x="322.35" y="787.5" font-size="17" text-anchor="middle" fill="#1e1e1e">100</text>
<text x="377.6" y="787.5" font-size="17" text-anchor="middle" fill="#1e1e1e">150</text>
<text x="432.85" y="787.5" font-size="17" text-anchor="middle" fill="#1e1e1e">200</text>
<text x="488.1" y="787.5" font-size="17" text-anchor="middle" fill="#1e1e1e">250</text>
<text x="543.35" y="787.5" font-size="17" text-anchor="middle" fill="#1e1e1e">300</text>
<text x="432.85" y="807.6" font-size="16.5" text-anchor="middle" font-weight="bold" fill="#1e1e1e">ISI (ms)</text>
<rect x="566" y="595.1" width="243.1" height="170.3" fill="none" stroke="#151515" stroke-width="1.6"/>
<path d="M577.05 765.4v-3M577.05 595.1v3M632.3 765.4v-3M632.3 595.1v3M687.55 765.4v-3M687.55 595.1v3M742.8 765.4v-3M742.8 595.1v3M798.05 765.4v-3M798.05 595.1v3" stroke="#151515" stroke-width="1.5" fill="none"/>
<path d="M566 708.63h3M809.1 708.63h-3M566 651.87h3M809.1 651.87h-3" stroke="#151515" stroke-width="1.5" fill="none"/>
<text x="577.05" y="787.5" font-size="17" text-anchor="middle" fill="#1e1e1e">100</text>
<text x="632.3" y="787.5" font-size="17" text-anchor="middle" fill="#1e1e1e">150</text>
<text x="687.55" y="787.5" font-size="17" text-anchor="middle" fill="#1e1e1e">200</text>
<text x="742.8" y="787.5" font-size="17" text-anchor="middle" fill="#1e1e1e">250</text>
<text x="798.05" y="787.5" font-size="17" text-anchor="middle" fill="#1e1e1e">300</text>
<text x="687.55" y="807.6" font-size="16.5" text-anchor="middle" font-weight="bold" fill="#1e1e1e">ISI (ms)</text>
<text x="49.6" y="771.2" font-size="17" text-anchor="end" fill="#1e1e1e">0</text>
<text x="49.6" y="714.43" font-size="17" text-anchor="end" fill="#1e1e1e">50</text>
<text x="49.6" y="657.67" font-size="17" text-anchor="end" fill="#1e1e1e">100</text>
<text x="49.6" y="600.9" font-size="17" text-anchor="end" fill="#1e1e1e">150</text>
<text x="433.7" y="590" font-size="16.5" text-anchor="middle" font-weight="bold" fill="#000">Paired pulse TMS-EMG</text>
<text x="0" y="0" font-size="16.5" text-anchor="middle" font-weight="bold" fill="#1e1e1e" transform="translate(14.0 679.1) rotate(-90)">TR/CR (%)</text>
</svg>
</body></html>
